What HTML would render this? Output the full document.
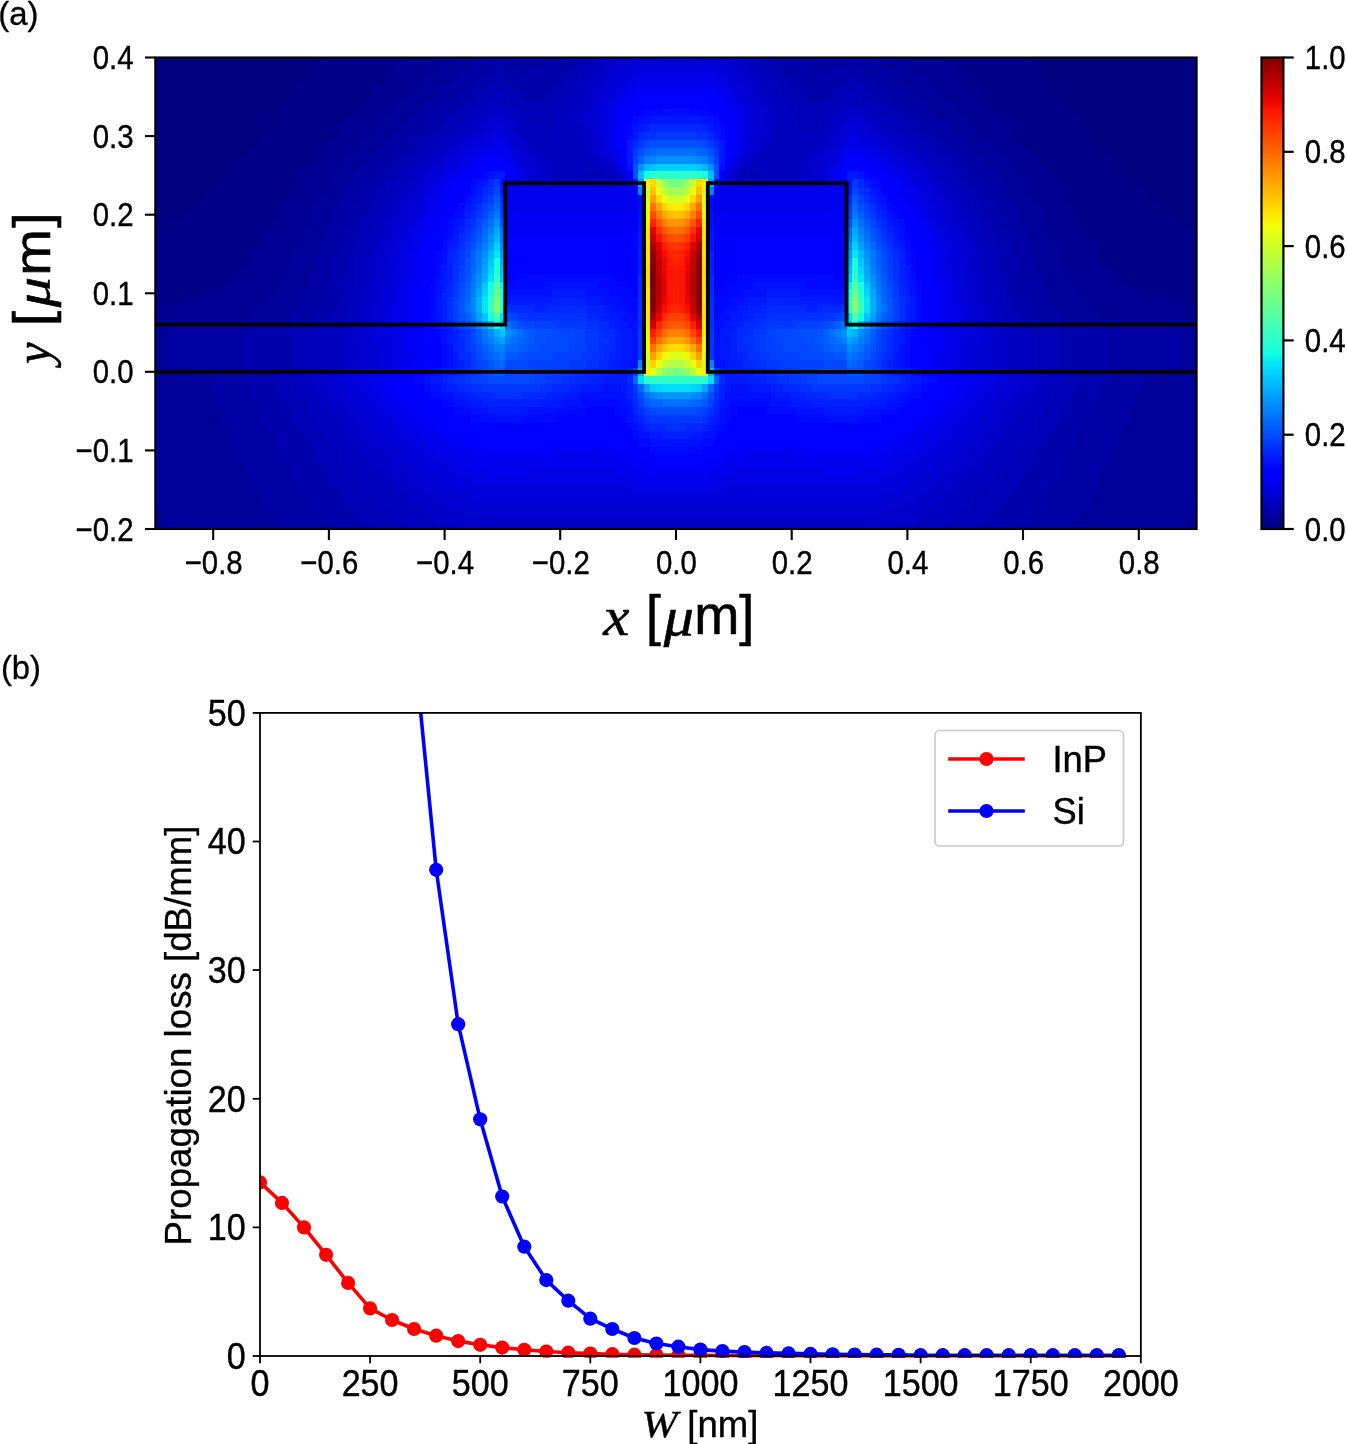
<!DOCTYPE html><html><head><meta charset="utf-8"><title>Figure</title><style>html,body{margin:0;padding:0;background:#fff}svg{display:block}text{font-family:"Liberation Sans",sans-serif;fill:#000}.it{font-family:"Liberation Serif",serif;font-style:italic}</style></head><body>
<svg width="1347" height="1444" viewBox="0 0 1347 1444">
<rect width="1347" height="1444" fill="#fff"/>
<g shape-rendering="crispEdges">
<rect x="155.3" y="57.5" width="171.0" height="4.2" fill="#000080"/><rect x="326.0" y="57.5" width="81.3" height="4.2" fill="#000089"/><rect x="406.9" y="57.5" width="46.6" height="4.2" fill="#000092"/><rect x="453.2" y="57.5" width="29.2" height="4.2" fill="#00009b"/><rect x="482.2" y="57.5" width="75.5" height="4.2" fill="#0000a4"/><rect x="557.4" y="57.5" width="23.4" height="4.2" fill="#0000ad"/><rect x="580.5" y="57.5" width="17.7" height="4.2" fill="#0000b6"/><rect x="597.9" y="57.5" width="11.9" height="4.2" fill="#0000bf"/><rect x="609.4" y="57.5" width="17.7" height="4.2" fill="#0000c8"/><rect x="626.8" y="57.5" width="29.2" height="4.2" fill="#0000d1"/><rect x="655.7" y="57.5" width="40.8" height="4.2" fill="#0000da"/><rect x="696.2" y="57.5" width="29.2" height="4.2" fill="#0000d1"/><rect x="725.1" y="57.5" width="17.7" height="4.2" fill="#0000c8"/><rect x="742.5" y="57.5" width="11.9" height="4.2" fill="#0000bf"/><rect x="754.0" y="57.5" width="17.7" height="4.2" fill="#0000b6"/><rect x="771.4" y="57.5" width="23.4" height="4.2" fill="#0000ad"/><rect x="794.5" y="57.5" width="75.5" height="4.2" fill="#0000a4"/><rect x="869.7" y="57.5" width="29.2" height="4.2" fill="#00009b"/><rect x="898.7" y="57.5" width="46.6" height="4.2" fill="#000092"/><rect x="945.0" y="57.5" width="81.3" height="4.2" fill="#000089"/><rect x="1025.9" y="57.5" width="171.0" height="4.2" fill="#000080"/><rect x="155.3" y="61.4" width="159.4" height="8.2" fill="#000080"/><rect x="314.4" y="61.4" width="81.3" height="8.2" fill="#000089"/><rect x="395.4" y="61.4" width="46.6" height="8.2" fill="#000092"/><rect x="441.7" y="61.4" width="29.2" height="8.2" fill="#00009b"/><rect x="470.6" y="61.4" width="29.2" height="8.2" fill="#0000a4"/><rect x="499.5" y="61.4" width="6.1" height="8.2" fill="#0000ad"/><rect x="505.3" y="61.4" width="40.8" height="8.2" fill="#0000a4"/><rect x="545.8" y="61.4" width="29.2" height="8.2" fill="#0000ad"/><rect x="574.7" y="61.4" width="17.7" height="8.2" fill="#0000b6"/><rect x="592.1" y="61.4" width="11.9" height="8.2" fill="#0000bf"/><rect x="603.6" y="61.4" width="11.9" height="8.2" fill="#0000c8"/><rect x="615.2" y="61.4" width="17.7" height="8.2" fill="#0000d1"/><rect x="632.6" y="61.4" width="87.1" height="8.2" fill="#0000da"/><rect x="719.3" y="61.4" width="17.7" height="8.2" fill="#0000d1"/><rect x="736.7" y="61.4" width="11.9" height="8.2" fill="#0000c8"/><rect x="748.3" y="61.4" width="11.9" height="8.2" fill="#0000bf"/><rect x="759.8" y="61.4" width="17.7" height="8.2" fill="#0000b6"/><rect x="777.2" y="61.4" width="29.2" height="8.2" fill="#0000ad"/><rect x="806.1" y="61.4" width="40.8" height="8.2" fill="#0000a4"/><rect x="846.6" y="61.4" width="6.1" height="8.2" fill="#0000ad"/><rect x="852.4" y="61.4" width="29.2" height="8.2" fill="#0000a4"/><rect x="881.3" y="61.4" width="29.2" height="8.2" fill="#00009b"/><rect x="910.2" y="61.4" width="46.6" height="8.2" fill="#000092"/><rect x="956.5" y="61.4" width="81.3" height="8.2" fill="#000089"/><rect x="1037.5" y="61.4" width="159.4" height="8.2" fill="#000080"/><rect x="155.3" y="69.3" width="153.6" height="8.2" fill="#000080"/><rect x="308.6" y="69.3" width="81.3" height="8.2" fill="#000089"/><rect x="389.6" y="69.3" width="40.8" height="8.2" fill="#000092"/><rect x="430.1" y="69.3" width="29.2" height="8.2" fill="#00009b"/><rect x="459.0" y="69.3" width="29.2" height="8.2" fill="#0000a4"/><rect x="487.9" y="69.3" width="35.0" height="8.2" fill="#0000ad"/><rect x="522.6" y="69.3" width="6.1" height="8.2" fill="#0000a4"/><rect x="528.4" y="69.3" width="40.8" height="8.2" fill="#0000ad"/><rect x="568.9" y="69.3" width="17.7" height="8.2" fill="#0000b6"/><rect x="586.3" y="69.3" width="11.9" height="8.2" fill="#0000bf"/><rect x="597.9" y="69.3" width="11.9" height="8.2" fill="#0000c8"/><rect x="609.4" y="69.3" width="11.9" height="8.2" fill="#0000d1"/><rect x="621.0" y="69.3" width="17.7" height="8.2" fill="#0000da"/><rect x="638.3" y="69.3" width="75.5" height="8.2" fill="#0000e3"/><rect x="713.6" y="69.3" width="17.7" height="8.2" fill="#0000da"/><rect x="730.9" y="69.3" width="11.9" height="8.2" fill="#0000d1"/><rect x="742.5" y="69.3" width="11.9" height="8.2" fill="#0000c8"/><rect x="754.0" y="69.3" width="11.9" height="8.2" fill="#0000bf"/><rect x="765.6" y="69.3" width="17.7" height="8.2" fill="#0000b6"/><rect x="783.0" y="69.3" width="40.8" height="8.2" fill="#0000ad"/><rect x="823.5" y="69.3" width="6.1" height="8.2" fill="#0000a4"/><rect x="829.3" y="69.3" width="35.0" height="8.2" fill="#0000ad"/><rect x="864.0" y="69.3" width="29.2" height="8.2" fill="#0000a4"/><rect x="892.9" y="69.3" width="29.2" height="8.2" fill="#00009b"/><rect x="921.8" y="69.3" width="40.8" height="8.2" fill="#000092"/><rect x="962.3" y="69.3" width="81.3" height="8.2" fill="#000089"/><rect x="1043.3" y="69.3" width="153.6" height="8.2" fill="#000080"/><rect x="155.3" y="77.1" width="147.8" height="8.2" fill="#000080"/><rect x="302.8" y="77.1" width="81.3" height="8.2" fill="#000089"/><rect x="383.8" y="77.1" width="40.8" height="8.2" fill="#000092"/><rect x="424.3" y="77.1" width="29.2" height="8.2" fill="#00009b"/><rect x="453.2" y="77.1" width="23.4" height="8.2" fill="#0000a4"/><rect x="476.4" y="77.1" width="17.7" height="8.2" fill="#0000ad"/><rect x="493.7" y="77.1" width="11.9" height="8.2" fill="#0000b6"/><rect x="505.3" y="77.1" width="58.2" height="8.2" fill="#0000ad"/><rect x="563.1" y="77.1" width="17.7" height="8.2" fill="#0000b6"/><rect x="580.5" y="77.1" width="11.9" height="8.2" fill="#0000bf"/><rect x="592.1" y="77.1" width="11.9" height="8.2" fill="#0000c8"/><rect x="603.6" y="77.1" width="11.9" height="8.2" fill="#0000d1"/><rect x="615.2" y="77.1" width="11.9" height="8.2" fill="#0000da"/><rect x="626.8" y="77.1" width="11.9" height="8.2" fill="#0000e3"/><rect x="638.3" y="77.1" width="75.5" height="8.2" fill="#0000ec"/><rect x="713.6" y="77.1" width="11.9" height="8.2" fill="#0000e3"/><rect x="725.1" y="77.1" width="11.9" height="8.2" fill="#0000da"/><rect x="736.7" y="77.1" width="11.9" height="8.2" fill="#0000d1"/><rect x="748.3" y="77.1" width="11.9" height="8.2" fill="#0000c8"/><rect x="759.8" y="77.1" width="11.9" height="8.2" fill="#0000bf"/><rect x="771.4" y="77.1" width="17.7" height="8.2" fill="#0000b6"/><rect x="788.8" y="77.1" width="58.2" height="8.2" fill="#0000ad"/><rect x="846.6" y="77.1" width="11.9" height="8.2" fill="#0000b6"/><rect x="858.2" y="77.1" width="17.7" height="8.2" fill="#0000ad"/><rect x="875.5" y="77.1" width="23.4" height="8.2" fill="#0000a4"/><rect x="898.7" y="77.1" width="29.2" height="8.2" fill="#00009b"/><rect x="927.6" y="77.1" width="40.8" height="8.2" fill="#000092"/><rect x="968.1" y="77.1" width="81.3" height="8.2" fill="#000089"/><rect x="1049.1" y="77.1" width="147.8" height="8.2" fill="#000080"/><rect x="155.3" y="85.0" width="142.0" height="8.2" fill="#000080"/><rect x="297.0" y="85.0" width="75.5" height="8.2" fill="#000089"/><rect x="372.2" y="85.0" width="40.8" height="8.2" fill="#000092"/><rect x="412.7" y="85.0" width="29.2" height="8.2" fill="#00009b"/><rect x="441.7" y="85.0" width="23.4" height="8.2" fill="#0000a4"/><rect x="464.8" y="85.0" width="23.4" height="8.2" fill="#0000ad"/><rect x="487.9" y="85.0" width="23.4" height="8.2" fill="#0000b6"/><rect x="511.1" y="85.0" width="46.6" height="8.2" fill="#0000ad"/><rect x="557.4" y="85.0" width="17.7" height="8.2" fill="#0000b6"/><rect x="574.7" y="85.0" width="17.7" height="8.2" fill="#0000bf"/><rect x="592.1" y="85.0" width="6.1" height="8.2" fill="#0000c8"/><rect x="597.9" y="85.0" width="11.9" height="8.2" fill="#0000d1"/><rect x="609.4" y="85.0" width="11.9" height="8.2" fill="#0000da"/><rect x="621.0" y="85.0" width="6.1" height="8.2" fill="#0000e3"/><rect x="626.8" y="85.0" width="11.9" height="8.2" fill="#0000ec"/><rect x="638.3" y="85.0" width="75.5" height="8.2" fill="#0000f5"/><rect x="713.6" y="85.0" width="11.9" height="8.2" fill="#0000ec"/><rect x="725.1" y="85.0" width="6.1" height="8.2" fill="#0000e3"/><rect x="730.9" y="85.0" width="11.9" height="8.2" fill="#0000da"/><rect x="742.5" y="85.0" width="11.9" height="8.2" fill="#0000d1"/><rect x="754.0" y="85.0" width="6.1" height="8.2" fill="#0000c8"/><rect x="759.8" y="85.0" width="17.7" height="8.2" fill="#0000bf"/><rect x="777.2" y="85.0" width="17.7" height="8.2" fill="#0000b6"/><rect x="794.5" y="85.0" width="46.6" height="8.2" fill="#0000ad"/><rect x="840.8" y="85.0" width="23.4" height="8.2" fill="#0000b6"/><rect x="864.0" y="85.0" width="23.4" height="8.2" fill="#0000ad"/><rect x="887.1" y="85.0" width="23.4" height="8.2" fill="#0000a4"/><rect x="910.2" y="85.0" width="29.2" height="8.2" fill="#00009b"/><rect x="939.2" y="85.0" width="40.8" height="8.2" fill="#000092"/><rect x="979.7" y="85.0" width="75.5" height="8.2" fill="#000089"/><rect x="1054.9" y="85.0" width="142.0" height="8.2" fill="#000080"/><rect x="155.3" y="92.9" width="136.2" height="8.2" fill="#000080"/><rect x="291.2" y="92.9" width="75.5" height="8.2" fill="#000089"/><rect x="366.5" y="92.9" width="40.8" height="8.2" fill="#000092"/><rect x="406.9" y="92.9" width="29.2" height="8.2" fill="#00009b"/><rect x="435.9" y="92.9" width="23.4" height="8.2" fill="#0000a4"/><rect x="459.0" y="92.9" width="17.7" height="8.2" fill="#0000ad"/><rect x="476.4" y="92.9" width="17.7" height="8.2" fill="#0000b6"/><rect x="493.7" y="92.9" width="11.9" height="8.2" fill="#0000bf"/><rect x="505.3" y="92.9" width="17.7" height="8.2" fill="#0000b6"/><rect x="522.6" y="92.9" width="23.4" height="8.2" fill="#0000ad"/><rect x="545.8" y="92.9" width="23.4" height="8.2" fill="#0000b6"/><rect x="568.9" y="92.9" width="17.7" height="8.2" fill="#0000bf"/><rect x="586.3" y="92.9" width="11.9" height="8.2" fill="#0000c8"/><rect x="597.9" y="92.9" width="6.1" height="8.2" fill="#0000d1"/><rect x="603.6" y="92.9" width="11.9" height="8.2" fill="#0000da"/><rect x="615.2" y="92.9" width="6.1" height="8.2" fill="#0000e3"/><rect x="621.0" y="92.9" width="6.1" height="8.2" fill="#0000ec"/><rect x="626.8" y="92.9" width="11.9" height="8.2" fill="#0000f5"/><rect x="638.3" y="92.9" width="17.7" height="8.2" fill="#0000fe"/><rect x="655.7" y="92.9" width="40.8" height="8.2" fill="#0000ff"/><rect x="696.2" y="92.9" width="17.7" height="8.2" fill="#0000fe"/><rect x="713.6" y="92.9" width="11.9" height="8.2" fill="#0000f5"/><rect x="725.1" y="92.9" width="6.1" height="8.2" fill="#0000ec"/><rect x="730.9" y="92.9" width="6.1" height="8.2" fill="#0000e3"/><rect x="736.7" y="92.9" width="11.9" height="8.2" fill="#0000da"/><rect x="748.3" y="92.9" width="6.1" height="8.2" fill="#0000d1"/><rect x="754.0" y="92.9" width="11.9" height="8.2" fill="#0000c8"/><rect x="765.6" y="92.9" width="17.7" height="8.2" fill="#0000bf"/><rect x="783.0" y="92.9" width="23.4" height="8.2" fill="#0000b6"/><rect x="806.1" y="92.9" width="23.4" height="8.2" fill="#0000ad"/><rect x="829.3" y="92.9" width="17.7" height="8.2" fill="#0000b6"/><rect x="846.6" y="92.9" width="11.9" height="8.2" fill="#0000bf"/><rect x="858.2" y="92.9" width="17.7" height="8.2" fill="#0000b6"/><rect x="875.5" y="92.9" width="17.7" height="8.2" fill="#0000ad"/><rect x="892.9" y="92.9" width="23.4" height="8.2" fill="#0000a4"/><rect x="916.0" y="92.9" width="29.2" height="8.2" fill="#00009b"/><rect x="945.0" y="92.9" width="40.8" height="8.2" fill="#000092"/><rect x="985.4" y="92.9" width="75.5" height="8.2" fill="#000089"/><rect x="1060.7" y="92.9" width="136.2" height="8.2" fill="#000080"/><rect x="155.3" y="100.7" width="130.5" height="8.2" fill="#000080"/><rect x="285.5" y="100.7" width="75.5" height="8.2" fill="#000089"/><rect x="360.7" y="100.7" width="35.0" height="8.2" fill="#000092"/><rect x="395.4" y="100.7" width="29.2" height="8.2" fill="#00009b"/><rect x="424.3" y="100.7" width="23.4" height="8.2" fill="#0000a4"/><rect x="447.4" y="100.7" width="17.7" height="8.2" fill="#0000ad"/><rect x="464.8" y="100.7" width="17.7" height="8.2" fill="#0000b6"/><rect x="482.2" y="100.7" width="29.2" height="8.2" fill="#0000bf"/><rect x="511.1" y="100.7" width="52.4" height="8.2" fill="#0000b6"/><rect x="563.1" y="100.7" width="17.7" height="8.2" fill="#0000bf"/><rect x="580.5" y="100.7" width="11.9" height="8.2" fill="#0000c8"/><rect x="592.1" y="100.7" width="6.1" height="8.2" fill="#0000d1"/><rect x="597.9" y="100.7" width="11.9" height="8.2" fill="#0000da"/><rect x="609.4" y="100.7" width="6.1" height="8.2" fill="#0000e3"/><rect x="615.2" y="100.7" width="6.1" height="8.2" fill="#0000ec"/><rect x="621.0" y="100.7" width="6.1" height="8.2" fill="#0000f5"/><rect x="626.8" y="100.7" width="11.9" height="8.2" fill="#0000fe"/><rect x="638.3" y="100.7" width="11.9" height="8.2" fill="#0000ff"/><rect x="649.9" y="100.7" width="52.4" height="8.2" fill="#0000ff"/><rect x="702.0" y="100.7" width="11.9" height="8.2" fill="#0000ff"/><rect x="713.6" y="100.7" width="11.9" height="8.2" fill="#0000fe"/><rect x="725.1" y="100.7" width="6.1" height="8.2" fill="#0000f5"/><rect x="730.9" y="100.7" width="6.1" height="8.2" fill="#0000ec"/><rect x="736.7" y="100.7" width="6.1" height="8.2" fill="#0000e3"/><rect x="742.5" y="100.7" width="11.9" height="8.2" fill="#0000da"/><rect x="754.0" y="100.7" width="6.1" height="8.2" fill="#0000d1"/><rect x="759.8" y="100.7" width="11.9" height="8.2" fill="#0000c8"/><rect x="771.4" y="100.7" width="17.7" height="8.2" fill="#0000bf"/><rect x="788.8" y="100.7" width="52.4" height="8.2" fill="#0000b6"/><rect x="840.8" y="100.7" width="29.2" height="8.2" fill="#0000bf"/><rect x="869.7" y="100.7" width="17.7" height="8.2" fill="#0000b6"/><rect x="887.1" y="100.7" width="17.7" height="8.2" fill="#0000ad"/><rect x="904.5" y="100.7" width="23.4" height="8.2" fill="#0000a4"/><rect x="927.6" y="100.7" width="29.2" height="8.2" fill="#00009b"/><rect x="956.5" y="100.7" width="35.0" height="8.2" fill="#000092"/><rect x="991.2" y="100.7" width="75.5" height="8.2" fill="#000089"/><rect x="1066.4" y="100.7" width="130.5" height="8.2" fill="#000080"/><rect x="155.3" y="108.6" width="124.7" height="8.2" fill="#000080"/><rect x="279.7" y="108.6" width="75.5" height="8.2" fill="#000089"/><rect x="354.9" y="108.6" width="35.0" height="8.2" fill="#000092"/><rect x="389.6" y="108.6" width="29.2" height="8.2" fill="#00009b"/><rect x="418.5" y="108.6" width="17.7" height="8.2" fill="#0000a4"/><rect x="435.9" y="108.6" width="17.7" height="8.2" fill="#0000ad"/><rect x="453.2" y="108.6" width="17.7" height="8.2" fill="#0000b6"/><rect x="470.6" y="108.6" width="17.7" height="8.2" fill="#0000bf"/><rect x="487.9" y="108.6" width="23.4" height="8.2" fill="#0000c8"/><rect x="511.1" y="108.6" width="11.9" height="8.2" fill="#0000bf"/><rect x="522.6" y="108.6" width="35.0" height="8.2" fill="#0000b6"/><rect x="557.4" y="108.6" width="17.7" height="8.2" fill="#0000bf"/><rect x="574.7" y="108.6" width="11.9" height="8.2" fill="#0000c8"/><rect x="586.3" y="108.6" width="11.9" height="8.2" fill="#0000d1"/><rect x="597.9" y="108.6" width="6.1" height="8.2" fill="#0000da"/><rect x="603.6" y="108.6" width="6.1" height="8.2" fill="#0000e3"/><rect x="609.4" y="108.6" width="6.1" height="8.2" fill="#0000ec"/><rect x="615.2" y="108.6" width="6.1" height="8.2" fill="#0000f5"/><rect x="621.0" y="108.6" width="6.1" height="8.2" fill="#0000fe"/><rect x="626.8" y="108.6" width="6.1" height="8.2" fill="#0000ff"/><rect x="632.6" y="108.6" width="11.9" height="8.2" fill="#0000ff"/><rect x="644.1" y="108.6" width="17.7" height="8.2" fill="#0008ff"/><rect x="661.5" y="108.6" width="29.2" height="8.2" fill="#0010ff"/><rect x="690.4" y="108.6" width="17.7" height="8.2" fill="#0008ff"/><rect x="707.8" y="108.6" width="11.9" height="8.2" fill="#0000ff"/><rect x="719.3" y="108.6" width="6.1" height="8.2" fill="#0000ff"/><rect x="725.1" y="108.6" width="6.1" height="8.2" fill="#0000fe"/><rect x="730.9" y="108.6" width="6.1" height="8.2" fill="#0000f5"/><rect x="736.7" y="108.6" width="6.1" height="8.2" fill="#0000ec"/><rect x="742.5" y="108.6" width="6.1" height="8.2" fill="#0000e3"/><rect x="748.3" y="108.6" width="6.1" height="8.2" fill="#0000da"/><rect x="754.0" y="108.6" width="11.9" height="8.2" fill="#0000d1"/><rect x="765.6" y="108.6" width="11.9" height="8.2" fill="#0000c8"/><rect x="777.2" y="108.6" width="17.7" height="8.2" fill="#0000bf"/><rect x="794.5" y="108.6" width="35.0" height="8.2" fill="#0000b6"/><rect x="829.3" y="108.6" width="11.9" height="8.2" fill="#0000bf"/><rect x="840.8" y="108.6" width="23.4" height="8.2" fill="#0000c8"/><rect x="864.0" y="108.6" width="17.7" height="8.2" fill="#0000bf"/><rect x="881.3" y="108.6" width="17.7" height="8.2" fill="#0000b6"/><rect x="898.7" y="108.6" width="17.7" height="8.2" fill="#0000ad"/><rect x="916.0" y="108.6" width="17.7" height="8.2" fill="#0000a4"/><rect x="933.4" y="108.6" width="29.2" height="8.2" fill="#00009b"/><rect x="962.3" y="108.6" width="35.0" height="8.2" fill="#000092"/><rect x="997.0" y="108.6" width="75.5" height="8.2" fill="#000089"/><rect x="1072.2" y="108.6" width="124.7" height="8.2" fill="#000080"/><rect x="155.3" y="116.4" width="118.9" height="8.2" fill="#000080"/><rect x="273.9" y="116.4" width="69.7" height="8.2" fill="#000089"/><rect x="343.3" y="116.4" width="40.8" height="8.2" fill="#000092"/><rect x="383.8" y="116.4" width="23.4" height="8.2" fill="#00009b"/><rect x="406.9" y="116.4" width="23.4" height="8.2" fill="#0000a4"/><rect x="430.1" y="116.4" width="17.7" height="8.2" fill="#0000ad"/><rect x="447.4" y="116.4" width="17.7" height="8.2" fill="#0000b6"/><rect x="464.8" y="116.4" width="11.9" height="8.2" fill="#0000bf"/><rect x="476.4" y="116.4" width="11.9" height="8.2" fill="#0000c8"/><rect x="487.9" y="116.4" width="17.7" height="8.2" fill="#0000d1"/><rect x="505.3" y="116.4" width="11.9" height="8.2" fill="#0000c8"/><rect x="516.9" y="116.4" width="11.9" height="8.2" fill="#0000bf"/><rect x="528.4" y="116.4" width="29.2" height="8.2" fill="#0000b6"/><rect x="557.4" y="116.4" width="17.7" height="8.2" fill="#0000bf"/><rect x="574.7" y="116.4" width="11.9" height="8.2" fill="#0000c8"/><rect x="586.3" y="116.4" width="11.9" height="8.2" fill="#0000d1"/><rect x="597.9" y="116.4" width="6.1" height="8.2" fill="#0000da"/><rect x="603.6" y="116.4" width="6.1" height="8.2" fill="#0000e3"/><rect x="609.4" y="116.4" width="6.1" height="8.2" fill="#0000ec"/><rect x="615.2" y="116.4" width="6.1" height="8.2" fill="#0000f5"/><rect x="621.0" y="116.4" width="6.1" height="8.2" fill="#0000ff"/><rect x="626.8" y="116.4" width="6.1" height="8.2" fill="#0000ff"/><rect x="632.6" y="116.4" width="6.1" height="8.2" fill="#0008ff"/><rect x="638.3" y="116.4" width="11.9" height="8.2" fill="#0010ff"/><rect x="649.9" y="116.4" width="52.4" height="8.2" fill="#0018ff"/><rect x="702.0" y="116.4" width="11.9" height="8.2" fill="#0010ff"/><rect x="713.6" y="116.4" width="6.1" height="8.2" fill="#0008ff"/><rect x="719.3" y="116.4" width="6.1" height="8.2" fill="#0000ff"/><rect x="725.1" y="116.4" width="6.1" height="8.2" fill="#0000ff"/><rect x="730.9" y="116.4" width="6.1" height="8.2" fill="#0000f5"/><rect x="736.7" y="116.4" width="6.1" height="8.2" fill="#0000ec"/><rect x="742.5" y="116.4" width="6.1" height="8.2" fill="#0000e3"/><rect x="748.3" y="116.4" width="6.1" height="8.2" fill="#0000da"/><rect x="754.0" y="116.4" width="11.9" height="8.2" fill="#0000d1"/><rect x="765.6" y="116.4" width="11.9" height="8.2" fill="#0000c8"/><rect x="777.2" y="116.4" width="17.7" height="8.2" fill="#0000bf"/><rect x="794.5" y="116.4" width="29.2" height="8.2" fill="#0000b6"/><rect x="823.5" y="116.4" width="11.9" height="8.2" fill="#0000bf"/><rect x="835.0" y="116.4" width="11.9" height="8.2" fill="#0000c8"/><rect x="846.6" y="116.4" width="17.7" height="8.2" fill="#0000d1"/><rect x="864.0" y="116.4" width="11.9" height="8.2" fill="#0000c8"/><rect x="875.5" y="116.4" width="11.9" height="8.2" fill="#0000bf"/><rect x="887.1" y="116.4" width="17.7" height="8.2" fill="#0000b6"/><rect x="904.5" y="116.4" width="17.7" height="8.2" fill="#0000ad"/><rect x="921.8" y="116.4" width="23.4" height="8.2" fill="#0000a4"/><rect x="945.0" y="116.4" width="23.4" height="8.2" fill="#00009b"/><rect x="968.1" y="116.4" width="40.8" height="8.2" fill="#000092"/><rect x="1008.6" y="116.4" width="69.7" height="8.2" fill="#000089"/><rect x="1078.0" y="116.4" width="118.9" height="8.2" fill="#000080"/><rect x="155.3" y="124.3" width="113.1" height="8.2" fill="#000080"/><rect x="268.1" y="124.3" width="69.7" height="8.2" fill="#000089"/><rect x="337.5" y="124.3" width="40.8" height="8.2" fill="#000092"/><rect x="378.0" y="124.3" width="23.4" height="8.2" fill="#00009b"/><rect x="401.2" y="124.3" width="23.4" height="8.2" fill="#0000a4"/><rect x="424.3" y="124.3" width="17.7" height="8.2" fill="#0000ad"/><rect x="441.7" y="124.3" width="11.9" height="8.2" fill="#0000b6"/><rect x="453.2" y="124.3" width="17.7" height="8.2" fill="#0000bf"/><rect x="470.6" y="124.3" width="11.9" height="8.2" fill="#0000c8"/><rect x="482.2" y="124.3" width="11.9" height="8.2" fill="#0000d1"/><rect x="493.7" y="124.3" width="11.9" height="8.2" fill="#0000da"/><rect x="505.3" y="124.3" width="6.1" height="8.2" fill="#0000d1"/><rect x="511.1" y="124.3" width="6.1" height="8.2" fill="#0000c8"/><rect x="516.9" y="124.3" width="23.4" height="8.2" fill="#0000bf"/><rect x="540.0" y="124.3" width="11.9" height="8.2" fill="#0000b6"/><rect x="551.6" y="124.3" width="29.2" height="8.2" fill="#0000bf"/><rect x="580.5" y="124.3" width="6.1" height="8.2" fill="#0000c8"/><rect x="586.3" y="124.3" width="11.9" height="8.2" fill="#0000d1"/><rect x="597.9" y="124.3" width="6.1" height="8.2" fill="#0000da"/><rect x="603.6" y="124.3" width="6.1" height="8.2" fill="#0000e3"/><rect x="609.4" y="124.3" width="6.1" height="8.2" fill="#0000ec"/><rect x="615.2" y="124.3" width="6.1" height="8.2" fill="#0000fe"/><rect x="621.0" y="124.3" width="6.1" height="8.2" fill="#0000ff"/><rect x="626.8" y="124.3" width="6.1" height="8.2" fill="#0008ff"/><rect x="632.6" y="124.3" width="6.1" height="8.2" fill="#0010ff"/><rect x="638.3" y="124.3" width="6.1" height="8.2" fill="#0018ff"/><rect x="644.1" y="124.3" width="6.1" height="8.2" fill="#0020ff"/><rect x="649.9" y="124.3" width="52.4" height="8.2" fill="#0028ff"/><rect x="702.0" y="124.3" width="6.1" height="8.2" fill="#0020ff"/><rect x="707.8" y="124.3" width="6.1" height="8.2" fill="#0018ff"/><rect x="713.6" y="124.3" width="6.1" height="8.2" fill="#0010ff"/><rect x="719.3" y="124.3" width="6.1" height="8.2" fill="#0008ff"/><rect x="725.1" y="124.3" width="6.1" height="8.2" fill="#0000ff"/><rect x="730.9" y="124.3" width="6.1" height="8.2" fill="#0000fe"/><rect x="736.7" y="124.3" width="6.1" height="8.2" fill="#0000ec"/><rect x="742.5" y="124.3" width="6.1" height="8.2" fill="#0000e3"/><rect x="748.3" y="124.3" width="6.1" height="8.2" fill="#0000da"/><rect x="754.0" y="124.3" width="11.9" height="8.2" fill="#0000d1"/><rect x="765.6" y="124.3" width="6.1" height="8.2" fill="#0000c8"/><rect x="771.4" y="124.3" width="29.2" height="8.2" fill="#0000bf"/><rect x="800.3" y="124.3" width="11.9" height="8.2" fill="#0000b6"/><rect x="811.9" y="124.3" width="23.4" height="8.2" fill="#0000bf"/><rect x="835.0" y="124.3" width="6.1" height="8.2" fill="#0000c8"/><rect x="840.8" y="124.3" width="6.1" height="8.2" fill="#0000d1"/><rect x="846.6" y="124.3" width="11.9" height="8.2" fill="#0000da"/><rect x="858.2" y="124.3" width="11.9" height="8.2" fill="#0000d1"/><rect x="869.7" y="124.3" width="11.9" height="8.2" fill="#0000c8"/><rect x="881.3" y="124.3" width="17.7" height="8.2" fill="#0000bf"/><rect x="898.7" y="124.3" width="11.9" height="8.2" fill="#0000b6"/><rect x="910.2" y="124.3" width="17.7" height="8.2" fill="#0000ad"/><rect x="927.6" y="124.3" width="23.4" height="8.2" fill="#0000a4"/><rect x="950.7" y="124.3" width="23.4" height="8.2" fill="#00009b"/><rect x="973.9" y="124.3" width="40.8" height="8.2" fill="#000092"/><rect x="1014.4" y="124.3" width="69.7" height="8.2" fill="#000089"/><rect x="1083.8" y="124.3" width="113.1" height="8.2" fill="#000080"/><rect x="155.3" y="132.2" width="107.3" height="8.2" fill="#000080"/><rect x="262.3" y="132.2" width="75.5" height="8.2" fill="#000089"/><rect x="337.5" y="132.2" width="35.0" height="8.2" fill="#000092"/><rect x="372.2" y="132.2" width="23.4" height="8.2" fill="#00009b"/><rect x="395.4" y="132.2" width="17.7" height="8.2" fill="#0000a4"/><rect x="412.7" y="132.2" width="17.7" height="8.2" fill="#0000ad"/><rect x="430.1" y="132.2" width="17.7" height="8.2" fill="#0000b6"/><rect x="447.4" y="132.2" width="11.9" height="8.2" fill="#0000bf"/><rect x="459.0" y="132.2" width="11.9" height="8.2" fill="#0000c8"/><rect x="470.6" y="132.2" width="11.9" height="8.2" fill="#0000d1"/><rect x="482.2" y="132.2" width="11.9" height="8.2" fill="#0000da"/><rect x="493.7" y="132.2" width="11.9" height="8.2" fill="#0000e3"/><rect x="505.3" y="132.2" width="11.9" height="8.2" fill="#0000d1"/><rect x="516.9" y="132.2" width="6.1" height="8.2" fill="#0000c8"/><rect x="522.6" y="132.2" width="58.1" height="8.2" fill="#0000bf"/><rect x="580.5" y="132.2" width="11.9" height="8.2" fill="#0000c8"/><rect x="592.1" y="132.2" width="6.1" height="8.2" fill="#0000d1"/><rect x="597.9" y="132.2" width="6.1" height="8.2" fill="#0000da"/><rect x="603.6" y="132.2" width="6.1" height="8.2" fill="#0000e3"/><rect x="609.4" y="132.2" width="6.1" height="8.2" fill="#0000ec"/><rect x="615.2" y="132.2" width="6.1" height="8.2" fill="#0000fe"/><rect x="621.0" y="132.2" width="6.1" height="8.2" fill="#0000ff"/><rect x="626.8" y="132.2" width="6.1" height="8.2" fill="#0008ff"/><rect x="632.6" y="132.2" width="6.1" height="8.2" fill="#0018ff"/><rect x="638.3" y="132.2" width="6.1" height="8.2" fill="#0028ff"/><rect x="644.1" y="132.2" width="11.9" height="8.2" fill="#0030ff"/><rect x="655.7" y="132.2" width="40.8" height="8.2" fill="#0038ff"/><rect x="696.2" y="132.2" width="11.9" height="8.2" fill="#0030ff"/><rect x="707.8" y="132.2" width="6.1" height="8.2" fill="#0028ff"/><rect x="713.6" y="132.2" width="6.1" height="8.2" fill="#0018ff"/><rect x="719.3" y="132.2" width="6.1" height="8.2" fill="#0008ff"/><rect x="725.1" y="132.2" width="6.1" height="8.2" fill="#0000ff"/><rect x="730.9" y="132.2" width="6.1" height="8.2" fill="#0000fe"/><rect x="736.7" y="132.2" width="6.1" height="8.2" fill="#0000ec"/><rect x="742.5" y="132.2" width="6.1" height="8.2" fill="#0000e3"/><rect x="748.3" y="132.2" width="6.1" height="8.2" fill="#0000da"/><rect x="754.0" y="132.2" width="6.1" height="8.2" fill="#0000d1"/><rect x="759.8" y="132.2" width="11.9" height="8.2" fill="#0000c8"/><rect x="771.4" y="132.2" width="58.2" height="8.2" fill="#0000bf"/><rect x="829.3" y="132.2" width="6.1" height="8.2" fill="#0000c8"/><rect x="835.0" y="132.2" width="11.9" height="8.2" fill="#0000d1"/><rect x="846.6" y="132.2" width="11.9" height="8.2" fill="#0000e3"/><rect x="858.2" y="132.2" width="11.9" height="8.2" fill="#0000da"/><rect x="869.7" y="132.2" width="11.9" height="8.2" fill="#0000d1"/><rect x="881.3" y="132.2" width="11.9" height="8.2" fill="#0000c8"/><rect x="892.9" y="132.2" width="11.9" height="8.2" fill="#0000bf"/><rect x="904.5" y="132.2" width="17.7" height="8.2" fill="#0000b6"/><rect x="921.8" y="132.2" width="17.7" height="8.2" fill="#0000ad"/><rect x="939.2" y="132.2" width="17.7" height="8.2" fill="#0000a4"/><rect x="956.5" y="132.2" width="23.4" height="8.2" fill="#00009b"/><rect x="979.7" y="132.2" width="35.0" height="8.2" fill="#000092"/><rect x="1014.4" y="132.2" width="75.5" height="8.2" fill="#000089"/><rect x="1089.6" y="132.2" width="107.3" height="8.2" fill="#000080"/><rect x="155.3" y="140.0" width="101.5" height="8.2" fill="#000080"/><rect x="256.5" y="140.0" width="69.7" height="8.2" fill="#000089"/><rect x="326.0" y="140.0" width="35.0" height="8.2" fill="#000092"/><rect x="360.7" y="140.0" width="23.4" height="8.2" fill="#00009b"/><rect x="383.8" y="140.0" width="23.4" height="8.2" fill="#0000a4"/><rect x="406.9" y="140.0" width="11.9" height="8.2" fill="#0000ad"/><rect x="418.5" y="140.0" width="17.7" height="8.2" fill="#0000b6"/><rect x="435.9" y="140.0" width="11.9" height="8.2" fill="#0000bf"/><rect x="447.4" y="140.0" width="11.9" height="8.2" fill="#0000c8"/><rect x="459.0" y="140.0" width="11.9" height="8.2" fill="#0000d1"/><rect x="470.6" y="140.0" width="11.9" height="8.2" fill="#0000da"/><rect x="482.2" y="140.0" width="11.9" height="8.2" fill="#0000e3"/><rect x="493.7" y="140.0" width="11.9" height="8.2" fill="#0000ec"/><rect x="505.3" y="140.0" width="6.1" height="8.2" fill="#0000da"/><rect x="511.1" y="140.0" width="11.9" height="8.2" fill="#0000d1"/><rect x="522.6" y="140.0" width="6.1" height="8.2" fill="#0000c8"/><rect x="528.4" y="140.0" width="58.2" height="8.2" fill="#0000bf"/><rect x="586.3" y="140.0" width="6.1" height="8.2" fill="#0000c8"/><rect x="592.1" y="140.0" width="11.9" height="8.2" fill="#0000d1"/><rect x="603.6" y="140.0" width="6.1" height="8.2" fill="#0000e3"/><rect x="609.4" y="140.0" width="6.1" height="8.2" fill="#0000ec"/><rect x="615.2" y="140.0" width="6.1" height="8.2" fill="#0000fe"/><rect x="621.0" y="140.0" width="6.1" height="8.2" fill="#0000ff"/><rect x="626.8" y="140.0" width="6.1" height="8.2" fill="#0018ff"/><rect x="632.6" y="140.0" width="6.1" height="8.2" fill="#0028ff"/><rect x="638.3" y="140.0" width="6.1" height="8.2" fill="#0038ff"/><rect x="644.1" y="140.0" width="6.1" height="8.2" fill="#0048ff"/><rect x="649.9" y="140.0" width="52.4" height="8.2" fill="#0050ff"/><rect x="702.0" y="140.0" width="6.1" height="8.2" fill="#0048ff"/><rect x="707.8" y="140.0" width="6.1" height="8.2" fill="#0038ff"/><rect x="713.6" y="140.0" width="6.1" height="8.2" fill="#0028ff"/><rect x="719.3" y="140.0" width="6.1" height="8.2" fill="#0018ff"/><rect x="725.1" y="140.0" width="6.1" height="8.2" fill="#0000ff"/><rect x="730.9" y="140.0" width="6.1" height="8.2" fill="#0000fe"/><rect x="736.7" y="140.0" width="6.1" height="8.2" fill="#0000ec"/><rect x="742.5" y="140.0" width="6.1" height="8.2" fill="#0000e3"/><rect x="748.3" y="140.0" width="11.9" height="8.2" fill="#0000d1"/><rect x="759.8" y="140.0" width="6.1" height="8.2" fill="#0000c8"/><rect x="765.6" y="140.0" width="58.1" height="8.2" fill="#0000bf"/><rect x="823.5" y="140.0" width="6.1" height="8.2" fill="#0000c8"/><rect x="829.3" y="140.0" width="11.9" height="8.2" fill="#0000d1"/><rect x="840.8" y="140.0" width="6.1" height="8.2" fill="#0000da"/><rect x="846.6" y="140.0" width="11.9" height="8.2" fill="#0000ec"/><rect x="858.2" y="140.0" width="11.9" height="8.2" fill="#0000e3"/><rect x="869.7" y="140.0" width="11.9" height="8.2" fill="#0000da"/><rect x="881.3" y="140.0" width="11.9" height="8.2" fill="#0000d1"/><rect x="892.9" y="140.0" width="11.9" height="8.2" fill="#0000c8"/><rect x="904.5" y="140.0" width="11.9" height="8.2" fill="#0000bf"/><rect x="916.0" y="140.0" width="17.7" height="8.2" fill="#0000b6"/><rect x="933.4" y="140.0" width="11.9" height="8.2" fill="#0000ad"/><rect x="945.0" y="140.0" width="23.4" height="8.2" fill="#0000a4"/><rect x="968.1" y="140.0" width="23.4" height="8.2" fill="#00009b"/><rect x="991.2" y="140.0" width="35.0" height="8.2" fill="#000092"/><rect x="1025.9" y="140.0" width="69.7" height="8.2" fill="#000089"/><rect x="1095.4" y="140.0" width="101.5" height="8.2" fill="#000080"/><rect x="155.3" y="147.9" width="95.8" height="8.2" fill="#000080"/><rect x="250.8" y="147.9" width="69.7" height="8.2" fill="#000089"/><rect x="320.2" y="147.9" width="35.0" height="8.2" fill="#000092"/><rect x="354.9" y="147.9" width="23.4" height="8.2" fill="#00009b"/><rect x="378.0" y="147.9" width="17.7" height="8.2" fill="#0000a4"/><rect x="395.4" y="147.9" width="17.7" height="8.2" fill="#0000ad"/><rect x="412.7" y="147.9" width="11.9" height="8.2" fill="#0000b6"/><rect x="424.3" y="147.9" width="11.9" height="8.2" fill="#0000bf"/><rect x="435.9" y="147.9" width="11.9" height="8.2" fill="#0000c8"/><rect x="447.4" y="147.9" width="11.9" height="8.2" fill="#0000d1"/><rect x="459.0" y="147.9" width="11.9" height="8.2" fill="#0000da"/><rect x="470.6" y="147.9" width="11.9" height="8.2" fill="#0000e3"/><rect x="482.2" y="147.9" width="6.1" height="8.2" fill="#0000ec"/><rect x="487.9" y="147.9" width="17.7" height="8.2" fill="#0000f5"/><rect x="505.3" y="147.9" width="6.1" height="8.2" fill="#0000ec"/><rect x="511.1" y="147.9" width="6.1" height="8.2" fill="#0000da"/><rect x="516.9" y="147.9" width="11.9" height="8.2" fill="#0000d1"/><rect x="528.4" y="147.9" width="11.9" height="8.2" fill="#0000c8"/><rect x="540.0" y="147.9" width="52.4" height="8.2" fill="#0000bf"/><rect x="592.1" y="147.9" width="6.1" height="8.2" fill="#0000c8"/><rect x="597.9" y="147.9" width="6.1" height="8.2" fill="#0000d1"/><rect x="603.6" y="147.9" width="6.1" height="8.2" fill="#0000da"/><rect x="609.4" y="147.9" width="6.1" height="8.2" fill="#0000e3"/><rect x="615.2" y="147.9" width="6.1" height="8.2" fill="#0000f5"/><rect x="621.0" y="147.9" width="6.1" height="8.2" fill="#0000ff"/><rect x="626.8" y="147.9" width="6.1" height="8.2" fill="#0018ff"/><rect x="632.6" y="147.9" width="6.1" height="8.2" fill="#0038ff"/><rect x="638.3" y="147.9" width="6.1" height="8.2" fill="#0050ff"/><rect x="644.1" y="147.9" width="6.1" height="8.2" fill="#0060ff"/><rect x="649.9" y="147.9" width="6.1" height="8.2" fill="#0068ff"/><rect x="655.7" y="147.9" width="40.8" height="8.2" fill="#0070ff"/><rect x="696.2" y="147.9" width="6.1" height="8.2" fill="#0068ff"/><rect x="702.0" y="147.9" width="6.1" height="8.2" fill="#0060ff"/><rect x="707.8" y="147.9" width="6.1" height="8.2" fill="#0050ff"/><rect x="713.6" y="147.9" width="6.1" height="8.2" fill="#0038ff"/><rect x="719.3" y="147.9" width="6.1" height="8.2" fill="#0018ff"/><rect x="725.1" y="147.9" width="6.1" height="8.2" fill="#0000ff"/><rect x="730.9" y="147.9" width="6.1" height="8.2" fill="#0000f5"/><rect x="736.7" y="147.9" width="6.1" height="8.2" fill="#0000e3"/><rect x="742.5" y="147.9" width="6.1" height="8.2" fill="#0000da"/><rect x="748.3" y="147.9" width="6.1" height="8.2" fill="#0000d1"/><rect x="754.0" y="147.9" width="6.1" height="8.2" fill="#0000c8"/><rect x="759.8" y="147.9" width="52.4" height="8.2" fill="#0000bf"/><rect x="811.9" y="147.9" width="11.9" height="8.2" fill="#0000c8"/><rect x="823.5" y="147.9" width="11.9" height="8.2" fill="#0000d1"/><rect x="835.0" y="147.9" width="6.1" height="8.2" fill="#0000da"/><rect x="840.8" y="147.9" width="6.1" height="8.2" fill="#0000ec"/><rect x="846.6" y="147.9" width="17.7" height="8.2" fill="#0000f5"/><rect x="864.0" y="147.9" width="6.1" height="8.2" fill="#0000ec"/><rect x="869.7" y="147.9" width="11.9" height="8.2" fill="#0000e3"/><rect x="881.3" y="147.9" width="11.9" height="8.2" fill="#0000da"/><rect x="892.9" y="147.9" width="11.9" height="8.2" fill="#0000d1"/><rect x="904.5" y="147.9" width="11.9" height="8.2" fill="#0000c8"/><rect x="916.0" y="147.9" width="11.9" height="8.2" fill="#0000bf"/><rect x="927.6" y="147.9" width="11.9" height="8.2" fill="#0000b6"/><rect x="939.2" y="147.9" width="17.7" height="8.2" fill="#0000ad"/><rect x="956.5" y="147.9" width="17.7" height="8.2" fill="#0000a4"/><rect x="973.9" y="147.9" width="23.4" height="8.2" fill="#00009b"/><rect x="997.0" y="147.9" width="35.0" height="8.2" fill="#000092"/><rect x="1031.7" y="147.9" width="69.7" height="8.2" fill="#000089"/><rect x="1101.1" y="147.9" width="95.8" height="8.2" fill="#000080"/><rect x="155.3" y="155.7" width="84.2" height="8.2" fill="#000080"/><rect x="239.2" y="155.7" width="75.5" height="8.2" fill="#000089"/><rect x="314.4" y="155.7" width="29.2" height="8.2" fill="#000092"/><rect x="343.3" y="155.7" width="23.4" height="8.2" fill="#00009b"/><rect x="366.5" y="155.7" width="23.4" height="8.2" fill="#0000a4"/><rect x="389.6" y="155.7" width="11.9" height="8.2" fill="#0000ad"/><rect x="401.2" y="155.7" width="17.7" height="8.2" fill="#0000b6"/><rect x="418.5" y="155.7" width="11.9" height="8.2" fill="#0000bf"/><rect x="430.1" y="155.7" width="11.9" height="8.2" fill="#0000c8"/><rect x="441.7" y="155.7" width="6.1" height="8.2" fill="#0000d1"/><rect x="447.4" y="155.7" width="11.9" height="8.2" fill="#0000da"/><rect x="459.0" y="155.7" width="11.9" height="8.2" fill="#0000e3"/><rect x="470.6" y="155.7" width="6.1" height="8.2" fill="#0000ec"/><rect x="476.4" y="155.7" width="11.9" height="8.2" fill="#0000f5"/><rect x="487.9" y="155.7" width="6.1" height="8.2" fill="#0000fe"/><rect x="493.7" y="155.7" width="11.9" height="8.2" fill="#0000ff"/><rect x="505.3" y="155.7" width="6.1" height="8.2" fill="#0000f5"/><rect x="511.1" y="155.7" width="6.1" height="8.2" fill="#0000e3"/><rect x="516.9" y="155.7" width="6.1" height="8.2" fill="#0000da"/><rect x="522.6" y="155.7" width="11.9" height="8.2" fill="#0000d1"/><rect x="534.2" y="155.7" width="11.9" height="8.2" fill="#0000c8"/><rect x="545.8" y="155.7" width="52.4" height="8.2" fill="#0000bf"/><rect x="597.9" y="155.7" width="11.9" height="8.2" fill="#0000c8"/><rect x="609.4" y="155.7" width="6.1" height="8.2" fill="#0000da"/><rect x="615.2" y="155.7" width="6.1" height="8.2" fill="#0000ec"/><rect x="621.0" y="155.7" width="6.1" height="8.2" fill="#0000fe"/><rect x="626.8" y="155.7" width="6.1" height="8.2" fill="#0018ff"/><rect x="632.6" y="155.7" width="6.1" height="8.2" fill="#0040ff"/><rect x="638.3" y="155.7" width="6.1" height="8.2" fill="#0060ff"/><rect x="644.1" y="155.7" width="6.1" height="8.2" fill="#0080ff"/><rect x="649.9" y="155.7" width="6.1" height="8.2" fill="#0087ff"/><rect x="655.7" y="155.7" width="40.8" height="8.2" fill="#008fff"/><rect x="696.2" y="155.7" width="6.1" height="8.2" fill="#0087ff"/><rect x="702.0" y="155.7" width="6.1" height="8.2" fill="#0080ff"/><rect x="707.8" y="155.7" width="6.1" height="8.2" fill="#0060ff"/><rect x="713.6" y="155.7" width="6.1" height="8.2" fill="#0040ff"/><rect x="719.3" y="155.7" width="6.1" height="8.2" fill="#0018ff"/><rect x="725.1" y="155.7" width="6.1" height="8.2" fill="#0000fe"/><rect x="730.9" y="155.7" width="6.1" height="8.2" fill="#0000ec"/><rect x="736.7" y="155.7" width="6.1" height="8.2" fill="#0000da"/><rect x="742.5" y="155.7" width="11.9" height="8.2" fill="#0000c8"/><rect x="754.0" y="155.7" width="52.4" height="8.2" fill="#0000bf"/><rect x="806.1" y="155.7" width="11.9" height="8.2" fill="#0000c8"/><rect x="817.7" y="155.7" width="11.9" height="8.2" fill="#0000d1"/><rect x="829.3" y="155.7" width="6.1" height="8.2" fill="#0000da"/><rect x="835.0" y="155.7" width="6.1" height="8.2" fill="#0000e3"/><rect x="840.8" y="155.7" width="6.1" height="8.2" fill="#0000f5"/><rect x="846.6" y="155.7" width="11.9" height="8.2" fill="#0000ff"/><rect x="858.2" y="155.7" width="6.1" height="8.2" fill="#0000fe"/><rect x="864.0" y="155.7" width="11.9" height="8.2" fill="#0000f5"/><rect x="875.5" y="155.7" width="6.1" height="8.2" fill="#0000ec"/><rect x="881.3" y="155.7" width="11.9" height="8.2" fill="#0000e3"/><rect x="892.9" y="155.7" width="11.9" height="8.2" fill="#0000da"/><rect x="904.5" y="155.7" width="6.1" height="8.2" fill="#0000d1"/><rect x="910.2" y="155.7" width="11.9" height="8.2" fill="#0000c8"/><rect x="921.8" y="155.7" width="11.9" height="8.2" fill="#0000bf"/><rect x="933.4" y="155.7" width="17.7" height="8.2" fill="#0000b6"/><rect x="950.7" y="155.7" width="11.9" height="8.2" fill="#0000ad"/><rect x="962.3" y="155.7" width="23.4" height="8.2" fill="#0000a4"/><rect x="985.4" y="155.7" width="23.4" height="8.2" fill="#00009b"/><rect x="1008.6" y="155.7" width="29.2" height="8.2" fill="#000092"/><rect x="1037.5" y="155.7" width="75.5" height="8.2" fill="#000089"/><rect x="1112.7" y="155.7" width="84.2" height="8.2" fill="#000080"/><rect x="155.3" y="163.6" width="78.4" height="8.2" fill="#000080"/><rect x="233.4" y="163.6" width="69.7" height="8.2" fill="#000089"/><rect x="302.8" y="163.6" width="35.0" height="8.2" fill="#000092"/><rect x="337.5" y="163.6" width="23.4" height="8.2" fill="#00009b"/><rect x="360.7" y="163.6" width="17.7" height="8.2" fill="#0000a4"/><rect x="378.0" y="163.6" width="17.7" height="8.2" fill="#0000ad"/><rect x="395.4" y="163.6" width="11.9" height="8.2" fill="#0000b6"/><rect x="406.9" y="163.6" width="11.9" height="8.2" fill="#0000bf"/><rect x="418.5" y="163.6" width="11.9" height="8.2" fill="#0000c8"/><rect x="430.1" y="163.6" width="11.9" height="8.2" fill="#0000d1"/><rect x="441.7" y="163.6" width="6.1" height="8.2" fill="#0000da"/><rect x="447.4" y="163.6" width="11.9" height="8.2" fill="#0000e3"/><rect x="459.0" y="163.6" width="6.1" height="8.2" fill="#0000ec"/><rect x="464.8" y="163.6" width="11.9" height="8.2" fill="#0000f5"/><rect x="476.4" y="163.6" width="6.1" height="8.2" fill="#0000fe"/><rect x="482.2" y="163.6" width="6.1" height="8.2" fill="#0000ff"/><rect x="487.9" y="163.6" width="17.7" height="8.2" fill="#0000ff"/><rect x="505.3" y="163.6" width="6.1" height="8.2" fill="#0000fe"/><rect x="511.1" y="163.6" width="6.1" height="8.2" fill="#0000ec"/><rect x="516.9" y="163.6" width="6.1" height="8.2" fill="#0000e3"/><rect x="522.6" y="163.6" width="6.1" height="8.2" fill="#0000da"/><rect x="528.4" y="163.6" width="6.1" height="8.2" fill="#0000d1"/><rect x="534.2" y="163.6" width="17.7" height="8.2" fill="#0000c8"/><rect x="551.6" y="163.6" width="58.2" height="8.2" fill="#0000bf"/><rect x="609.4" y="163.6" width="6.1" height="8.2" fill="#0000c8"/><rect x="615.2" y="163.6" width="6.1" height="8.2" fill="#0000da"/><rect x="621.0" y="163.6" width="6.1" height="8.2" fill="#0000f5"/><rect x="626.8" y="163.6" width="6.1" height="8.2" fill="#0010ff"/><rect x="632.6" y="163.6" width="6.1" height="8.2" fill="#0050ff"/><rect x="638.3" y="163.6" width="6.1" height="8.2" fill="#008fff"/><rect x="644.1" y="163.6" width="6.1" height="8.2" fill="#00b7ff"/><rect x="649.9" y="163.6" width="6.1" height="8.2" fill="#00c7ff"/><rect x="655.7" y="163.6" width="40.8" height="8.2" fill="#00cfff"/><rect x="696.2" y="163.6" width="6.1" height="8.2" fill="#00c7ff"/><rect x="702.0" y="163.6" width="6.1" height="8.2" fill="#00b7ff"/><rect x="707.8" y="163.6" width="6.1" height="8.2" fill="#008fff"/><rect x="713.6" y="163.6" width="6.1" height="8.2" fill="#0050ff"/><rect x="719.3" y="163.6" width="6.1" height="8.2" fill="#0010ff"/><rect x="725.1" y="163.6" width="6.1" height="8.2" fill="#0000f5"/><rect x="730.9" y="163.6" width="6.1" height="8.2" fill="#0000da"/><rect x="736.7" y="163.6" width="6.1" height="8.2" fill="#0000c8"/><rect x="742.5" y="163.6" width="58.2" height="8.2" fill="#0000bf"/><rect x="800.3" y="163.6" width="17.7" height="8.2" fill="#0000c8"/><rect x="817.7" y="163.6" width="6.1" height="8.2" fill="#0000d1"/><rect x="823.5" y="163.6" width="6.1" height="8.2" fill="#0000da"/><rect x="829.3" y="163.6" width="6.1" height="8.2" fill="#0000e3"/><rect x="835.0" y="163.6" width="6.1" height="8.2" fill="#0000ec"/><rect x="840.8" y="163.6" width="6.1" height="8.2" fill="#0000fe"/><rect x="846.6" y="163.6" width="17.7" height="8.2" fill="#0000ff"/><rect x="864.0" y="163.6" width="6.1" height="8.2" fill="#0000ff"/><rect x="869.7" y="163.6" width="6.1" height="8.2" fill="#0000fe"/><rect x="875.5" y="163.6" width="11.9" height="8.2" fill="#0000f5"/><rect x="887.1" y="163.6" width="6.1" height="8.2" fill="#0000ec"/><rect x="892.9" y="163.6" width="11.9" height="8.2" fill="#0000e3"/><rect x="904.5" y="163.6" width="6.1" height="8.2" fill="#0000da"/><rect x="910.2" y="163.6" width="11.9" height="8.2" fill="#0000d1"/><rect x="921.8" y="163.6" width="11.9" height="8.2" fill="#0000c8"/><rect x="933.4" y="163.6" width="11.9" height="8.2" fill="#0000bf"/><rect x="945.0" y="163.6" width="11.9" height="8.2" fill="#0000b6"/><rect x="956.5" y="163.6" width="17.7" height="8.2" fill="#0000ad"/><rect x="973.9" y="163.6" width="17.7" height="8.2" fill="#0000a4"/><rect x="991.2" y="163.6" width="23.4" height="8.2" fill="#00009b"/><rect x="1014.4" y="163.6" width="35.0" height="8.2" fill="#000092"/><rect x="1049.1" y="163.6" width="69.7" height="8.2" fill="#000089"/><rect x="1118.5" y="163.6" width="78.4" height="8.2" fill="#000080"/><rect x="155.3" y="171.4" width="72.6" height="8.2" fill="#000080"/><rect x="227.6" y="171.4" width="69.7" height="8.2" fill="#000089"/><rect x="297.0" y="171.4" width="35.0" height="8.2" fill="#000092"/><rect x="331.7" y="171.4" width="23.4" height="8.2" fill="#00009b"/><rect x="354.9" y="171.4" width="17.7" height="8.2" fill="#0000a4"/><rect x="372.2" y="171.4" width="17.7" height="8.2" fill="#0000ad"/><rect x="389.6" y="171.4" width="11.9" height="8.2" fill="#0000b6"/><rect x="401.2" y="171.4" width="11.9" height="8.2" fill="#0000bf"/><rect x="412.7" y="171.4" width="11.9" height="8.2" fill="#0000c8"/><rect x="424.3" y="171.4" width="6.1" height="8.2" fill="#0000d1"/><rect x="430.1" y="171.4" width="11.9" height="8.2" fill="#0000da"/><rect x="441.7" y="171.4" width="6.1" height="8.2" fill="#0000e3"/><rect x="447.4" y="171.4" width="11.9" height="8.2" fill="#0000ec"/><rect x="459.0" y="171.4" width="6.1" height="8.2" fill="#0000f5"/><rect x="464.8" y="171.4" width="6.1" height="8.2" fill="#0000fe"/><rect x="470.6" y="171.4" width="6.1" height="8.2" fill="#0000ff"/><rect x="476.4" y="171.4" width="6.1" height="8.2" fill="#0000ff"/><rect x="482.2" y="171.4" width="6.1" height="8.2" fill="#0008ff"/><rect x="487.9" y="171.4" width="6.1" height="8.2" fill="#0010ff"/><rect x="493.7" y="171.4" width="11.9" height="8.2" fill="#0018ff"/><rect x="505.3" y="171.4" width="6.1" height="8.2" fill="#0000ff"/><rect x="511.1" y="171.4" width="6.1" height="8.2" fill="#0000f5"/><rect x="516.9" y="171.4" width="6.1" height="8.2" fill="#0000ec"/><rect x="522.6" y="171.4" width="6.1" height="8.2" fill="#0000da"/><rect x="528.4" y="171.4" width="11.9" height="8.2" fill="#0000d1"/><rect x="540.0" y="171.4" width="11.9" height="8.2" fill="#0000c8"/><rect x="551.6" y="171.4" width="35.0" height="8.2" fill="#0000bf"/><rect x="586.3" y="171.4" width="17.7" height="8.2" fill="#0000b6"/><rect x="603.6" y="171.4" width="11.9" height="8.2" fill="#0000bf"/><rect x="615.2" y="171.4" width="6.1" height="8.2" fill="#0000c8"/><rect x="621.0" y="171.4" width="6.1" height="8.2" fill="#0000da"/><rect x="626.8" y="171.4" width="6.1" height="8.2" fill="#0000ff"/><rect x="632.6" y="171.4" width="6.1" height="8.2" fill="#0050ff"/><rect x="638.3" y="171.4" width="6.1" height="8.2" fill="#00bfff"/><rect x="644.1" y="171.4" width="6.1" height="8.2" fill="#15ffe2"/><rect x="649.9" y="171.4" width="52.4" height="8.2" fill="#28ffcf"/><rect x="702.0" y="171.4" width="6.1" height="8.2" fill="#15ffe2"/><rect x="707.8" y="171.4" width="6.1" height="8.2" fill="#00bfff"/><rect x="713.6" y="171.4" width="6.1" height="8.2" fill="#0050ff"/><rect x="719.3" y="171.4" width="6.1" height="8.2" fill="#0000ff"/><rect x="725.1" y="171.4" width="6.1" height="8.2" fill="#0000da"/><rect x="730.9" y="171.4" width="6.1" height="8.2" fill="#0000c8"/><rect x="736.7" y="171.4" width="11.9" height="8.2" fill="#0000bf"/><rect x="748.3" y="171.4" width="17.7" height="8.2" fill="#0000b6"/><rect x="765.6" y="171.4" width="35.0" height="8.2" fill="#0000bf"/><rect x="800.3" y="171.4" width="11.9" height="8.2" fill="#0000c8"/><rect x="811.9" y="171.4" width="11.9" height="8.2" fill="#0000d1"/><rect x="823.5" y="171.4" width="6.1" height="8.2" fill="#0000da"/><rect x="829.3" y="171.4" width="6.1" height="8.2" fill="#0000ec"/><rect x="835.0" y="171.4" width="6.1" height="8.2" fill="#0000f5"/><rect x="840.8" y="171.4" width="6.1" height="8.2" fill="#0000ff"/><rect x="846.6" y="171.4" width="11.9" height="8.2" fill="#0018ff"/><rect x="858.2" y="171.4" width="6.1" height="8.2" fill="#0010ff"/><rect x="864.0" y="171.4" width="6.1" height="8.2" fill="#0008ff"/><rect x="869.7" y="171.4" width="6.1" height="8.2" fill="#0000ff"/><rect x="875.5" y="171.4" width="6.1" height="8.2" fill="#0000ff"/><rect x="881.3" y="171.4" width="6.1" height="8.2" fill="#0000fe"/><rect x="887.1" y="171.4" width="6.1" height="8.2" fill="#0000f5"/><rect x="892.9" y="171.4" width="11.9" height="8.2" fill="#0000ec"/><rect x="904.5" y="171.4" width="6.1" height="8.2" fill="#0000e3"/><rect x="910.2" y="171.4" width="11.9" height="8.2" fill="#0000da"/><rect x="921.8" y="171.4" width="6.1" height="8.2" fill="#0000d1"/><rect x="927.6" y="171.4" width="11.9" height="8.2" fill="#0000c8"/><rect x="939.2" y="171.4" width="11.9" height="8.2" fill="#0000bf"/><rect x="950.7" y="171.4" width="11.9" height="8.2" fill="#0000b6"/><rect x="962.3" y="171.4" width="17.7" height="8.2" fill="#0000ad"/><rect x="979.7" y="171.4" width="17.7" height="8.2" fill="#0000a4"/><rect x="997.0" y="171.4" width="23.4" height="8.2" fill="#00009b"/><rect x="1020.2" y="171.4" width="35.0" height="8.2" fill="#000092"/><rect x="1054.9" y="171.4" width="69.7" height="8.2" fill="#000089"/><rect x="1124.3" y="171.4" width="72.6" height="8.2" fill="#000080"/><rect x="155.3" y="179.3" width="66.8" height="8.2" fill="#000080"/><rect x="221.8" y="179.3" width="75.5" height="8.2" fill="#000089"/><rect x="297.0" y="179.3" width="29.2" height="8.2" fill="#000092"/><rect x="326.0" y="179.3" width="23.4" height="8.2" fill="#00009b"/><rect x="349.1" y="179.3" width="17.7" height="8.2" fill="#0000a4"/><rect x="366.5" y="179.3" width="17.7" height="8.2" fill="#0000ad"/><rect x="383.8" y="179.3" width="11.9" height="8.2" fill="#0000b6"/><rect x="395.4" y="179.3" width="11.9" height="8.2" fill="#0000bf"/><rect x="406.9" y="179.3" width="11.9" height="8.2" fill="#0000c8"/><rect x="418.5" y="179.3" width="6.1" height="8.2" fill="#0000d1"/><rect x="424.3" y="179.3" width="11.9" height="8.2" fill="#0000da"/><rect x="435.9" y="179.3" width="6.1" height="8.2" fill="#0000e3"/><rect x="441.7" y="179.3" width="6.1" height="8.2" fill="#0000ec"/><rect x="447.4" y="179.3" width="6.1" height="8.2" fill="#0000f5"/><rect x="453.2" y="179.3" width="11.9" height="8.2" fill="#0000fe"/><rect x="464.8" y="179.3" width="6.1" height="8.2" fill="#0000ff"/><rect x="470.6" y="179.3" width="6.1" height="8.2" fill="#0008ff"/><rect x="476.4" y="179.3" width="6.1" height="8.2" fill="#0010ff"/><rect x="482.2" y="179.3" width="6.1" height="8.2" fill="#0018ff"/><rect x="487.9" y="179.3" width="6.1" height="8.2" fill="#0028ff"/><rect x="493.7" y="179.3" width="6.1" height="8.2" fill="#0038ff"/><rect x="499.5" y="179.3" width="6.1" height="8.2" fill="#0010ff"/><rect x="505.3" y="179.3" width="6.1" height="8.2" fill="#0000f5"/><rect x="511.1" y="179.3" width="11.9" height="8.2" fill="#0000ec"/><rect x="522.6" y="179.3" width="6.1" height="8.2" fill="#0000e3"/><rect x="528.4" y="179.3" width="23.4" height="8.2" fill="#0000da"/><rect x="551.6" y="179.3" width="63.9" height="8.2" fill="#0000d1"/><rect x="615.2" y="179.3" width="6.1" height="8.2" fill="#0000da"/><rect x="621.0" y="179.3" width="6.1" height="8.2" fill="#0000e3"/><rect x="626.8" y="179.3" width="6.1" height="8.2" fill="#0000fe"/><rect x="632.6" y="179.3" width="6.1" height="8.2" fill="#0018ff"/><rect x="638.3" y="179.3" width="6.1" height="8.2" fill="#00a7ff"/><rect x="644.1" y="179.3" width="6.1" height="8.2" fill="#fcf000"/><rect x="649.9" y="179.3" width="6.1" height="8.2" fill="#ffda00"/><rect x="655.7" y="179.3" width="6.1" height="8.2" fill="#c9ff2e"/><rect x="661.5" y="179.3" width="6.1" height="8.2" fill="#9cff5b"/><rect x="667.3" y="179.3" width="6.1" height="8.2" fill="#7bff7b"/><rect x="673.1" y="179.3" width="6.1" height="8.2" fill="#75ff82"/><rect x="678.8" y="179.3" width="6.1" height="8.2" fill="#7bff7b"/><rect x="684.6" y="179.3" width="6.1" height="8.2" fill="#9cff5b"/><rect x="690.4" y="179.3" width="6.1" height="8.2" fill="#c9ff2e"/><rect x="696.2" y="179.3" width="6.1" height="8.2" fill="#ffda00"/><rect x="702.0" y="179.3" width="6.1" height="8.2" fill="#fcf000"/><rect x="707.8" y="179.3" width="6.1" height="8.2" fill="#00a7ff"/><rect x="713.6" y="179.3" width="6.1" height="8.2" fill="#0018ff"/><rect x="719.3" y="179.3" width="6.1" height="8.2" fill="#0000fe"/><rect x="725.1" y="179.3" width="6.1" height="8.2" fill="#0000e3"/><rect x="730.9" y="179.3" width="6.1" height="8.2" fill="#0000da"/><rect x="736.7" y="179.3" width="63.9" height="8.2" fill="#0000d1"/><rect x="800.3" y="179.3" width="23.4" height="8.2" fill="#0000da"/><rect x="823.5" y="179.3" width="6.1" height="8.2" fill="#0000e3"/><rect x="829.3" y="179.3" width="11.9" height="8.2" fill="#0000ec"/><rect x="840.8" y="179.3" width="6.1" height="8.2" fill="#0000f5"/><rect x="846.6" y="179.3" width="6.1" height="8.2" fill="#0010ff"/><rect x="852.4" y="179.3" width="6.1" height="8.2" fill="#0038ff"/><rect x="858.2" y="179.3" width="6.1" height="8.2" fill="#0028ff"/><rect x="864.0" y="179.3" width="6.1" height="8.2" fill="#0018ff"/><rect x="869.7" y="179.3" width="6.1" height="8.2" fill="#0010ff"/><rect x="875.5" y="179.3" width="6.1" height="8.2" fill="#0008ff"/><rect x="881.3" y="179.3" width="6.1" height="8.2" fill="#0000ff"/><rect x="887.1" y="179.3" width="11.9" height="8.2" fill="#0000fe"/><rect x="898.7" y="179.3" width="6.1" height="8.2" fill="#0000f5"/><rect x="904.5" y="179.3" width="6.1" height="8.2" fill="#0000ec"/><rect x="910.2" y="179.3" width="6.1" height="8.2" fill="#0000e3"/><rect x="916.0" y="179.3" width="11.9" height="8.2" fill="#0000da"/><rect x="927.6" y="179.3" width="6.1" height="8.2" fill="#0000d1"/><rect x="933.4" y="179.3" width="11.9" height="8.2" fill="#0000c8"/><rect x="945.0" y="179.3" width="11.9" height="8.2" fill="#0000bf"/><rect x="956.5" y="179.3" width="11.9" height="8.2" fill="#0000b6"/><rect x="968.1" y="179.3" width="17.7" height="8.2" fill="#0000ad"/><rect x="985.4" y="179.3" width="17.7" height="8.2" fill="#0000a4"/><rect x="1002.8" y="179.3" width="23.4" height="8.2" fill="#00009b"/><rect x="1025.9" y="179.3" width="29.2" height="8.2" fill="#000092"/><rect x="1054.9" y="179.3" width="75.5" height="8.2" fill="#000089"/><rect x="1130.1" y="179.3" width="66.8" height="8.2" fill="#000080"/><rect x="155.3" y="187.2" width="55.3" height="8.2" fill="#000080"/><rect x="210.3" y="187.2" width="81.3" height="8.2" fill="#000089"/><rect x="291.2" y="187.2" width="35.0" height="8.2" fill="#000092"/><rect x="326.0" y="187.2" width="17.7" height="8.2" fill="#00009b"/><rect x="343.3" y="187.2" width="17.7" height="8.2" fill="#0000a4"/><rect x="360.7" y="187.2" width="17.7" height="8.2" fill="#0000ad"/><rect x="378.0" y="187.2" width="11.9" height="8.2" fill="#0000b6"/><rect x="389.6" y="187.2" width="11.9" height="8.2" fill="#0000bf"/><rect x="401.2" y="187.2" width="11.9" height="8.2" fill="#0000c8"/><rect x="412.7" y="187.2" width="6.1" height="8.2" fill="#0000d1"/><rect x="418.5" y="187.2" width="11.9" height="8.2" fill="#0000da"/><rect x="430.1" y="187.2" width="6.1" height="8.2" fill="#0000e3"/><rect x="435.9" y="187.2" width="6.1" height="8.2" fill="#0000ec"/><rect x="441.7" y="187.2" width="11.9" height="8.2" fill="#0000f5"/><rect x="453.2" y="187.2" width="6.1" height="8.2" fill="#0000fe"/><rect x="459.0" y="187.2" width="6.1" height="8.2" fill="#0000ff"/><rect x="464.8" y="187.2" width="6.1" height="8.2" fill="#0000ff"/><rect x="470.6" y="187.2" width="6.1" height="8.2" fill="#0010ff"/><rect x="476.4" y="187.2" width="6.1" height="8.2" fill="#0018ff"/><rect x="482.2" y="187.2" width="6.1" height="8.2" fill="#0028ff"/><rect x="487.9" y="187.2" width="6.1" height="8.2" fill="#0030ff"/><rect x="493.7" y="187.2" width="6.1" height="8.2" fill="#0048ff"/><rect x="499.5" y="187.2" width="6.1" height="8.2" fill="#0018ff"/><rect x="505.3" y="187.2" width="133.4" height="8.2" fill="#0000ec"/><rect x="638.3" y="187.2" width="6.1" height="8.2" fill="#0087ff"/><rect x="644.1" y="187.2" width="6.1" height="8.2" fill="#cfff28"/><rect x="649.9" y="187.2" width="6.1" height="8.2" fill="#ffc300"/><rect x="655.7" y="187.2" width="6.1" height="8.2" fill="#e9ff0e"/><rect x="661.5" y="187.2" width="6.1" height="8.2" fill="#bcff3b"/><rect x="667.3" y="187.2" width="6.1" height="8.2" fill="#a2ff55"/><rect x="673.1" y="187.2" width="6.1" height="8.2" fill="#9cff5b"/><rect x="678.8" y="187.2" width="6.1" height="8.2" fill="#a2ff55"/><rect x="684.6" y="187.2" width="6.1" height="8.2" fill="#bcff3b"/><rect x="690.4" y="187.2" width="6.1" height="8.2" fill="#e9ff0e"/><rect x="696.2" y="187.2" width="6.1" height="8.2" fill="#ffc300"/><rect x="702.0" y="187.2" width="6.1" height="8.2" fill="#cfff28"/><rect x="707.8" y="187.2" width="6.1" height="8.2" fill="#0087ff"/><rect x="713.6" y="187.2" width="133.4" height="8.2" fill="#0000ec"/><rect x="846.6" y="187.2" width="6.1" height="8.2" fill="#0018ff"/><rect x="852.4" y="187.2" width="6.1" height="8.2" fill="#0048ff"/><rect x="858.2" y="187.2" width="6.1" height="8.2" fill="#0030ff"/><rect x="864.0" y="187.2" width="6.1" height="8.2" fill="#0028ff"/><rect x="869.7" y="187.2" width="6.1" height="8.2" fill="#0018ff"/><rect x="875.5" y="187.2" width="6.1" height="8.2" fill="#0010ff"/><rect x="881.3" y="187.2" width="6.1" height="8.2" fill="#0000ff"/><rect x="887.1" y="187.2" width="6.1" height="8.2" fill="#0000ff"/><rect x="892.9" y="187.2" width="6.1" height="8.2" fill="#0000fe"/><rect x="898.7" y="187.2" width="11.9" height="8.2" fill="#0000f5"/><rect x="910.2" y="187.2" width="6.1" height="8.2" fill="#0000ec"/><rect x="916.0" y="187.2" width="6.1" height="8.2" fill="#0000e3"/><rect x="921.8" y="187.2" width="11.9" height="8.2" fill="#0000da"/><rect x="933.4" y="187.2" width="6.1" height="8.2" fill="#0000d1"/><rect x="939.2" y="187.2" width="11.9" height="8.2" fill="#0000c8"/><rect x="950.7" y="187.2" width="11.9" height="8.2" fill="#0000bf"/><rect x="962.3" y="187.2" width="11.9" height="8.2" fill="#0000b6"/><rect x="973.9" y="187.2" width="17.7" height="8.2" fill="#0000ad"/><rect x="991.2" y="187.2" width="17.7" height="8.2" fill="#0000a4"/><rect x="1008.6" y="187.2" width="17.7" height="8.2" fill="#00009b"/><rect x="1025.9" y="187.2" width="35.0" height="8.2" fill="#000092"/><rect x="1060.7" y="187.2" width="81.3" height="8.2" fill="#000089"/><rect x="1141.6" y="187.2" width="55.3" height="8.2" fill="#000080"/><rect x="155.3" y="195.0" width="49.5" height="8.2" fill="#000080"/><rect x="204.5" y="195.0" width="81.3" height="8.2" fill="#000089"/><rect x="285.5" y="195.0" width="35.0" height="8.2" fill="#000092"/><rect x="320.2" y="195.0" width="23.4" height="8.2" fill="#00009b"/><rect x="343.3" y="195.0" width="17.7" height="8.2" fill="#0000a4"/><rect x="360.7" y="195.0" width="11.9" height="8.2" fill="#0000ad"/><rect x="372.2" y="195.0" width="11.9" height="8.2" fill="#0000b6"/><rect x="383.8" y="195.0" width="11.9" height="8.2" fill="#0000bf"/><rect x="395.4" y="195.0" width="11.9" height="8.2" fill="#0000c8"/><rect x="406.9" y="195.0" width="11.9" height="8.2" fill="#0000d1"/><rect x="418.5" y="195.0" width="6.1" height="8.2" fill="#0000da"/><rect x="424.3" y="195.0" width="6.1" height="8.2" fill="#0000e3"/><rect x="430.1" y="195.0" width="11.9" height="8.2" fill="#0000ec"/><rect x="441.7" y="195.0" width="6.1" height="8.2" fill="#0000f5"/><rect x="447.4" y="195.0" width="6.1" height="8.2" fill="#0000fe"/><rect x="453.2" y="195.0" width="6.1" height="8.2" fill="#0000ff"/><rect x="459.0" y="195.0" width="6.1" height="8.2" fill="#0000ff"/><rect x="464.8" y="195.0" width="6.1" height="8.2" fill="#0010ff"/><rect x="470.6" y="195.0" width="6.1" height="8.2" fill="#0018ff"/><rect x="476.4" y="195.0" width="6.1" height="8.2" fill="#0020ff"/><rect x="482.2" y="195.0" width="6.1" height="8.2" fill="#0030ff"/><rect x="487.9" y="195.0" width="6.1" height="8.2" fill="#0040ff"/><rect x="493.7" y="195.0" width="6.1" height="8.2" fill="#0058ff"/><rect x="499.5" y="195.0" width="6.1" height="8.2" fill="#0028ff"/><rect x="505.3" y="195.0" width="133.4" height="8.2" fill="#0000ec"/><rect x="638.3" y="195.0" width="6.1" height="8.2" fill="#0008ff"/><rect x="644.1" y="195.0" width="6.1" height="8.2" fill="#dcff1b"/><rect x="649.9" y="195.0" width="6.1" height="8.2" fill="#ff9e00"/><rect x="655.7" y="195.0" width="6.1" height="8.2" fill="#ffda00"/><rect x="661.5" y="195.0" width="6.1" height="8.2" fill="#e9ff0e"/><rect x="667.3" y="195.0" width="6.1" height="8.2" fill="#d5ff21"/><rect x="673.1" y="195.0" width="6.1" height="8.2" fill="#cfff28"/><rect x="678.8" y="195.0" width="6.1" height="8.2" fill="#d5ff21"/><rect x="684.6" y="195.0" width="6.1" height="8.2" fill="#e9ff0e"/><rect x="690.4" y="195.0" width="6.1" height="8.2" fill="#ffda00"/><rect x="696.2" y="195.0" width="6.1" height="8.2" fill="#ff9e00"/><rect x="702.0" y="195.0" width="6.1" height="8.2" fill="#dcff1b"/><rect x="707.8" y="195.0" width="6.1" height="8.2" fill="#0008ff"/><rect x="713.6" y="195.0" width="133.4" height="8.2" fill="#0000ec"/><rect x="846.6" y="195.0" width="6.1" height="8.2" fill="#0028ff"/><rect x="852.4" y="195.0" width="6.1" height="8.2" fill="#0058ff"/><rect x="858.2" y="195.0" width="6.1" height="8.2" fill="#0040ff"/><rect x="864.0" y="195.0" width="6.1" height="8.2" fill="#0030ff"/><rect x="869.7" y="195.0" width="6.1" height="8.2" fill="#0020ff"/><rect x="875.5" y="195.0" width="6.1" height="8.2" fill="#0018ff"/><rect x="881.3" y="195.0" width="6.1" height="8.2" fill="#0010ff"/><rect x="887.1" y="195.0" width="6.1" height="8.2" fill="#0000ff"/><rect x="892.9" y="195.0" width="6.1" height="8.2" fill="#0000ff"/><rect x="898.7" y="195.0" width="6.1" height="8.2" fill="#0000fe"/><rect x="904.5" y="195.0" width="6.1" height="8.2" fill="#0000f5"/><rect x="910.2" y="195.0" width="11.9" height="8.2" fill="#0000ec"/><rect x="921.8" y="195.0" width="6.1" height="8.2" fill="#0000e3"/><rect x="927.6" y="195.0" width="6.1" height="8.2" fill="#0000da"/><rect x="933.4" y="195.0" width="11.9" height="8.2" fill="#0000d1"/><rect x="945.0" y="195.0" width="11.9" height="8.2" fill="#0000c8"/><rect x="956.5" y="195.0" width="11.9" height="8.2" fill="#0000bf"/><rect x="968.1" y="195.0" width="11.9" height="8.2" fill="#0000b6"/><rect x="979.7" y="195.0" width="11.9" height="8.2" fill="#0000ad"/><rect x="991.2" y="195.0" width="17.7" height="8.2" fill="#0000a4"/><rect x="1008.6" y="195.0" width="23.4" height="8.2" fill="#00009b"/><rect x="1031.7" y="195.0" width="35.0" height="8.2" fill="#000092"/><rect x="1066.4" y="195.0" width="81.3" height="8.2" fill="#000089"/><rect x="1147.4" y="195.0" width="49.5" height="8.2" fill="#000080"/><rect x="155.3" y="202.9" width="37.9" height="8.2" fill="#000080"/><rect x="192.9" y="202.9" width="87.1" height="8.2" fill="#000089"/><rect x="279.7" y="202.9" width="35.0" height="8.2" fill="#000092"/><rect x="314.4" y="202.9" width="23.4" height="8.2" fill="#00009b"/><rect x="337.5" y="202.9" width="17.7" height="8.2" fill="#0000a4"/><rect x="354.9" y="202.9" width="17.7" height="8.2" fill="#0000ad"/><rect x="372.2" y="202.9" width="11.9" height="8.2" fill="#0000b6"/><rect x="383.8" y="202.9" width="11.9" height="8.2" fill="#0000bf"/><rect x="395.4" y="202.9" width="6.1" height="8.2" fill="#0000c8"/><rect x="401.2" y="202.9" width="11.9" height="8.2" fill="#0000d1"/><rect x="412.7" y="202.9" width="6.1" height="8.2" fill="#0000da"/><rect x="418.5" y="202.9" width="11.9" height="8.2" fill="#0000e3"/><rect x="430.1" y="202.9" width="6.1" height="8.2" fill="#0000ec"/><rect x="435.9" y="202.9" width="6.1" height="8.2" fill="#0000f5"/><rect x="441.7" y="202.9" width="6.1" height="8.2" fill="#0000fe"/><rect x="447.4" y="202.9" width="6.1" height="8.2" fill="#0000ff"/><rect x="453.2" y="202.9" width="6.1" height="8.2" fill="#0000ff"/><rect x="459.0" y="202.9" width="6.1" height="8.2" fill="#0008ff"/><rect x="464.8" y="202.9" width="6.1" height="8.2" fill="#0018ff"/><rect x="470.6" y="202.9" width="6.1" height="8.2" fill="#0020ff"/><rect x="476.4" y="202.9" width="6.1" height="8.2" fill="#0030ff"/><rect x="482.2" y="202.9" width="6.1" height="8.2" fill="#0040ff"/><rect x="487.9" y="202.9" width="6.1" height="8.2" fill="#0050ff"/><rect x="493.7" y="202.9" width="6.1" height="8.2" fill="#0068ff"/><rect x="499.5" y="202.9" width="6.1" height="8.2" fill="#0038ff"/><rect x="505.3" y="202.9" width="133.4" height="8.2" fill="#0000ec"/><rect x="638.3" y="202.9" width="6.1" height="8.2" fill="#0008ff"/><rect x="644.1" y="202.9" width="6.1" height="8.2" fill="#e9ff0e"/><rect x="649.9" y="202.9" width="6.1" height="8.2" fill="#ff7200"/><rect x="655.7" y="202.9" width="6.1" height="8.2" fill="#ffa600"/><rect x="661.5" y="202.9" width="6.1" height="8.2" fill="#ffd200"/><rect x="667.3" y="202.9" width="6.1" height="8.2" fill="#ffe800"/><rect x="673.1" y="202.9" width="6.1" height="8.2" fill="#fcf000"/><rect x="678.8" y="202.9" width="6.1" height="8.2" fill="#ffe800"/><rect x="684.6" y="202.9" width="6.1" height="8.2" fill="#ffd200"/><rect x="690.4" y="202.9" width="6.1" height="8.2" fill="#ffa600"/><rect x="696.2" y="202.9" width="6.1" height="8.2" fill="#ff7200"/><rect x="702.0" y="202.9" width="6.1" height="8.2" fill="#e9ff0e"/><rect x="707.8" y="202.9" width="6.1" height="8.2" fill="#0008ff"/><rect x="713.6" y="202.9" width="133.4" height="8.2" fill="#0000ec"/><rect x="846.6" y="202.9" width="6.1" height="8.2" fill="#0038ff"/><rect x="852.4" y="202.9" width="6.1" height="8.2" fill="#0068ff"/><rect x="858.2" y="202.9" width="6.1" height="8.2" fill="#0050ff"/><rect x="864.0" y="202.9" width="6.1" height="8.2" fill="#0040ff"/><rect x="869.7" y="202.9" width="6.1" height="8.2" fill="#0030ff"/><rect x="875.5" y="202.9" width="6.1" height="8.2" fill="#0020ff"/><rect x="881.3" y="202.9" width="6.1" height="8.2" fill="#0018ff"/><rect x="887.1" y="202.9" width="6.1" height="8.2" fill="#0008ff"/><rect x="892.9" y="202.9" width="6.1" height="8.2" fill="#0000ff"/><rect x="898.7" y="202.9" width="6.1" height="8.2" fill="#0000ff"/><rect x="904.5" y="202.9" width="6.1" height="8.2" fill="#0000fe"/><rect x="910.2" y="202.9" width="6.1" height="8.2" fill="#0000f5"/><rect x="916.0" y="202.9" width="6.1" height="8.2" fill="#0000ec"/><rect x="921.8" y="202.9" width="11.9" height="8.2" fill="#0000e3"/><rect x="933.4" y="202.9" width="6.1" height="8.2" fill="#0000da"/><rect x="939.2" y="202.9" width="11.9" height="8.2" fill="#0000d1"/><rect x="950.7" y="202.9" width="6.1" height="8.2" fill="#0000c8"/><rect x="956.5" y="202.9" width="11.9" height="8.2" fill="#0000bf"/><rect x="968.1" y="202.9" width="11.9" height="8.2" fill="#0000b6"/><rect x="979.7" y="202.9" width="17.7" height="8.2" fill="#0000ad"/><rect x="997.0" y="202.9" width="17.7" height="8.2" fill="#0000a4"/><rect x="1014.4" y="202.9" width="23.4" height="8.2" fill="#00009b"/><rect x="1037.5" y="202.9" width="35.0" height="8.2" fill="#000092"/><rect x="1072.2" y="202.9" width="87.1" height="8.2" fill="#000089"/><rect x="1159.0" y="202.9" width="37.9" height="8.2" fill="#000080"/><rect x="155.3" y="210.7" width="26.3" height="8.2" fill="#000080"/><rect x="181.3" y="210.7" width="98.6" height="8.2" fill="#000089"/><rect x="279.7" y="210.7" width="29.2" height="8.2" fill="#000092"/><rect x="308.6" y="210.7" width="23.4" height="8.2" fill="#00009b"/><rect x="331.7" y="210.7" width="17.7" height="8.2" fill="#0000a4"/><rect x="349.1" y="210.7" width="17.7" height="8.2" fill="#0000ad"/><rect x="366.5" y="210.7" width="11.9" height="8.2" fill="#0000b6"/><rect x="378.0" y="210.7" width="11.9" height="8.2" fill="#0000bf"/><rect x="389.6" y="210.7" width="11.9" height="8.2" fill="#0000c8"/><rect x="401.2" y="210.7" width="6.1" height="8.2" fill="#0000d1"/><rect x="406.9" y="210.7" width="11.9" height="8.2" fill="#0000da"/><rect x="418.5" y="210.7" width="6.1" height="8.2" fill="#0000e3"/><rect x="424.3" y="210.7" width="6.1" height="8.2" fill="#0000ec"/><rect x="430.1" y="210.7" width="6.1" height="8.2" fill="#0000f5"/><rect x="435.9" y="210.7" width="6.1" height="8.2" fill="#0000fe"/><rect x="441.7" y="210.7" width="6.1" height="8.2" fill="#0000ff"/><rect x="447.4" y="210.7" width="6.1" height="8.2" fill="#0000ff"/><rect x="453.2" y="210.7" width="6.1" height="8.2" fill="#0008ff"/><rect x="459.0" y="210.7" width="6.1" height="8.2" fill="#0010ff"/><rect x="464.8" y="210.7" width="6.1" height="8.2" fill="#0020ff"/><rect x="470.6" y="210.7" width="6.1" height="8.2" fill="#0028ff"/><rect x="476.4" y="210.7" width="6.1" height="8.2" fill="#0038ff"/><rect x="482.2" y="210.7" width="6.1" height="8.2" fill="#0048ff"/><rect x="487.9" y="210.7" width="6.1" height="8.2" fill="#0060ff"/><rect x="493.7" y="210.7" width="6.1" height="8.2" fill="#0078ff"/><rect x="499.5" y="210.7" width="6.1" height="8.2" fill="#0040ff"/><rect x="505.3" y="210.7" width="133.4" height="8.2" fill="#0000f5"/><rect x="638.3" y="210.7" width="6.1" height="8.2" fill="#0010ff"/><rect x="644.1" y="210.7" width="6.1" height="8.2" fill="#effe08"/><rect x="649.9" y="210.7" width="6.1" height="8.2" fill="#ff4d00"/><rect x="655.7" y="210.7" width="6.1" height="8.2" fill="#ff8100"/><rect x="661.5" y="210.7" width="6.1" height="8.2" fill="#ffa600"/><rect x="667.3" y="210.7" width="6.1" height="8.2" fill="#ffbc00"/><rect x="673.1" y="210.7" width="6.1" height="8.2" fill="#ffc300"/><rect x="678.8" y="210.7" width="6.1" height="8.2" fill="#ffbc00"/><rect x="684.6" y="210.7" width="6.1" height="8.2" fill="#ffa600"/><rect x="690.4" y="210.7" width="6.1" height="8.2" fill="#ff8100"/><rect x="696.2" y="210.7" width="6.1" height="8.2" fill="#ff4d00"/><rect x="702.0" y="210.7" width="6.1" height="8.2" fill="#effe08"/><rect x="707.8" y="210.7" width="6.1" height="8.2" fill="#0010ff"/><rect x="713.6" y="210.7" width="133.4" height="8.2" fill="#0000f5"/><rect x="846.6" y="210.7" width="6.1" height="8.2" fill="#0040ff"/><rect x="852.4" y="210.7" width="6.1" height="8.2" fill="#0078ff"/><rect x="858.2" y="210.7" width="6.1" height="8.2" fill="#0060ff"/><rect x="864.0" y="210.7" width="6.1" height="8.2" fill="#0048ff"/><rect x="869.7" y="210.7" width="6.1" height="8.2" fill="#0038ff"/><rect x="875.5" y="210.7" width="6.1" height="8.2" fill="#0028ff"/><rect x="881.3" y="210.7" width="6.1" height="8.2" fill="#0020ff"/><rect x="887.1" y="210.7" width="6.1" height="8.2" fill="#0010ff"/><rect x="892.9" y="210.7" width="6.1" height="8.2" fill="#0008ff"/><rect x="898.7" y="210.7" width="6.1" height="8.2" fill="#0000ff"/><rect x="904.5" y="210.7" width="6.1" height="8.2" fill="#0000ff"/><rect x="910.2" y="210.7" width="6.1" height="8.2" fill="#0000fe"/><rect x="916.0" y="210.7" width="6.1" height="8.2" fill="#0000f5"/><rect x="921.8" y="210.7" width="6.1" height="8.2" fill="#0000ec"/><rect x="927.6" y="210.7" width="6.1" height="8.2" fill="#0000e3"/><rect x="933.4" y="210.7" width="11.9" height="8.2" fill="#0000da"/><rect x="945.0" y="210.7" width="6.1" height="8.2" fill="#0000d1"/><rect x="950.7" y="210.7" width="11.9" height="8.2" fill="#0000c8"/><rect x="962.3" y="210.7" width="11.9" height="8.2" fill="#0000bf"/><rect x="973.9" y="210.7" width="11.9" height="8.2" fill="#0000b6"/><rect x="985.4" y="210.7" width="17.7" height="8.2" fill="#0000ad"/><rect x="1002.8" y="210.7" width="17.7" height="8.2" fill="#0000a4"/><rect x="1020.2" y="210.7" width="23.4" height="8.2" fill="#00009b"/><rect x="1043.3" y="210.7" width="29.2" height="8.2" fill="#000092"/><rect x="1072.2" y="210.7" width="98.6" height="8.2" fill="#000089"/><rect x="1170.6" y="210.7" width="26.3" height="8.2" fill="#000080"/><rect x="155.3" y="218.6" width="14.8" height="8.2" fill="#000080"/><rect x="169.8" y="218.6" width="104.4" height="8.2" fill="#000089"/><rect x="273.9" y="218.6" width="35.0" height="8.2" fill="#000092"/><rect x="308.6" y="218.6" width="23.4" height="8.2" fill="#00009b"/><rect x="331.7" y="218.6" width="17.7" height="8.2" fill="#0000a4"/><rect x="349.1" y="218.6" width="11.9" height="8.2" fill="#0000ad"/><rect x="360.7" y="218.6" width="11.9" height="8.2" fill="#0000b6"/><rect x="372.2" y="218.6" width="11.9" height="8.2" fill="#0000bf"/><rect x="383.8" y="218.6" width="11.9" height="8.2" fill="#0000c8"/><rect x="395.4" y="218.6" width="11.9" height="8.2" fill="#0000d1"/><rect x="406.9" y="218.6" width="6.1" height="8.2" fill="#0000da"/><rect x="412.7" y="218.6" width="6.1" height="8.2" fill="#0000e3"/><rect x="418.5" y="218.6" width="6.1" height="8.2" fill="#0000ec"/><rect x="424.3" y="218.6" width="11.9" height="8.2" fill="#0000f5"/><rect x="435.9" y="218.6" width="6.1" height="8.2" fill="#0000fe"/><rect x="441.7" y="218.6" width="6.1" height="8.2" fill="#0000ff"/><rect x="447.4" y="218.6" width="6.1" height="8.2" fill="#0008ff"/><rect x="453.2" y="218.6" width="6.1" height="8.2" fill="#0010ff"/><rect x="459.0" y="218.6" width="6.1" height="8.2" fill="#0018ff"/><rect x="464.8" y="218.6" width="6.1" height="8.2" fill="#0028ff"/><rect x="470.6" y="218.6" width="6.1" height="8.2" fill="#0030ff"/><rect x="476.4" y="218.6" width="6.1" height="8.2" fill="#0048ff"/><rect x="482.2" y="218.6" width="6.1" height="8.2" fill="#0058ff"/><rect x="487.9" y="218.6" width="6.1" height="8.2" fill="#0070ff"/><rect x="493.7" y="218.6" width="6.1" height="8.2" fill="#008fff"/><rect x="499.5" y="218.6" width="6.1" height="8.2" fill="#0050ff"/><rect x="505.3" y="218.6" width="133.4" height="8.2" fill="#0000f5"/><rect x="638.3" y="218.6" width="6.1" height="8.2" fill="#0010ff"/><rect x="644.1" y="218.6" width="6.1" height="8.2" fill="#f5f701"/><rect x="649.9" y="218.6" width="6.1" height="8.2" fill="#ff2100"/><rect x="655.7" y="218.6" width="6.1" height="8.2" fill="#ff5500"/><rect x="661.5" y="218.6" width="6.1" height="8.2" fill="#ff7a00"/><rect x="667.3" y="218.6" width="6.1" height="8.2" fill="#ff9000"/><rect x="673.1" y="218.6" width="6.1" height="8.2" fill="#ff9700"/><rect x="678.8" y="218.6" width="6.1" height="8.2" fill="#ff9000"/><rect x="684.6" y="218.6" width="6.1" height="8.2" fill="#ff7a00"/><rect x="690.4" y="218.6" width="6.1" height="8.2" fill="#ff5500"/><rect x="696.2" y="218.6" width="6.1" height="8.2" fill="#ff2100"/><rect x="702.0" y="218.6" width="6.1" height="8.2" fill="#f5f701"/><rect x="707.8" y="218.6" width="6.1" height="8.2" fill="#0010ff"/><rect x="713.6" y="218.6" width="133.4" height="8.2" fill="#0000f5"/><rect x="846.6" y="218.6" width="6.1" height="8.2" fill="#0050ff"/><rect x="852.4" y="218.6" width="6.1" height="8.2" fill="#008fff"/><rect x="858.2" y="218.6" width="6.1" height="8.2" fill="#0070ff"/><rect x="864.0" y="218.6" width="6.1" height="8.2" fill="#0058ff"/><rect x="869.7" y="218.6" width="6.1" height="8.2" fill="#0048ff"/><rect x="875.5" y="218.6" width="6.1" height="8.2" fill="#0030ff"/><rect x="881.3" y="218.6" width="6.1" height="8.2" fill="#0028ff"/><rect x="887.1" y="218.6" width="6.1" height="8.2" fill="#0018ff"/><rect x="892.9" y="218.6" width="6.1" height="8.2" fill="#0010ff"/><rect x="898.7" y="218.6" width="6.1" height="8.2" fill="#0008ff"/><rect x="904.5" y="218.6" width="6.1" height="8.2" fill="#0000ff"/><rect x="910.2" y="218.6" width="6.1" height="8.2" fill="#0000fe"/><rect x="916.0" y="218.6" width="11.9" height="8.2" fill="#0000f5"/><rect x="927.6" y="218.6" width="6.1" height="8.2" fill="#0000ec"/><rect x="933.4" y="218.6" width="6.1" height="8.2" fill="#0000e3"/><rect x="939.2" y="218.6" width="6.1" height="8.2" fill="#0000da"/><rect x="945.0" y="218.6" width="11.9" height="8.2" fill="#0000d1"/><rect x="956.5" y="218.6" width="11.9" height="8.2" fill="#0000c8"/><rect x="968.1" y="218.6" width="11.9" height="8.2" fill="#0000bf"/><rect x="979.7" y="218.6" width="11.9" height="8.2" fill="#0000b6"/><rect x="991.2" y="218.6" width="11.9" height="8.2" fill="#0000ad"/><rect x="1002.8" y="218.6" width="17.7" height="8.2" fill="#0000a4"/><rect x="1020.2" y="218.6" width="23.4" height="8.2" fill="#00009b"/><rect x="1043.3" y="218.6" width="35.0" height="8.2" fill="#000092"/><rect x="1078.0" y="218.6" width="104.4" height="8.2" fill="#000089"/><rect x="1182.1" y="218.6" width="14.8" height="8.2" fill="#000080"/><rect x="155.3" y="226.5" width="113.1" height="8.2" fill="#000089"/><rect x="268.1" y="226.5" width="35.0" height="8.2" fill="#000092"/><rect x="302.8" y="226.5" width="23.4" height="8.2" fill="#00009b"/><rect x="326.0" y="226.5" width="17.7" height="8.2" fill="#0000a4"/><rect x="343.3" y="226.5" width="17.7" height="8.2" fill="#0000ad"/><rect x="360.7" y="226.5" width="11.9" height="8.2" fill="#0000b6"/><rect x="372.2" y="226.5" width="11.9" height="8.2" fill="#0000bf"/><rect x="383.8" y="226.5" width="6.1" height="8.2" fill="#0000c8"/><rect x="389.6" y="226.5" width="11.9" height="8.2" fill="#0000d1"/><rect x="401.2" y="226.5" width="6.1" height="8.2" fill="#0000da"/><rect x="406.9" y="226.5" width="11.9" height="8.2" fill="#0000e3"/><rect x="418.5" y="226.5" width="6.1" height="8.2" fill="#0000ec"/><rect x="424.3" y="226.5" width="6.1" height="8.2" fill="#0000f5"/><rect x="430.1" y="226.5" width="6.1" height="8.2" fill="#0000fe"/><rect x="435.9" y="226.5" width="6.1" height="8.2" fill="#0000ff"/><rect x="441.7" y="226.5" width="6.1" height="8.2" fill="#0000ff"/><rect x="447.4" y="226.5" width="6.1" height="8.2" fill="#0008ff"/><rect x="453.2" y="226.5" width="6.1" height="8.2" fill="#0018ff"/><rect x="459.0" y="226.5" width="6.1" height="8.2" fill="#0020ff"/><rect x="464.8" y="226.5" width="6.1" height="8.2" fill="#0030ff"/><rect x="470.6" y="226.5" width="6.1" height="8.2" fill="#0040ff"/><rect x="476.4" y="226.5" width="6.1" height="8.2" fill="#0050ff"/><rect x="482.2" y="226.5" width="6.1" height="8.2" fill="#0068ff"/><rect x="487.9" y="226.5" width="6.1" height="8.2" fill="#0080ff"/><rect x="493.7" y="226.5" width="6.1" height="8.2" fill="#00a7ff"/><rect x="499.5" y="226.5" width="6.1" height="8.2" fill="#0068ff"/><rect x="505.3" y="226.5" width="133.4" height="8.2" fill="#0000f5"/><rect x="638.3" y="226.5" width="6.1" height="8.2" fill="#0010ff"/><rect x="644.1" y="226.5" width="6.1" height="8.2" fill="#fcf000"/><rect x="649.9" y="226.5" width="6.1" height="8.2" fill="#e30000"/><rect x="655.7" y="226.5" width="6.1" height="8.2" fill="#ff3000"/><rect x="661.5" y="226.5" width="6.1" height="8.2" fill="#ff5500"/><rect x="667.3" y="226.5" width="6.1" height="8.2" fill="#ff6b00"/><rect x="673.1" y="226.5" width="6.1" height="8.2" fill="#ff7200"/><rect x="678.8" y="226.5" width="6.1" height="8.2" fill="#ff6b00"/><rect x="684.6" y="226.5" width="6.1" height="8.2" fill="#ff5500"/><rect x="690.4" y="226.5" width="6.1" height="8.2" fill="#ff3000"/><rect x="696.2" y="226.5" width="6.1" height="8.2" fill="#e30000"/><rect x="702.0" y="226.5" width="6.1" height="8.2" fill="#fcf000"/><rect x="707.8" y="226.5" width="6.1" height="8.2" fill="#0010ff"/><rect x="713.6" y="226.5" width="133.4" height="8.2" fill="#0000f5"/><rect x="846.6" y="226.5" width="6.1" height="8.2" fill="#0068ff"/><rect x="852.4" y="226.5" width="6.1" height="8.2" fill="#00a7ff"/><rect x="858.2" y="226.5" width="6.1" height="8.2" fill="#0080ff"/><rect x="864.0" y="226.5" width="6.1" height="8.2" fill="#0068ff"/><rect x="869.7" y="226.5" width="6.1" height="8.2" fill="#0050ff"/><rect x="875.5" y="226.5" width="6.1" height="8.2" fill="#0040ff"/><rect x="881.3" y="226.5" width="6.1" height="8.2" fill="#0030ff"/><rect x="887.1" y="226.5" width="6.1" height="8.2" fill="#0020ff"/><rect x="892.9" y="226.5" width="6.1" height="8.2" fill="#0018ff"/><rect x="898.7" y="226.5" width="6.1" height="8.2" fill="#0008ff"/><rect x="904.5" y="226.5" width="6.1" height="8.2" fill="#0000ff"/><rect x="910.2" y="226.5" width="6.1" height="8.2" fill="#0000ff"/><rect x="916.0" y="226.5" width="6.1" height="8.2" fill="#0000fe"/><rect x="921.8" y="226.5" width="6.1" height="8.2" fill="#0000f5"/><rect x="927.6" y="226.5" width="6.1" height="8.2" fill="#0000ec"/><rect x="933.4" y="226.5" width="11.9" height="8.2" fill="#0000e3"/><rect x="945.0" y="226.5" width="6.1" height="8.2" fill="#0000da"/><rect x="950.7" y="226.5" width="11.9" height="8.2" fill="#0000d1"/><rect x="962.3" y="226.5" width="6.1" height="8.2" fill="#0000c8"/><rect x="968.1" y="226.5" width="11.9" height="8.2" fill="#0000bf"/><rect x="979.7" y="226.5" width="11.9" height="8.2" fill="#0000b6"/><rect x="991.2" y="226.5" width="17.7" height="8.2" fill="#0000ad"/><rect x="1008.6" y="226.5" width="17.7" height="8.2" fill="#0000a4"/><rect x="1025.9" y="226.5" width="23.4" height="8.2" fill="#00009b"/><rect x="1049.1" y="226.5" width="35.0" height="8.2" fill="#000092"/><rect x="1083.8" y="226.5" width="113.1" height="8.2" fill="#000089"/><rect x="155.3" y="234.3" width="107.3" height="8.2" fill="#000089"/><rect x="262.3" y="234.3" width="40.8" height="8.2" fill="#000092"/><rect x="302.8" y="234.3" width="23.4" height="8.2" fill="#00009b"/><rect x="326.0" y="234.3" width="17.7" height="8.2" fill="#0000a4"/><rect x="343.3" y="234.3" width="11.9" height="8.2" fill="#0000ad"/><rect x="354.9" y="234.3" width="11.9" height="8.2" fill="#0000b6"/><rect x="366.5" y="234.3" width="11.9" height="8.2" fill="#0000bf"/><rect x="378.0" y="234.3" width="11.9" height="8.2" fill="#0000c8"/><rect x="389.6" y="234.3" width="6.1" height="8.2" fill="#0000d1"/><rect x="395.4" y="234.3" width="11.9" height="8.2" fill="#0000da"/><rect x="406.9" y="234.3" width="6.1" height="8.2" fill="#0000e3"/><rect x="412.7" y="234.3" width="6.1" height="8.2" fill="#0000ec"/><rect x="418.5" y="234.3" width="6.1" height="8.2" fill="#0000f5"/><rect x="424.3" y="234.3" width="6.1" height="8.2" fill="#0000fe"/><rect x="430.1" y="234.3" width="6.1" height="8.2" fill="#0000ff"/><rect x="435.9" y="234.3" width="6.1" height="8.2" fill="#0000ff"/><rect x="441.7" y="234.3" width="6.1" height="8.2" fill="#0008ff"/><rect x="447.4" y="234.3" width="6.1" height="8.2" fill="#0010ff"/><rect x="453.2" y="234.3" width="6.1" height="8.2" fill="#0018ff"/><rect x="459.0" y="234.3" width="6.1" height="8.2" fill="#0028ff"/><rect x="464.8" y="234.3" width="6.1" height="8.2" fill="#0038ff"/><rect x="470.6" y="234.3" width="6.1" height="8.2" fill="#0048ff"/><rect x="476.4" y="234.3" width="6.1" height="8.2" fill="#0058ff"/><rect x="482.2" y="234.3" width="6.1" height="8.2" fill="#0070ff"/><rect x="487.9" y="234.3" width="6.1" height="8.2" fill="#008fff"/><rect x="493.7" y="234.3" width="6.1" height="8.2" fill="#00b7ff"/><rect x="499.5" y="234.3" width="6.1" height="8.2" fill="#0070ff"/><rect x="505.3" y="234.3" width="133.4" height="8.2" fill="#0000fe"/><rect x="638.3" y="234.3" width="6.1" height="8.2" fill="#0018ff"/><rect x="644.1" y="234.3" width="6.1" height="8.2" fill="#ffe800"/><rect x="649.9" y="234.3" width="6.1" height="8.2" fill="#c80000"/><rect x="655.7" y="234.3" width="6.1" height="8.2" fill="#fe1200"/><rect x="661.5" y="234.3" width="6.1" height="8.2" fill="#ff3700"/><rect x="667.3" y="234.3" width="6.1" height="8.2" fill="#ff4d00"/><rect x="673.1" y="234.3" width="6.1" height="8.2" fill="#ff5500"/><rect x="678.8" y="234.3" width="6.1" height="8.2" fill="#ff4d00"/><rect x="684.6" y="234.3" width="6.1" height="8.2" fill="#ff3700"/><rect x="690.4" y="234.3" width="6.1" height="8.2" fill="#fe1200"/><rect x="696.2" y="234.3" width="6.1" height="8.2" fill="#c80000"/><rect x="702.0" y="234.3" width="6.1" height="8.2" fill="#ffe800"/><rect x="707.8" y="234.3" width="6.1" height="8.2" fill="#0018ff"/><rect x="713.6" y="234.3" width="133.4" height="8.2" fill="#0000fe"/><rect x="846.6" y="234.3" width="6.1" height="8.2" fill="#0070ff"/><rect x="852.4" y="234.3" width="6.1" height="8.2" fill="#00b7ff"/><rect x="858.2" y="234.3" width="6.1" height="8.2" fill="#008fff"/><rect x="864.0" y="234.3" width="6.1" height="8.2" fill="#0070ff"/><rect x="869.7" y="234.3" width="6.1" height="8.2" fill="#0058ff"/><rect x="875.5" y="234.3" width="6.1" height="8.2" fill="#0048ff"/><rect x="881.3" y="234.3" width="6.1" height="8.2" fill="#0038ff"/><rect x="887.1" y="234.3" width="6.1" height="8.2" fill="#0028ff"/><rect x="892.9" y="234.3" width="6.1" height="8.2" fill="#0018ff"/><rect x="898.7" y="234.3" width="6.1" height="8.2" fill="#0010ff"/><rect x="904.5" y="234.3" width="6.1" height="8.2" fill="#0008ff"/><rect x="910.2" y="234.3" width="6.1" height="8.2" fill="#0000ff"/><rect x="916.0" y="234.3" width="6.1" height="8.2" fill="#0000ff"/><rect x="921.8" y="234.3" width="6.1" height="8.2" fill="#0000fe"/><rect x="927.6" y="234.3" width="6.1" height="8.2" fill="#0000f5"/><rect x="933.4" y="234.3" width="6.1" height="8.2" fill="#0000ec"/><rect x="939.2" y="234.3" width="6.1" height="8.2" fill="#0000e3"/><rect x="945.0" y="234.3" width="11.9" height="8.2" fill="#0000da"/><rect x="956.5" y="234.3" width="6.1" height="8.2" fill="#0000d1"/><rect x="962.3" y="234.3" width="11.9" height="8.2" fill="#0000c8"/><rect x="973.9" y="234.3" width="11.9" height="8.2" fill="#0000bf"/><rect x="985.4" y="234.3" width="11.9" height="8.2" fill="#0000b6"/><rect x="997.0" y="234.3" width="11.9" height="8.2" fill="#0000ad"/><rect x="1008.6" y="234.3" width="17.7" height="8.2" fill="#0000a4"/><rect x="1025.9" y="234.3" width="23.4" height="8.2" fill="#00009b"/><rect x="1049.1" y="234.3" width="40.8" height="8.2" fill="#000092"/><rect x="1089.6" y="234.3" width="107.3" height="8.2" fill="#000089"/><rect x="155.3" y="242.2" width="101.5" height="8.2" fill="#000089"/><rect x="256.5" y="242.2" width="40.8" height="8.2" fill="#000092"/><rect x="297.0" y="242.2" width="23.4" height="8.2" fill="#00009b"/><rect x="320.2" y="242.2" width="17.7" height="8.2" fill="#0000a4"/><rect x="337.5" y="242.2" width="17.7" height="8.2" fill="#0000ad"/><rect x="354.9" y="242.2" width="11.9" height="8.2" fill="#0000b6"/><rect x="366.5" y="242.2" width="11.9" height="8.2" fill="#0000bf"/><rect x="378.0" y="242.2" width="6.1" height="8.2" fill="#0000c8"/><rect x="383.8" y="242.2" width="11.9" height="8.2" fill="#0000d1"/><rect x="395.4" y="242.2" width="6.1" height="8.2" fill="#0000da"/><rect x="401.2" y="242.2" width="11.9" height="8.2" fill="#0000e3"/><rect x="412.7" y="242.2" width="6.1" height="8.2" fill="#0000ec"/><rect x="418.5" y="242.2" width="6.1" height="8.2" fill="#0000f5"/><rect x="424.3" y="242.2" width="6.1" height="8.2" fill="#0000fe"/><rect x="430.1" y="242.2" width="6.1" height="8.2" fill="#0000ff"/><rect x="435.9" y="242.2" width="6.1" height="8.2" fill="#0000ff"/><rect x="441.7" y="242.2" width="6.1" height="8.2" fill="#0008ff"/><rect x="447.4" y="242.2" width="6.1" height="8.2" fill="#0018ff"/><rect x="453.2" y="242.2" width="6.1" height="8.2" fill="#0020ff"/><rect x="459.0" y="242.2" width="6.1" height="8.2" fill="#0030ff"/><rect x="464.8" y="242.2" width="6.1" height="8.2" fill="#0040ff"/><rect x="470.6" y="242.2" width="6.1" height="8.2" fill="#0050ff"/><rect x="476.4" y="242.2" width="6.1" height="8.2" fill="#0068ff"/><rect x="482.2" y="242.2" width="6.1" height="8.2" fill="#0080ff"/><rect x="487.9" y="242.2" width="6.1" height="8.2" fill="#009fff"/><rect x="493.7" y="242.2" width="6.1" height="8.2" fill="#00cfff"/><rect x="499.5" y="242.2" width="6.1" height="8.2" fill="#0087ff"/><rect x="505.3" y="242.2" width="133.4" height="8.2" fill="#0000fe"/><rect x="638.3" y="242.2" width="6.1" height="8.2" fill="#0018ff"/><rect x="644.1" y="242.2" width="6.1" height="8.2" fill="#ffe800"/><rect x="649.9" y="242.2" width="6.1" height="8.2" fill="#a40000"/><rect x="655.7" y="242.2" width="6.1" height="8.2" fill="#e30000"/><rect x="661.5" y="242.2" width="6.1" height="8.2" fill="#ff1a00"/><rect x="667.3" y="242.2" width="6.1" height="8.2" fill="#ff3000"/><rect x="673.1" y="242.2" width="6.1" height="8.2" fill="#ff3700"/><rect x="678.8" y="242.2" width="6.1" height="8.2" fill="#ff3000"/><rect x="684.6" y="242.2" width="6.1" height="8.2" fill="#ff1a00"/><rect x="690.4" y="242.2" width="6.1" height="8.2" fill="#e30000"/><rect x="696.2" y="242.2" width="6.1" height="8.2" fill="#a40000"/><rect x="702.0" y="242.2" width="6.1" height="8.2" fill="#ffe800"/><rect x="707.8" y="242.2" width="6.1" height="8.2" fill="#0018ff"/><rect x="713.6" y="242.2" width="133.4" height="8.2" fill="#0000fe"/><rect x="846.6" y="242.2" width="6.1" height="8.2" fill="#0087ff"/><rect x="852.4" y="242.2" width="6.1" height="8.2" fill="#00cfff"/><rect x="858.2" y="242.2" width="6.1" height="8.2" fill="#009fff"/><rect x="864.0" y="242.2" width="6.1" height="8.2" fill="#0080ff"/><rect x="869.7" y="242.2" width="6.1" height="8.2" fill="#0068ff"/><rect x="875.5" y="242.2" width="6.1" height="8.2" fill="#0050ff"/><rect x="881.3" y="242.2" width="6.1" height="8.2" fill="#0040ff"/><rect x="887.1" y="242.2" width="6.1" height="8.2" fill="#0030ff"/><rect x="892.9" y="242.2" width="6.1" height="8.2" fill="#0020ff"/><rect x="898.7" y="242.2" width="6.1" height="8.2" fill="#0018ff"/><rect x="904.5" y="242.2" width="6.1" height="8.2" fill="#0008ff"/><rect x="910.2" y="242.2" width="6.1" height="8.2" fill="#0000ff"/><rect x="916.0" y="242.2" width="6.1" height="8.2" fill="#0000ff"/><rect x="921.8" y="242.2" width="6.1" height="8.2" fill="#0000fe"/><rect x="927.6" y="242.2" width="6.1" height="8.2" fill="#0000f5"/><rect x="933.4" y="242.2" width="6.1" height="8.2" fill="#0000ec"/><rect x="939.2" y="242.2" width="11.9" height="8.2" fill="#0000e3"/><rect x="950.7" y="242.2" width="6.1" height="8.2" fill="#0000da"/><rect x="956.5" y="242.2" width="11.9" height="8.2" fill="#0000d1"/><rect x="968.1" y="242.2" width="6.1" height="8.2" fill="#0000c8"/><rect x="973.9" y="242.2" width="11.9" height="8.2" fill="#0000bf"/><rect x="985.4" y="242.2" width="11.9" height="8.2" fill="#0000b6"/><rect x="997.0" y="242.2" width="17.7" height="8.2" fill="#0000ad"/><rect x="1014.4" y="242.2" width="17.7" height="8.2" fill="#0000a4"/><rect x="1031.7" y="242.2" width="23.4" height="8.2" fill="#00009b"/><rect x="1054.9" y="242.2" width="40.8" height="8.2" fill="#000092"/><rect x="1095.4" y="242.2" width="101.5" height="8.2" fill="#000089"/><rect x="155.3" y="250.0" width="95.8" height="8.2" fill="#000089"/><rect x="250.8" y="250.0" width="40.8" height="8.2" fill="#000092"/><rect x="291.2" y="250.0" width="29.2" height="8.2" fill="#00009b"/><rect x="320.2" y="250.0" width="17.7" height="8.2" fill="#0000a4"/><rect x="337.5" y="250.0" width="11.9" height="8.2" fill="#0000ad"/><rect x="349.1" y="250.0" width="11.9" height="8.2" fill="#0000b6"/><rect x="360.7" y="250.0" width="11.9" height="8.2" fill="#0000bf"/><rect x="372.2" y="250.0" width="11.9" height="8.2" fill="#0000c8"/><rect x="383.8" y="250.0" width="6.1" height="8.2" fill="#0000d1"/><rect x="389.6" y="250.0" width="11.9" height="8.2" fill="#0000da"/><rect x="401.2" y="250.0" width="6.1" height="8.2" fill="#0000e3"/><rect x="406.9" y="250.0" width="6.1" height="8.2" fill="#0000ec"/><rect x="412.7" y="250.0" width="6.1" height="8.2" fill="#0000f5"/><rect x="418.5" y="250.0" width="6.1" height="8.2" fill="#0000fe"/><rect x="424.3" y="250.0" width="6.1" height="8.2" fill="#0000ff"/><rect x="430.1" y="250.0" width="6.1" height="8.2" fill="#0000ff"/><rect x="435.9" y="250.0" width="6.1" height="8.2" fill="#0008ff"/><rect x="441.7" y="250.0" width="6.1" height="8.2" fill="#0010ff"/><rect x="447.4" y="250.0" width="6.1" height="8.2" fill="#0020ff"/><rect x="453.2" y="250.0" width="6.1" height="8.2" fill="#0028ff"/><rect x="459.0" y="250.0" width="6.1" height="8.2" fill="#0038ff"/><rect x="464.8" y="250.0" width="6.1" height="8.2" fill="#0048ff"/><rect x="470.6" y="250.0" width="6.1" height="8.2" fill="#0060ff"/><rect x="476.4" y="250.0" width="6.1" height="8.2" fill="#0078ff"/><rect x="482.2" y="250.0" width="6.1" height="8.2" fill="#008fff"/><rect x="487.9" y="250.0" width="6.1" height="8.2" fill="#00b7ff"/><rect x="493.7" y="250.0" width="6.1" height="8.2" fill="#01e7f5"/><rect x="499.5" y="250.0" width="6.1" height="8.2" fill="#0097ff"/><rect x="505.3" y="250.0" width="127.6" height="8.2" fill="#0000ff"/><rect x="632.6" y="250.0" width="6.1" height="8.2" fill="#0000fe"/><rect x="638.3" y="250.0" width="6.1" height="8.2" fill="#0020ff"/><rect x="644.1" y="250.0" width="6.1" height="8.2" fill="#ffe800"/><rect x="649.9" y="250.0" width="6.1" height="8.2" fill="#920000"/><rect x="655.7" y="250.0" width="6.1" height="8.2" fill="#d10000"/><rect x="661.5" y="250.0" width="6.1" height="8.2" fill="#f50b00"/><rect x="667.3" y="250.0" width="6.1" height="8.2" fill="#ff2100"/><rect x="673.1" y="250.0" width="6.1" height="8.2" fill="#ff2800"/><rect x="678.8" y="250.0" width="6.1" height="8.2" fill="#ff2100"/><rect x="684.6" y="250.0" width="6.1" height="8.2" fill="#f50b00"/><rect x="690.4" y="250.0" width="6.1" height="8.2" fill="#d10000"/><rect x="696.2" y="250.0" width="6.1" height="8.2" fill="#920000"/><rect x="702.0" y="250.0" width="6.1" height="8.2" fill="#ffe800"/><rect x="707.8" y="250.0" width="6.1" height="8.2" fill="#0020ff"/><rect x="713.6" y="250.0" width="6.1" height="8.2" fill="#0000fe"/><rect x="719.3" y="250.0" width="127.6" height="8.2" fill="#0000ff"/><rect x="846.6" y="250.0" width="6.1" height="8.2" fill="#0097ff"/><rect x="852.4" y="250.0" width="6.1" height="8.2" fill="#01e7f5"/><rect x="858.2" y="250.0" width="6.1" height="8.2" fill="#00b7ff"/><rect x="864.0" y="250.0" width="6.1" height="8.2" fill="#008fff"/><rect x="869.7" y="250.0" width="6.1" height="8.2" fill="#0078ff"/><rect x="875.5" y="250.0" width="6.1" height="8.2" fill="#0060ff"/><rect x="881.3" y="250.0" width="6.1" height="8.2" fill="#0048ff"/><rect x="887.1" y="250.0" width="6.1" height="8.2" fill="#0038ff"/><rect x="892.9" y="250.0" width="6.1" height="8.2" fill="#0028ff"/><rect x="898.7" y="250.0" width="6.1" height="8.2" fill="#0020ff"/><rect x="904.5" y="250.0" width="6.1" height="8.2" fill="#0010ff"/><rect x="910.2" y="250.0" width="6.1" height="8.2" fill="#0008ff"/><rect x="916.0" y="250.0" width="6.1" height="8.2" fill="#0000ff"/><rect x="921.8" y="250.0" width="6.1" height="8.2" fill="#0000ff"/><rect x="927.6" y="250.0" width="6.1" height="8.2" fill="#0000fe"/><rect x="933.4" y="250.0" width="6.1" height="8.2" fill="#0000f5"/><rect x="939.2" y="250.0" width="6.1" height="8.2" fill="#0000ec"/><rect x="945.0" y="250.0" width="6.1" height="8.2" fill="#0000e3"/><rect x="950.7" y="250.0" width="11.9" height="8.2" fill="#0000da"/><rect x="962.3" y="250.0" width="6.1" height="8.2" fill="#0000d1"/><rect x="968.1" y="250.0" width="11.9" height="8.2" fill="#0000c8"/><rect x="979.7" y="250.0" width="11.9" height="8.2" fill="#0000bf"/><rect x="991.2" y="250.0" width="11.9" height="8.2" fill="#0000b6"/><rect x="1002.8" y="250.0" width="11.9" height="8.2" fill="#0000ad"/><rect x="1014.4" y="250.0" width="17.7" height="8.2" fill="#0000a4"/><rect x="1031.7" y="250.0" width="29.2" height="8.2" fill="#00009b"/><rect x="1060.7" y="250.0" width="40.8" height="8.2" fill="#000092"/><rect x="1101.1" y="250.0" width="95.8" height="8.2" fill="#000089"/><rect x="155.3" y="257.9" width="95.8" height="8.2" fill="#000089"/><rect x="250.8" y="257.9" width="40.8" height="8.2" fill="#000092"/><rect x="291.2" y="257.9" width="23.4" height="8.2" fill="#00009b"/><rect x="314.4" y="257.9" width="17.7" height="8.2" fill="#0000a4"/><rect x="331.7" y="257.9" width="17.7" height="8.2" fill="#0000ad"/><rect x="349.1" y="257.9" width="11.9" height="8.2" fill="#0000b6"/><rect x="360.7" y="257.9" width="11.9" height="8.2" fill="#0000bf"/><rect x="372.2" y="257.9" width="11.9" height="8.2" fill="#0000c8"/><rect x="383.8" y="257.9" width="6.1" height="8.2" fill="#0000d1"/><rect x="389.6" y="257.9" width="11.9" height="8.2" fill="#0000da"/><rect x="401.2" y="257.9" width="6.1" height="8.2" fill="#0000e3"/><rect x="406.9" y="257.9" width="6.1" height="8.2" fill="#0000ec"/><rect x="412.7" y="257.9" width="6.1" height="8.2" fill="#0000f5"/><rect x="418.5" y="257.9" width="6.1" height="8.2" fill="#0000fe"/><rect x="424.3" y="257.9" width="6.1" height="8.2" fill="#0000ff"/><rect x="430.1" y="257.9" width="6.1" height="8.2" fill="#0000ff"/><rect x="435.9" y="257.9" width="6.1" height="8.2" fill="#0008ff"/><rect x="441.7" y="257.9" width="6.1" height="8.2" fill="#0010ff"/><rect x="447.4" y="257.9" width="6.1" height="8.2" fill="#0020ff"/><rect x="453.2" y="257.9" width="6.1" height="8.2" fill="#0030ff"/><rect x="459.0" y="257.9" width="6.1" height="8.2" fill="#0038ff"/><rect x="464.8" y="257.9" width="6.1" height="8.2" fill="#0050ff"/><rect x="470.6" y="257.9" width="6.1" height="8.2" fill="#0060ff"/><rect x="476.4" y="257.9" width="6.1" height="8.2" fill="#0078ff"/><rect x="482.2" y="257.9" width="6.1" height="8.2" fill="#009fff"/><rect x="487.9" y="257.9" width="6.1" height="8.2" fill="#00c7ff"/><rect x="493.7" y="257.9" width="6.1" height="8.2" fill="#15ffe2"/><rect x="499.5" y="257.9" width="6.1" height="8.2" fill="#00a7ff"/><rect x="505.3" y="257.9" width="58.2" height="8.2" fill="#0000ff"/><rect x="563.1" y="257.9" width="23.4" height="8.2" fill="#0000ff"/><rect x="586.3" y="257.9" width="52.4" height="8.2" fill="#0000ff"/><rect x="638.3" y="257.9" width="6.1" height="8.2" fill="#0020ff"/><rect x="644.1" y="257.9" width="6.1" height="8.2" fill="#ffe800"/><rect x="649.9" y="257.9" width="6.1" height="8.2" fill="#890000"/><rect x="655.7" y="257.9" width="6.1" height="8.2" fill="#bf0000"/><rect x="661.5" y="257.9" width="6.1" height="8.2" fill="#ec0400"/><rect x="667.3" y="257.9" width="6.1" height="8.2" fill="#ff1a00"/><rect x="673.1" y="257.9" width="6.1" height="8.2" fill="#ff2100"/><rect x="678.8" y="257.9" width="6.1" height="8.2" fill="#ff1a00"/><rect x="684.6" y="257.9" width="6.1" height="8.2" fill="#ec0400"/><rect x="690.4" y="257.9" width="6.1" height="8.2" fill="#bf0000"/><rect x="696.2" y="257.9" width="6.1" height="8.2" fill="#890000"/><rect x="702.0" y="257.9" width="6.1" height="8.2" fill="#ffe800"/><rect x="707.8" y="257.9" width="6.1" height="8.2" fill="#0020ff"/><rect x="713.6" y="257.9" width="52.4" height="8.2" fill="#0000ff"/><rect x="765.6" y="257.9" width="23.4" height="8.2" fill="#0000ff"/><rect x="788.8" y="257.9" width="58.2" height="8.2" fill="#0000ff"/><rect x="846.6" y="257.9" width="6.1" height="8.2" fill="#00a7ff"/><rect x="852.4" y="257.9" width="6.1" height="8.2" fill="#15ffe2"/><rect x="858.2" y="257.9" width="6.1" height="8.2" fill="#00c7ff"/><rect x="864.0" y="257.9" width="6.1" height="8.2" fill="#009fff"/><rect x="869.7" y="257.9" width="6.1" height="8.2" fill="#0078ff"/><rect x="875.5" y="257.9" width="6.1" height="8.2" fill="#0060ff"/><rect x="881.3" y="257.9" width="6.1" height="8.2" fill="#0050ff"/><rect x="887.1" y="257.9" width="6.1" height="8.2" fill="#0038ff"/><rect x="892.9" y="257.9" width="6.1" height="8.2" fill="#0030ff"/><rect x="898.7" y="257.9" width="6.1" height="8.2" fill="#0020ff"/><rect x="904.5" y="257.9" width="6.1" height="8.2" fill="#0010ff"/><rect x="910.2" y="257.9" width="6.1" height="8.2" fill="#0008ff"/><rect x="916.0" y="257.9" width="6.1" height="8.2" fill="#0000ff"/><rect x="921.8" y="257.9" width="6.1" height="8.2" fill="#0000ff"/><rect x="927.6" y="257.9" width="6.1" height="8.2" fill="#0000fe"/><rect x="933.4" y="257.9" width="6.1" height="8.2" fill="#0000f5"/><rect x="939.2" y="257.9" width="6.1" height="8.2" fill="#0000ec"/><rect x="945.0" y="257.9" width="6.1" height="8.2" fill="#0000e3"/><rect x="950.7" y="257.9" width="11.9" height="8.2" fill="#0000da"/><rect x="962.3" y="257.9" width="6.1" height="8.2" fill="#0000d1"/><rect x="968.1" y="257.9" width="11.9" height="8.2" fill="#0000c8"/><rect x="979.7" y="257.9" width="11.9" height="8.2" fill="#0000bf"/><rect x="991.2" y="257.9" width="11.9" height="8.2" fill="#0000b6"/><rect x="1002.8" y="257.9" width="17.7" height="8.2" fill="#0000ad"/><rect x="1020.2" y="257.9" width="17.7" height="8.2" fill="#0000a4"/><rect x="1037.5" y="257.9" width="23.4" height="8.2" fill="#00009b"/><rect x="1060.7" y="257.9" width="40.8" height="8.2" fill="#000092"/><rect x="1101.1" y="257.9" width="95.8" height="8.2" fill="#000089"/><rect x="155.3" y="265.7" width="84.2" height="8.2" fill="#000089"/><rect x="239.2" y="265.7" width="46.6" height="8.2" fill="#000092"/><rect x="285.5" y="265.7" width="29.2" height="8.2" fill="#00009b"/><rect x="314.4" y="265.7" width="17.7" height="8.2" fill="#0000a4"/><rect x="331.7" y="265.7" width="17.7" height="8.2" fill="#0000ad"/><rect x="349.1" y="265.7" width="11.9" height="8.2" fill="#0000b6"/><rect x="360.7" y="265.7" width="11.9" height="8.2" fill="#0000bf"/><rect x="372.2" y="265.7" width="11.9" height="8.2" fill="#0000c8"/><rect x="383.8" y="265.7" width="6.1" height="8.2" fill="#0000d1"/><rect x="389.6" y="265.7" width="6.1" height="8.2" fill="#0000da"/><rect x="395.4" y="265.7" width="11.9" height="8.2" fill="#0000e3"/><rect x="406.9" y="265.7" width="6.1" height="8.2" fill="#0000ec"/><rect x="412.7" y="265.7" width="6.1" height="8.2" fill="#0000f5"/><rect x="418.5" y="265.7" width="6.1" height="8.2" fill="#0000fe"/><rect x="424.3" y="265.7" width="6.1" height="8.2" fill="#0000ff"/><rect x="430.1" y="265.7" width="6.1" height="8.2" fill="#0000ff"/><rect x="435.9" y="265.7" width="6.1" height="8.2" fill="#0008ff"/><rect x="441.7" y="265.7" width="6.1" height="8.2" fill="#0018ff"/><rect x="447.4" y="265.7" width="6.1" height="8.2" fill="#0020ff"/><rect x="453.2" y="265.7" width="6.1" height="8.2" fill="#0030ff"/><rect x="459.0" y="265.7" width="6.1" height="8.2" fill="#0040ff"/><rect x="464.8" y="265.7" width="6.1" height="8.2" fill="#0050ff"/><rect x="470.6" y="265.7" width="6.1" height="8.2" fill="#0068ff"/><rect x="476.4" y="265.7" width="6.1" height="8.2" fill="#0080ff"/><rect x="482.2" y="265.7" width="6.1" height="8.2" fill="#00a7ff"/><rect x="487.9" y="265.7" width="6.1" height="8.2" fill="#00d7ff"/><rect x="493.7" y="265.7" width="6.1" height="8.2" fill="#21ffd5"/><rect x="499.5" y="265.7" width="6.1" height="8.2" fill="#00b7ff"/><rect x="505.3" y="265.7" width="121.8" height="8.2" fill="#0000ff"/><rect x="626.8" y="265.7" width="11.9" height="8.2" fill="#0000ff"/><rect x="638.3" y="265.7" width="6.1" height="8.2" fill="#0020ff"/><rect x="644.1" y="265.7" width="6.1" height="8.2" fill="#ffe100"/><rect x="649.9" y="265.7" width="6.1" height="8.2" fill="#800000"/><rect x="655.7" y="265.7" width="6.1" height="8.2" fill="#bf0000"/><rect x="661.5" y="265.7" width="6.1" height="8.2" fill="#ec0400"/><rect x="667.3" y="265.7" width="6.1" height="8.2" fill="#fe1200"/><rect x="673.1" y="265.7" width="6.1" height="8.2" fill="#ff1a00"/><rect x="678.8" y="265.7" width="6.1" height="8.2" fill="#fe1200"/><rect x="684.6" y="265.7" width="6.1" height="8.2" fill="#ec0400"/><rect x="690.4" y="265.7" width="6.1" height="8.2" fill="#bf0000"/><rect x="696.2" y="265.7" width="6.1" height="8.2" fill="#800000"/><rect x="702.0" y="265.7" width="6.1" height="8.2" fill="#ffe100"/><rect x="707.8" y="265.7" width="6.1" height="8.2" fill="#0020ff"/><rect x="713.6" y="265.7" width="11.9" height="8.2" fill="#0000ff"/><rect x="725.1" y="265.7" width="121.8" height="8.2" fill="#0000ff"/><rect x="846.6" y="265.7" width="6.1" height="8.2" fill="#00b7ff"/><rect x="852.4" y="265.7" width="6.1" height="8.2" fill="#21ffd5"/><rect x="858.2" y="265.7" width="6.1" height="8.2" fill="#00d7ff"/><rect x="864.0" y="265.7" width="6.1" height="8.2" fill="#00a7ff"/><rect x="869.7" y="265.7" width="6.1" height="8.2" fill="#0080ff"/><rect x="875.5" y="265.7" width="6.1" height="8.2" fill="#0068ff"/><rect x="881.3" y="265.7" width="6.1" height="8.2" fill="#0050ff"/><rect x="887.1" y="265.7" width="6.1" height="8.2" fill="#0040ff"/><rect x="892.9" y="265.7" width="6.1" height="8.2" fill="#0030ff"/><rect x="898.7" y="265.7" width="6.1" height="8.2" fill="#0020ff"/><rect x="904.5" y="265.7" width="6.1" height="8.2" fill="#0018ff"/><rect x="910.2" y="265.7" width="6.1" height="8.2" fill="#0008ff"/><rect x="916.0" y="265.7" width="6.1" height="8.2" fill="#0000ff"/><rect x="921.8" y="265.7" width="6.1" height="8.2" fill="#0000ff"/><rect x="927.6" y="265.7" width="6.1" height="8.2" fill="#0000fe"/><rect x="933.4" y="265.7" width="6.1" height="8.2" fill="#0000f5"/><rect x="939.2" y="265.7" width="6.1" height="8.2" fill="#0000ec"/><rect x="945.0" y="265.7" width="11.9" height="8.2" fill="#0000e3"/><rect x="956.5" y="265.7" width="6.1" height="8.2" fill="#0000da"/><rect x="962.3" y="265.7" width="6.1" height="8.2" fill="#0000d1"/><rect x="968.1" y="265.7" width="11.9" height="8.2" fill="#0000c8"/><rect x="979.7" y="265.7" width="11.9" height="8.2" fill="#0000bf"/><rect x="991.2" y="265.7" width="11.9" height="8.2" fill="#0000b6"/><rect x="1002.8" y="265.7" width="17.7" height="8.2" fill="#0000ad"/><rect x="1020.2" y="265.7" width="17.7" height="8.2" fill="#0000a4"/><rect x="1037.5" y="265.7" width="29.2" height="8.2" fill="#00009b"/><rect x="1066.4" y="265.7" width="46.6" height="8.2" fill="#000092"/><rect x="1112.7" y="265.7" width="84.2" height="8.2" fill="#000089"/><rect x="155.3" y="273.6" width="78.4" height="8.2" fill="#000089"/><rect x="233.4" y="273.6" width="52.4" height="8.2" fill="#000092"/><rect x="285.5" y="273.6" width="23.4" height="8.2" fill="#00009b"/><rect x="308.6" y="273.6" width="23.4" height="8.2" fill="#0000a4"/><rect x="331.7" y="273.6" width="11.9" height="8.2" fill="#0000ad"/><rect x="343.3" y="273.6" width="17.7" height="8.2" fill="#0000b6"/><rect x="360.7" y="273.6" width="11.9" height="8.2" fill="#0000bf"/><rect x="372.2" y="273.6" width="6.1" height="8.2" fill="#0000c8"/><rect x="378.0" y="273.6" width="11.9" height="8.2" fill="#0000d1"/><rect x="389.6" y="273.6" width="6.1" height="8.2" fill="#0000da"/><rect x="395.4" y="273.6" width="11.9" height="8.2" fill="#0000e3"/><rect x="406.9" y="273.6" width="6.1" height="8.2" fill="#0000ec"/><rect x="412.7" y="273.6" width="6.1" height="8.2" fill="#0000f5"/><rect x="418.5" y="273.6" width="6.1" height="8.2" fill="#0000fe"/><rect x="424.3" y="273.6" width="6.1" height="8.2" fill="#0000ff"/><rect x="430.1" y="273.6" width="6.1" height="8.2" fill="#0000ff"/><rect x="435.9" y="273.6" width="6.1" height="8.2" fill="#0010ff"/><rect x="441.7" y="273.6" width="6.1" height="8.2" fill="#0018ff"/><rect x="447.4" y="273.6" width="6.1" height="8.2" fill="#0020ff"/><rect x="453.2" y="273.6" width="6.1" height="8.2" fill="#0030ff"/><rect x="459.0" y="273.6" width="6.1" height="8.2" fill="#0040ff"/><rect x="464.8" y="273.6" width="6.1" height="8.2" fill="#0058ff"/><rect x="470.6" y="273.6" width="6.1" height="8.2" fill="#0070ff"/><rect x="476.4" y="273.6" width="6.1" height="8.2" fill="#008fff"/><rect x="482.2" y="273.6" width="6.1" height="8.2" fill="#00afff"/><rect x="487.9" y="273.6" width="6.1" height="8.2" fill="#01e7f5"/><rect x="493.7" y="273.6" width="6.1" height="8.2" fill="#35ffc2"/><rect x="499.5" y="273.6" width="6.1" height="8.2" fill="#00c7ff"/><rect x="505.3" y="273.6" width="11.9" height="8.2" fill="#0000ff"/><rect x="516.9" y="273.6" width="98.6" height="8.2" fill="#0008ff"/><rect x="615.2" y="273.6" width="23.4" height="8.2" fill="#0000ff"/><rect x="638.3" y="273.6" width="6.1" height="8.2" fill="#0028ff"/><rect x="644.1" y="273.6" width="6.1" height="8.2" fill="#ffe100"/><rect x="649.9" y="273.6" width="6.1" height="8.2" fill="#800000"/><rect x="655.7" y="273.6" width="6.1" height="8.2" fill="#b60000"/><rect x="661.5" y="273.6" width="6.1" height="8.2" fill="#e30000"/><rect x="667.3" y="273.6" width="6.1" height="8.2" fill="#fe1200"/><rect x="673.1" y="273.6" width="6.1" height="8.2" fill="#ff1a00"/><rect x="678.8" y="273.6" width="6.1" height="8.2" fill="#fe1200"/><rect x="684.6" y="273.6" width="6.1" height="8.2" fill="#e30000"/><rect x="690.4" y="273.6" width="6.1" height="8.2" fill="#b60000"/><rect x="696.2" y="273.6" width="6.1" height="8.2" fill="#800000"/><rect x="702.0" y="273.6" width="6.1" height="8.2" fill="#ffe100"/><rect x="707.8" y="273.6" width="6.1" height="8.2" fill="#0028ff"/><rect x="713.6" y="273.6" width="23.4" height="8.2" fill="#0000ff"/><rect x="736.7" y="273.6" width="98.6" height="8.2" fill="#0008ff"/><rect x="835.0" y="273.6" width="11.9" height="8.2" fill="#0000ff"/><rect x="846.6" y="273.6" width="6.1" height="8.2" fill="#00c7ff"/><rect x="852.4" y="273.6" width="6.1" height="8.2" fill="#35ffc2"/><rect x="858.2" y="273.6" width="6.1" height="8.2" fill="#01e7f5"/><rect x="864.0" y="273.6" width="6.1" height="8.2" fill="#00afff"/><rect x="869.7" y="273.6" width="6.1" height="8.2" fill="#008fff"/><rect x="875.5" y="273.6" width="6.1" height="8.2" fill="#0070ff"/><rect x="881.3" y="273.6" width="6.1" height="8.2" fill="#0058ff"/><rect x="887.1" y="273.6" width="6.1" height="8.2" fill="#0040ff"/><rect x="892.9" y="273.6" width="6.1" height="8.2" fill="#0030ff"/><rect x="898.7" y="273.6" width="6.1" height="8.2" fill="#0020ff"/><rect x="904.5" y="273.6" width="6.1" height="8.2" fill="#0018ff"/><rect x="910.2" y="273.6" width="6.1" height="8.2" fill="#0010ff"/><rect x="916.0" y="273.6" width="6.1" height="8.2" fill="#0000ff"/><rect x="921.8" y="273.6" width="6.1" height="8.2" fill="#0000ff"/><rect x="927.6" y="273.6" width="6.1" height="8.2" fill="#0000fe"/><rect x="933.4" y="273.6" width="6.1" height="8.2" fill="#0000f5"/><rect x="939.2" y="273.6" width="6.1" height="8.2" fill="#0000ec"/><rect x="945.0" y="273.6" width="11.9" height="8.2" fill="#0000e3"/><rect x="956.5" y="273.6" width="6.1" height="8.2" fill="#0000da"/><rect x="962.3" y="273.6" width="11.9" height="8.2" fill="#0000d1"/><rect x="973.9" y="273.6" width="6.1" height="8.2" fill="#0000c8"/><rect x="979.7" y="273.6" width="11.9" height="8.2" fill="#0000bf"/><rect x="991.2" y="273.6" width="17.7" height="8.2" fill="#0000b6"/><rect x="1008.6" y="273.6" width="11.9" height="8.2" fill="#0000ad"/><rect x="1020.2" y="273.6" width="23.4" height="8.2" fill="#0000a4"/><rect x="1043.3" y="273.6" width="23.4" height="8.2" fill="#00009b"/><rect x="1066.4" y="273.6" width="52.4" height="8.2" fill="#000092"/><rect x="1118.5" y="273.6" width="78.4" height="8.2" fill="#000089"/><rect x="155.3" y="281.5" width="66.8" height="8.2" fill="#000089"/><rect x="221.8" y="281.5" width="58.1" height="8.2" fill="#000092"/><rect x="279.7" y="281.5" width="29.2" height="8.2" fill="#00009b"/><rect x="308.6" y="281.5" width="17.7" height="8.2" fill="#0000a4"/><rect x="326.0" y="281.5" width="17.7" height="8.2" fill="#0000ad"/><rect x="343.3" y="281.5" width="11.9" height="8.2" fill="#0000b6"/><rect x="354.9" y="281.5" width="11.9" height="8.2" fill="#0000bf"/><rect x="366.5" y="281.5" width="11.9" height="8.2" fill="#0000c8"/><rect x="378.0" y="281.5" width="11.9" height="8.2" fill="#0000d1"/><rect x="389.6" y="281.5" width="6.1" height="8.2" fill="#0000da"/><rect x="395.4" y="281.5" width="6.1" height="8.2" fill="#0000e3"/><rect x="401.2" y="281.5" width="6.1" height="8.2" fill="#0000ec"/><rect x="406.9" y="281.5" width="11.9" height="8.2" fill="#0000f5"/><rect x="418.5" y="281.5" width="6.1" height="8.2" fill="#0000fe"/><rect x="424.3" y="281.5" width="6.1" height="8.2" fill="#0000ff"/><rect x="430.1" y="281.5" width="6.1" height="8.2" fill="#0008ff"/><rect x="435.9" y="281.5" width="6.1" height="8.2" fill="#0010ff"/><rect x="441.7" y="281.5" width="6.1" height="8.2" fill="#0018ff"/><rect x="447.4" y="281.5" width="6.1" height="8.2" fill="#0028ff"/><rect x="453.2" y="281.5" width="6.1" height="8.2" fill="#0038ff"/><rect x="459.0" y="281.5" width="6.1" height="8.2" fill="#0048ff"/><rect x="464.8" y="281.5" width="6.1" height="8.2" fill="#0060ff"/><rect x="470.6" y="281.5" width="6.1" height="8.2" fill="#0078ff"/><rect x="476.4" y="281.5" width="6.1" height="8.2" fill="#0097ff"/><rect x="482.2" y="281.5" width="6.1" height="8.2" fill="#00c7ff"/><rect x="487.9" y="281.5" width="6.1" height="8.2" fill="#15ffe2"/><rect x="493.7" y="281.5" width="6.1" height="8.2" fill="#55ffa2"/><rect x="499.5" y="281.5" width="6.1" height="8.2" fill="#08efef"/><rect x="505.3" y="281.5" width="40.8" height="8.2" fill="#0008ff"/><rect x="545.8" y="281.5" width="52.4" height="8.2" fill="#0010ff"/><rect x="597.9" y="281.5" width="29.2" height="8.2" fill="#0008ff"/><rect x="626.8" y="281.5" width="11.9" height="8.2" fill="#0000ff"/><rect x="638.3" y="281.5" width="6.1" height="8.2" fill="#0028ff"/><rect x="644.1" y="281.5" width="6.1" height="8.2" fill="#ffe100"/><rect x="649.9" y="281.5" width="6.1" height="8.2" fill="#800000"/><rect x="655.7" y="281.5" width="6.1" height="8.2" fill="#b60000"/><rect x="661.5" y="281.5" width="6.1" height="8.2" fill="#e30000"/><rect x="667.3" y="281.5" width="6.1" height="8.2" fill="#fe1200"/><rect x="673.1" y="281.5" width="6.1" height="8.2" fill="#ff1a00"/><rect x="678.8" y="281.5" width="6.1" height="8.2" fill="#fe1200"/><rect x="684.6" y="281.5" width="6.1" height="8.2" fill="#e30000"/><rect x="690.4" y="281.5" width="6.1" height="8.2" fill="#b60000"/><rect x="696.2" y="281.5" width="6.1" height="8.2" fill="#800000"/><rect x="702.0" y="281.5" width="6.1" height="8.2" fill="#ffe100"/><rect x="707.8" y="281.5" width="6.1" height="8.2" fill="#0028ff"/><rect x="713.6" y="281.5" width="11.9" height="8.2" fill="#0000ff"/><rect x="725.1" y="281.5" width="29.2" height="8.2" fill="#0008ff"/><rect x="754.0" y="281.5" width="52.4" height="8.2" fill="#0010ff"/><rect x="806.1" y="281.5" width="40.8" height="8.2" fill="#0008ff"/><rect x="846.6" y="281.5" width="6.1" height="8.2" fill="#08efef"/><rect x="852.4" y="281.5" width="6.1" height="8.2" fill="#55ffa2"/><rect x="858.2" y="281.5" width="6.1" height="8.2" fill="#15ffe2"/><rect x="864.0" y="281.5" width="6.1" height="8.2" fill="#00c7ff"/><rect x="869.7" y="281.5" width="6.1" height="8.2" fill="#0097ff"/><rect x="875.5" y="281.5" width="6.1" height="8.2" fill="#0078ff"/><rect x="881.3" y="281.5" width="6.1" height="8.2" fill="#0060ff"/><rect x="887.1" y="281.5" width="6.1" height="8.2" fill="#0048ff"/><rect x="892.9" y="281.5" width="6.1" height="8.2" fill="#0038ff"/><rect x="898.7" y="281.5" width="6.1" height="8.2" fill="#0028ff"/><rect x="904.5" y="281.5" width="6.1" height="8.2" fill="#0018ff"/><rect x="910.2" y="281.5" width="6.1" height="8.2" fill="#0010ff"/><rect x="916.0" y="281.5" width="6.1" height="8.2" fill="#0008ff"/><rect x="921.8" y="281.5" width="6.1" height="8.2" fill="#0000ff"/><rect x="927.6" y="281.5" width="6.1" height="8.2" fill="#0000fe"/><rect x="933.4" y="281.5" width="11.9" height="8.2" fill="#0000f5"/><rect x="945.0" y="281.5" width="6.1" height="8.2" fill="#0000ec"/><rect x="950.7" y="281.5" width="6.1" height="8.2" fill="#0000e3"/><rect x="956.5" y="281.5" width="6.1" height="8.2" fill="#0000da"/><rect x="962.3" y="281.5" width="11.9" height="8.2" fill="#0000d1"/><rect x="973.9" y="281.5" width="11.9" height="8.2" fill="#0000c8"/><rect x="985.4" y="281.5" width="11.9" height="8.2" fill="#0000bf"/><rect x="997.0" y="281.5" width="11.9" height="8.2" fill="#0000b6"/><rect x="1008.6" y="281.5" width="17.7" height="8.2" fill="#0000ad"/><rect x="1025.9" y="281.5" width="17.7" height="8.2" fill="#0000a4"/><rect x="1043.3" y="281.5" width="29.2" height="8.2" fill="#00009b"/><rect x="1072.2" y="281.5" width="58.1" height="8.2" fill="#000092"/><rect x="1130.1" y="281.5" width="66.8" height="8.2" fill="#000089"/><rect x="155.3" y="289.3" width="49.5" height="8.2" fill="#000089"/><rect x="204.5" y="289.3" width="69.7" height="8.2" fill="#000092"/><rect x="273.9" y="289.3" width="29.2" height="8.2" fill="#00009b"/><rect x="302.8" y="289.3" width="23.4" height="8.2" fill="#0000a4"/><rect x="326.0" y="289.3" width="17.7" height="8.2" fill="#0000ad"/><rect x="343.3" y="289.3" width="11.9" height="8.2" fill="#0000b6"/><rect x="354.9" y="289.3" width="11.9" height="8.2" fill="#0000bf"/><rect x="366.5" y="289.3" width="11.9" height="8.2" fill="#0000c8"/><rect x="378.0" y="289.3" width="6.1" height="8.2" fill="#0000d1"/><rect x="383.8" y="289.3" width="11.9" height="8.2" fill="#0000da"/><rect x="395.4" y="289.3" width="6.1" height="8.2" fill="#0000e3"/><rect x="401.2" y="289.3" width="6.1" height="8.2" fill="#0000ec"/><rect x="406.9" y="289.3" width="6.1" height="8.2" fill="#0000f5"/><rect x="412.7" y="289.3" width="6.1" height="8.2" fill="#0000fe"/><rect x="418.5" y="289.3" width="6.1" height="8.2" fill="#0000ff"/><rect x="424.3" y="289.3" width="6.1" height="8.2" fill="#0000ff"/><rect x="430.1" y="289.3" width="6.1" height="8.2" fill="#0008ff"/><rect x="435.9" y="289.3" width="6.1" height="8.2" fill="#0010ff"/><rect x="441.7" y="289.3" width="6.1" height="8.2" fill="#0020ff"/><rect x="447.4" y="289.3" width="6.1" height="8.2" fill="#0028ff"/><rect x="453.2" y="289.3" width="6.1" height="8.2" fill="#0038ff"/><rect x="459.0" y="289.3" width="6.1" height="8.2" fill="#0050ff"/><rect x="464.8" y="289.3" width="6.1" height="8.2" fill="#0060ff"/><rect x="470.6" y="289.3" width="6.1" height="8.2" fill="#0080ff"/><rect x="476.4" y="289.3" width="6.1" height="8.2" fill="#00a7ff"/><rect x="482.2" y="289.3" width="6.1" height="8.2" fill="#00d7ff"/><rect x="487.9" y="289.3" width="6.1" height="8.2" fill="#21ffd5"/><rect x="493.7" y="289.3" width="6.1" height="8.2" fill="#68ff8f"/><rect x="499.5" y="289.3" width="6.1" height="8.2" fill="#15ffe2"/><rect x="505.3" y="289.3" width="46.6" height="8.2" fill="#0010ff"/><rect x="551.6" y="289.3" width="35.0" height="8.2" fill="#0018ff"/><rect x="586.3" y="289.3" width="23.4" height="8.2" fill="#0010ff"/><rect x="609.4" y="289.3" width="23.4" height="8.2" fill="#0008ff"/><rect x="632.6" y="289.3" width="6.1" height="8.2" fill="#0000ff"/><rect x="638.3" y="289.3" width="6.1" height="8.2" fill="#0028ff"/><rect x="644.1" y="289.3" width="6.1" height="8.2" fill="#ffe800"/><rect x="649.9" y="289.3" width="6.1" height="8.2" fill="#800000"/><rect x="655.7" y="289.3" width="6.1" height="8.2" fill="#b60000"/><rect x="661.5" y="289.3" width="6.1" height="8.2" fill="#e30000"/><rect x="667.3" y="289.3" width="6.1" height="8.2" fill="#fe1200"/><rect x="673.1" y="289.3" width="6.1" height="8.2" fill="#ff1a00"/><rect x="678.8" y="289.3" width="6.1" height="8.2" fill="#fe1200"/><rect x="684.6" y="289.3" width="6.1" height="8.2" fill="#e30000"/><rect x="690.4" y="289.3" width="6.1" height="8.2" fill="#b60000"/><rect x="696.2" y="289.3" width="6.1" height="8.2" fill="#800000"/><rect x="702.0" y="289.3" width="6.1" height="8.2" fill="#ffe800"/><rect x="707.8" y="289.3" width="6.1" height="8.2" fill="#0028ff"/><rect x="713.6" y="289.3" width="6.1" height="8.2" fill="#0000ff"/><rect x="719.3" y="289.3" width="23.4" height="8.2" fill="#0008ff"/><rect x="742.5" y="289.3" width="23.4" height="8.2" fill="#0010ff"/><rect x="765.6" y="289.3" width="35.0" height="8.2" fill="#0018ff"/><rect x="800.3" y="289.3" width="46.6" height="8.2" fill="#0010ff"/><rect x="846.6" y="289.3" width="6.1" height="8.2" fill="#15ffe2"/><rect x="852.4" y="289.3" width="6.1" height="8.2" fill="#68ff8f"/><rect x="858.2" y="289.3" width="6.1" height="8.2" fill="#21ffd5"/><rect x="864.0" y="289.3" width="6.1" height="8.2" fill="#00d7ff"/><rect x="869.7" y="289.3" width="6.1" height="8.2" fill="#00a7ff"/><rect x="875.5" y="289.3" width="6.1" height="8.2" fill="#0080ff"/><rect x="881.3" y="289.3" width="6.1" height="8.2" fill="#0060ff"/><rect x="887.1" y="289.3" width="6.1" height="8.2" fill="#0050ff"/><rect x="892.9" y="289.3" width="6.1" height="8.2" fill="#0038ff"/><rect x="898.7" y="289.3" width="6.1" height="8.2" fill="#0028ff"/><rect x="904.5" y="289.3" width="6.1" height="8.2" fill="#0020ff"/><rect x="910.2" y="289.3" width="6.1" height="8.2" fill="#0010ff"/><rect x="916.0" y="289.3" width="6.1" height="8.2" fill="#0008ff"/><rect x="921.8" y="289.3" width="6.1" height="8.2" fill="#0000ff"/><rect x="927.6" y="289.3" width="6.1" height="8.2" fill="#0000ff"/><rect x="933.4" y="289.3" width="6.1" height="8.2" fill="#0000fe"/><rect x="939.2" y="289.3" width="6.1" height="8.2" fill="#0000f5"/><rect x="945.0" y="289.3" width="6.1" height="8.2" fill="#0000ec"/><rect x="950.7" y="289.3" width="6.1" height="8.2" fill="#0000e3"/><rect x="956.5" y="289.3" width="11.9" height="8.2" fill="#0000da"/><rect x="968.1" y="289.3" width="6.1" height="8.2" fill="#0000d1"/><rect x="973.9" y="289.3" width="11.9" height="8.2" fill="#0000c8"/><rect x="985.4" y="289.3" width="11.9" height="8.2" fill="#0000bf"/><rect x="997.0" y="289.3" width="11.9" height="8.2" fill="#0000b6"/><rect x="1008.6" y="289.3" width="17.7" height="8.2" fill="#0000ad"/><rect x="1025.9" y="289.3" width="23.4" height="8.2" fill="#0000a4"/><rect x="1049.1" y="289.3" width="29.2" height="8.2" fill="#00009b"/><rect x="1078.0" y="289.3" width="69.7" height="8.2" fill="#000092"/><rect x="1147.4" y="289.3" width="49.5" height="8.2" fill="#000089"/><rect x="155.3" y="297.2" width="26.3" height="8.2" fill="#000089"/><rect x="181.3" y="297.2" width="87.1" height="8.2" fill="#000092"/><rect x="268.1" y="297.2" width="35.0" height="8.2" fill="#00009b"/><rect x="302.8" y="297.2" width="17.7" height="8.2" fill="#0000a4"/><rect x="320.2" y="297.2" width="17.7" height="8.2" fill="#0000ad"/><rect x="337.5" y="297.2" width="17.7" height="8.2" fill="#0000b6"/><rect x="354.9" y="297.2" width="11.9" height="8.2" fill="#0000bf"/><rect x="366.5" y="297.2" width="11.9" height="8.2" fill="#0000c8"/><rect x="378.0" y="297.2" width="6.1" height="8.2" fill="#0000d1"/><rect x="383.8" y="297.2" width="11.9" height="8.2" fill="#0000da"/><rect x="395.4" y="297.2" width="6.1" height="8.2" fill="#0000e3"/><rect x="401.2" y="297.2" width="6.1" height="8.2" fill="#0000ec"/><rect x="406.9" y="297.2" width="6.1" height="8.2" fill="#0000f5"/><rect x="412.7" y="297.2" width="6.1" height="8.2" fill="#0000fe"/><rect x="418.5" y="297.2" width="6.1" height="8.2" fill="#0000ff"/><rect x="424.3" y="297.2" width="6.1" height="8.2" fill="#0000ff"/><rect x="430.1" y="297.2" width="6.1" height="8.2" fill="#0008ff"/><rect x="435.9" y="297.2" width="6.1" height="8.2" fill="#0018ff"/><rect x="441.7" y="297.2" width="6.1" height="8.2" fill="#0020ff"/><rect x="447.4" y="297.2" width="6.1" height="8.2" fill="#0030ff"/><rect x="453.2" y="297.2" width="6.1" height="8.2" fill="#0040ff"/><rect x="459.0" y="297.2" width="6.1" height="8.2" fill="#0050ff"/><rect x="464.8" y="297.2" width="6.1" height="8.2" fill="#0068ff"/><rect x="470.6" y="297.2" width="6.1" height="8.2" fill="#0087ff"/><rect x="476.4" y="297.2" width="6.1" height="8.2" fill="#00afff"/><rect x="482.2" y="297.2" width="6.1" height="8.2" fill="#01e7f5"/><rect x="487.9" y="297.2" width="6.1" height="8.2" fill="#35ffc2"/><rect x="493.7" y="297.2" width="6.1" height="8.2" fill="#82ff75"/><rect x="499.5" y="297.2" width="6.1" height="8.2" fill="#28ffcf"/><rect x="505.3" y="297.2" width="46.6" height="8.2" fill="#0018ff"/><rect x="551.6" y="297.2" width="35.0" height="8.2" fill="#0020ff"/><rect x="586.3" y="297.2" width="17.7" height="8.2" fill="#0018ff"/><rect x="603.6" y="297.2" width="17.7" height="8.2" fill="#0010ff"/><rect x="621.0" y="297.2" width="17.7" height="8.2" fill="#0008ff"/><rect x="638.3" y="297.2" width="6.1" height="8.2" fill="#0030ff"/><rect x="644.1" y="297.2" width="6.1" height="8.2" fill="#ffe800"/><rect x="649.9" y="297.2" width="6.1" height="8.2" fill="#800000"/><rect x="655.7" y="297.2" width="6.1" height="8.2" fill="#bf0000"/><rect x="661.5" y="297.2" width="6.1" height="8.2" fill="#ec0400"/><rect x="667.3" y="297.2" width="6.1" height="8.2" fill="#fe1200"/><rect x="673.1" y="297.2" width="6.1" height="8.2" fill="#ff1a00"/><rect x="678.8" y="297.2" width="6.1" height="8.2" fill="#fe1200"/><rect x="684.6" y="297.2" width="6.1" height="8.2" fill="#ec0400"/><rect x="690.4" y="297.2" width="6.1" height="8.2" fill="#bf0000"/><rect x="696.2" y="297.2" width="6.1" height="8.2" fill="#800000"/><rect x="702.0" y="297.2" width="6.1" height="8.2" fill="#ffe800"/><rect x="707.8" y="297.2" width="6.1" height="8.2" fill="#0030ff"/><rect x="713.6" y="297.2" width="17.7" height="8.2" fill="#0008ff"/><rect x="730.9" y="297.2" width="17.7" height="8.2" fill="#0010ff"/><rect x="748.3" y="297.2" width="17.7" height="8.2" fill="#0018ff"/><rect x="765.6" y="297.2" width="35.0" height="8.2" fill="#0020ff"/><rect x="800.3" y="297.2" width="46.6" height="8.2" fill="#0018ff"/><rect x="846.6" y="297.2" width="6.1" height="8.2" fill="#28ffcf"/><rect x="852.4" y="297.2" width="6.1" height="8.2" fill="#82ff75"/><rect x="858.2" y="297.2" width="6.1" height="8.2" fill="#35ffc2"/><rect x="864.0" y="297.2" width="6.1" height="8.2" fill="#01e7f5"/><rect x="869.7" y="297.2" width="6.1" height="8.2" fill="#00afff"/><rect x="875.5" y="297.2" width="6.1" height="8.2" fill="#0087ff"/><rect x="881.3" y="297.2" width="6.1" height="8.2" fill="#0068ff"/><rect x="887.1" y="297.2" width="6.1" height="8.2" fill="#0050ff"/><rect x="892.9" y="297.2" width="6.1" height="8.2" fill="#0040ff"/><rect x="898.7" y="297.2" width="6.1" height="8.2" fill="#0030ff"/><rect x="904.5" y="297.2" width="6.1" height="8.2" fill="#0020ff"/><rect x="910.2" y="297.2" width="6.1" height="8.2" fill="#0018ff"/><rect x="916.0" y="297.2" width="6.1" height="8.2" fill="#0008ff"/><rect x="921.8" y="297.2" width="6.1" height="8.2" fill="#0000ff"/><rect x="927.6" y="297.2" width="6.1" height="8.2" fill="#0000ff"/><rect x="933.4" y="297.2" width="6.1" height="8.2" fill="#0000fe"/><rect x="939.2" y="297.2" width="6.1" height="8.2" fill="#0000f5"/><rect x="945.0" y="297.2" width="6.1" height="8.2" fill="#0000ec"/><rect x="950.7" y="297.2" width="6.1" height="8.2" fill="#0000e3"/><rect x="956.5" y="297.2" width="11.9" height="8.2" fill="#0000da"/><rect x="968.1" y="297.2" width="6.1" height="8.2" fill="#0000d1"/><rect x="973.9" y="297.2" width="11.9" height="8.2" fill="#0000c8"/><rect x="985.4" y="297.2" width="11.9" height="8.2" fill="#0000bf"/><rect x="997.0" y="297.2" width="17.7" height="8.2" fill="#0000b6"/><rect x="1014.4" y="297.2" width="17.7" height="8.2" fill="#0000ad"/><rect x="1031.7" y="297.2" width="17.7" height="8.2" fill="#0000a4"/><rect x="1049.1" y="297.2" width="35.0" height="8.2" fill="#00009b"/><rect x="1083.8" y="297.2" width="87.1" height="8.2" fill="#000092"/><rect x="1170.6" y="297.2" width="26.3" height="8.2" fill="#000089"/><rect x="155.3" y="305.0" width="101.5" height="8.2" fill="#000092"/><rect x="256.5" y="305.0" width="40.8" height="8.2" fill="#00009b"/><rect x="297.0" y="305.0" width="23.4" height="8.2" fill="#0000a4"/><rect x="320.2" y="305.0" width="17.7" height="8.2" fill="#0000ad"/><rect x="337.5" y="305.0" width="11.9" height="8.2" fill="#0000b6"/><rect x="349.1" y="305.0" width="11.9" height="8.2" fill="#0000bf"/><rect x="360.7" y="305.0" width="11.9" height="8.2" fill="#0000c8"/><rect x="372.2" y="305.0" width="11.9" height="8.2" fill="#0000d1"/><rect x="383.8" y="305.0" width="6.1" height="8.2" fill="#0000da"/><rect x="389.6" y="305.0" width="11.9" height="8.2" fill="#0000e3"/><rect x="401.2" y="305.0" width="6.1" height="8.2" fill="#0000ec"/><rect x="406.9" y="305.0" width="6.1" height="8.2" fill="#0000f5"/><rect x="412.7" y="305.0" width="6.1" height="8.2" fill="#0000fe"/><rect x="418.5" y="305.0" width="6.1" height="8.2" fill="#0000ff"/><rect x="424.3" y="305.0" width="6.1" height="8.2" fill="#0000ff"/><rect x="430.1" y="305.0" width="6.1" height="8.2" fill="#0008ff"/><rect x="435.9" y="305.0" width="6.1" height="8.2" fill="#0018ff"/><rect x="441.7" y="305.0" width="6.1" height="8.2" fill="#0020ff"/><rect x="447.4" y="305.0" width="6.1" height="8.2" fill="#0030ff"/><rect x="453.2" y="305.0" width="6.1" height="8.2" fill="#0040ff"/><rect x="459.0" y="305.0" width="6.1" height="8.2" fill="#0058ff"/><rect x="464.8" y="305.0" width="6.1" height="8.2" fill="#0070ff"/><rect x="470.6" y="305.0" width="6.1" height="8.2" fill="#0087ff"/><rect x="476.4" y="305.0" width="6.1" height="8.2" fill="#00afff"/><rect x="482.2" y="305.0" width="6.1" height="8.2" fill="#01e7f5"/><rect x="487.9" y="305.0" width="6.1" height="8.2" fill="#3bffbc"/><rect x="493.7" y="305.0" width="6.1" height="8.2" fill="#82ff75"/><rect x="499.5" y="305.0" width="6.1" height="8.2" fill="#28ffcf"/><rect x="505.3" y="305.0" width="6.1" height="8.2" fill="#0030ff"/><rect x="511.1" y="305.0" width="23.4" height="8.2" fill="#0028ff"/><rect x="534.2" y="305.0" width="11.9" height="8.2" fill="#0020ff"/><rect x="545.8" y="305.0" width="40.8" height="8.2" fill="#0028ff"/><rect x="586.3" y="305.0" width="17.7" height="8.2" fill="#0020ff"/><rect x="603.6" y="305.0" width="11.9" height="8.2" fill="#0018ff"/><rect x="615.2" y="305.0" width="11.9" height="8.2" fill="#0010ff"/><rect x="626.8" y="305.0" width="11.9" height="8.2" fill="#0008ff"/><rect x="638.3" y="305.0" width="6.1" height="8.2" fill="#0030ff"/><rect x="644.1" y="305.0" width="6.1" height="8.2" fill="#ffe800"/><rect x="649.9" y="305.0" width="6.1" height="8.2" fill="#890000"/><rect x="655.7" y="305.0" width="6.1" height="8.2" fill="#c80000"/><rect x="661.5" y="305.0" width="6.1" height="8.2" fill="#f50b00"/><rect x="667.3" y="305.0" width="6.1" height="8.2" fill="#ff2100"/><rect x="673.1" y="305.0" width="6.1" height="8.2" fill="#ff2800"/><rect x="678.8" y="305.0" width="6.1" height="8.2" fill="#ff2100"/><rect x="684.6" y="305.0" width="6.1" height="8.2" fill="#f50b00"/><rect x="690.4" y="305.0" width="6.1" height="8.2" fill="#c80000"/><rect x="696.2" y="305.0" width="6.1" height="8.2" fill="#890000"/><rect x="702.0" y="305.0" width="6.1" height="8.2" fill="#ffe800"/><rect x="707.8" y="305.0" width="6.1" height="8.2" fill="#0030ff"/><rect x="713.6" y="305.0" width="11.9" height="8.2" fill="#0008ff"/><rect x="725.1" y="305.0" width="11.9" height="8.2" fill="#0010ff"/><rect x="736.7" y="305.0" width="11.9" height="8.2" fill="#0018ff"/><rect x="748.3" y="305.0" width="17.7" height="8.2" fill="#0020ff"/><rect x="765.6" y="305.0" width="40.8" height="8.2" fill="#0028ff"/><rect x="806.1" y="305.0" width="11.9" height="8.2" fill="#0020ff"/><rect x="817.7" y="305.0" width="23.4" height="8.2" fill="#0028ff"/><rect x="840.8" y="305.0" width="6.1" height="8.2" fill="#0030ff"/><rect x="846.6" y="305.0" width="6.1" height="8.2" fill="#28ffcf"/><rect x="852.4" y="305.0" width="6.1" height="8.2" fill="#82ff75"/><rect x="858.2" y="305.0" width="6.1" height="8.2" fill="#3bffbc"/><rect x="864.0" y="305.0" width="6.1" height="8.2" fill="#01e7f5"/><rect x="869.7" y="305.0" width="6.1" height="8.2" fill="#00afff"/><rect x="875.5" y="305.0" width="6.1" height="8.2" fill="#0087ff"/><rect x="881.3" y="305.0" width="6.1" height="8.2" fill="#0070ff"/><rect x="887.1" y="305.0" width="6.1" height="8.2" fill="#0058ff"/><rect x="892.9" y="305.0" width="6.1" height="8.2" fill="#0040ff"/><rect x="898.7" y="305.0" width="6.1" height="8.2" fill="#0030ff"/><rect x="904.5" y="305.0" width="6.1" height="8.2" fill="#0020ff"/><rect x="910.2" y="305.0" width="6.1" height="8.2" fill="#0018ff"/><rect x="916.0" y="305.0" width="6.1" height="8.2" fill="#0008ff"/><rect x="921.8" y="305.0" width="6.1" height="8.2" fill="#0000ff"/><rect x="927.6" y="305.0" width="6.1" height="8.2" fill="#0000ff"/><rect x="933.4" y="305.0" width="6.1" height="8.2" fill="#0000fe"/><rect x="939.2" y="305.0" width="6.1" height="8.2" fill="#0000f5"/><rect x="945.0" y="305.0" width="6.1" height="8.2" fill="#0000ec"/><rect x="950.7" y="305.0" width="11.9" height="8.2" fill="#0000e3"/><rect x="962.3" y="305.0" width="6.1" height="8.2" fill="#0000da"/><rect x="968.1" y="305.0" width="11.9" height="8.2" fill="#0000d1"/><rect x="979.7" y="305.0" width="11.9" height="8.2" fill="#0000c8"/><rect x="991.2" y="305.0" width="11.9" height="8.2" fill="#0000bf"/><rect x="1002.8" y="305.0" width="11.9" height="8.2" fill="#0000b6"/><rect x="1014.4" y="305.0" width="17.7" height="8.2" fill="#0000ad"/><rect x="1031.7" y="305.0" width="23.4" height="8.2" fill="#0000a4"/><rect x="1054.9" y="305.0" width="40.8" height="8.2" fill="#00009b"/><rect x="1095.4" y="305.0" width="101.5" height="8.2" fill="#000092"/><rect x="155.3" y="312.9" width="95.8" height="8.2" fill="#000092"/><rect x="250.8" y="312.9" width="40.8" height="8.2" fill="#00009b"/><rect x="291.2" y="312.9" width="23.4" height="8.2" fill="#0000a4"/><rect x="314.4" y="312.9" width="17.7" height="8.2" fill="#0000ad"/><rect x="331.7" y="312.9" width="17.7" height="8.2" fill="#0000b6"/><rect x="349.1" y="312.9" width="11.9" height="8.2" fill="#0000bf"/><rect x="360.7" y="312.9" width="11.9" height="8.2" fill="#0000c8"/><rect x="372.2" y="312.9" width="11.9" height="8.2" fill="#0000d1"/><rect x="383.8" y="312.9" width="6.1" height="8.2" fill="#0000da"/><rect x="389.6" y="312.9" width="6.1" height="8.2" fill="#0000e3"/><rect x="395.4" y="312.9" width="11.9" height="8.2" fill="#0000ec"/><rect x="406.9" y="312.9" width="6.1" height="8.2" fill="#0000f5"/><rect x="412.7" y="312.9" width="6.1" height="8.2" fill="#0000fe"/><rect x="418.5" y="312.9" width="6.1" height="8.2" fill="#0000ff"/><rect x="424.3" y="312.9" width="6.1" height="8.2" fill="#0000ff"/><rect x="430.1" y="312.9" width="6.1" height="8.2" fill="#0008ff"/><rect x="435.9" y="312.9" width="6.1" height="8.2" fill="#0018ff"/><rect x="441.7" y="312.9" width="6.1" height="8.2" fill="#0020ff"/><rect x="447.4" y="312.9" width="6.1" height="8.2" fill="#0030ff"/><rect x="453.2" y="312.9" width="6.1" height="8.2" fill="#0040ff"/><rect x="459.0" y="312.9" width="6.1" height="8.2" fill="#0050ff"/><rect x="464.8" y="312.9" width="6.1" height="8.2" fill="#0060ff"/><rect x="470.6" y="312.9" width="6.1" height="8.2" fill="#0078ff"/><rect x="476.4" y="312.9" width="6.1" height="8.2" fill="#009fff"/><rect x="482.2" y="312.9" width="6.1" height="8.2" fill="#00c7ff"/><rect x="487.9" y="312.9" width="6.1" height="8.2" fill="#15ffe2"/><rect x="493.7" y="312.9" width="6.1" height="8.2" fill="#4effa8"/><rect x="499.5" y="312.9" width="6.1" height="8.2" fill="#00dffc"/><rect x="505.3" y="312.9" width="6.1" height="8.2" fill="#0048ff"/><rect x="511.1" y="312.9" width="6.1" height="8.2" fill="#0040ff"/><rect x="516.9" y="312.9" width="11.9" height="8.2" fill="#0038ff"/><rect x="528.4" y="312.9" width="58.2" height="8.2" fill="#0030ff"/><rect x="586.3" y="312.9" width="11.9" height="8.2" fill="#0028ff"/><rect x="597.9" y="312.9" width="11.9" height="8.2" fill="#0020ff"/><rect x="609.4" y="312.9" width="11.9" height="8.2" fill="#0018ff"/><rect x="621.0" y="312.9" width="11.9" height="8.2" fill="#0010ff"/><rect x="632.6" y="312.9" width="6.1" height="8.2" fill="#0008ff"/><rect x="638.3" y="312.9" width="6.1" height="8.2" fill="#0030ff"/><rect x="644.1" y="312.9" width="6.1" height="8.2" fill="#ffe800"/><rect x="649.9" y="312.9" width="6.1" height="8.2" fill="#ad0000"/><rect x="655.7" y="312.9" width="6.1" height="8.2" fill="#ec0400"/><rect x="661.5" y="312.9" width="6.1" height="8.2" fill="#ff2800"/><rect x="667.3" y="312.9" width="17.7" height="8.2" fill="#ff3f00"/><rect x="684.6" y="312.9" width="6.1" height="8.2" fill="#ff2800"/><rect x="690.4" y="312.9" width="6.1" height="8.2" fill="#ec0400"/><rect x="696.2" y="312.9" width="6.1" height="8.2" fill="#ad0000"/><rect x="702.0" y="312.9" width="6.1" height="8.2" fill="#ffe800"/><rect x="707.8" y="312.9" width="6.1" height="8.2" fill="#0030ff"/><rect x="713.6" y="312.9" width="6.1" height="8.2" fill="#0008ff"/><rect x="719.3" y="312.9" width="11.9" height="8.2" fill="#0010ff"/><rect x="730.9" y="312.9" width="11.9" height="8.2" fill="#0018ff"/><rect x="742.5" y="312.9" width="11.9" height="8.2" fill="#0020ff"/><rect x="754.0" y="312.9" width="11.9" height="8.2" fill="#0028ff"/><rect x="765.6" y="312.9" width="58.1" height="8.2" fill="#0030ff"/><rect x="823.5" y="312.9" width="11.9" height="8.2" fill="#0038ff"/><rect x="835.0" y="312.9" width="6.1" height="8.2" fill="#0040ff"/><rect x="840.8" y="312.9" width="6.1" height="8.2" fill="#0048ff"/><rect x="846.6" y="312.9" width="6.1" height="8.2" fill="#00dffc"/><rect x="852.4" y="312.9" width="6.1" height="8.2" fill="#4effa8"/><rect x="858.2" y="312.9" width="6.1" height="8.2" fill="#15ffe2"/><rect x="864.0" y="312.9" width="6.1" height="8.2" fill="#00c7ff"/><rect x="869.7" y="312.9" width="6.1" height="8.2" fill="#009fff"/><rect x="875.5" y="312.9" width="6.1" height="8.2" fill="#0078ff"/><rect x="881.3" y="312.9" width="6.1" height="8.2" fill="#0060ff"/><rect x="887.1" y="312.9" width="6.1" height="8.2" fill="#0050ff"/><rect x="892.9" y="312.9" width="6.1" height="8.2" fill="#0040ff"/><rect x="898.7" y="312.9" width="6.1" height="8.2" fill="#0030ff"/><rect x="904.5" y="312.9" width="6.1" height="8.2" fill="#0020ff"/><rect x="910.2" y="312.9" width="6.1" height="8.2" fill="#0018ff"/><rect x="916.0" y="312.9" width="6.1" height="8.2" fill="#0008ff"/><rect x="921.8" y="312.9" width="6.1" height="8.2" fill="#0000ff"/><rect x="927.6" y="312.9" width="6.1" height="8.2" fill="#0000ff"/><rect x="933.4" y="312.9" width="6.1" height="8.2" fill="#0000fe"/><rect x="939.2" y="312.9" width="6.1" height="8.2" fill="#0000f5"/><rect x="945.0" y="312.9" width="11.9" height="8.2" fill="#0000ec"/><rect x="956.5" y="312.9" width="6.1" height="8.2" fill="#0000e3"/><rect x="962.3" y="312.9" width="6.1" height="8.2" fill="#0000da"/><rect x="968.1" y="312.9" width="11.9" height="8.2" fill="#0000d1"/><rect x="979.7" y="312.9" width="11.9" height="8.2" fill="#0000c8"/><rect x="991.2" y="312.9" width="11.9" height="8.2" fill="#0000bf"/><rect x="1002.8" y="312.9" width="17.7" height="8.2" fill="#0000b6"/><rect x="1020.2" y="312.9" width="17.7" height="8.2" fill="#0000ad"/><rect x="1037.5" y="312.9" width="23.4" height="8.2" fill="#0000a4"/><rect x="1060.7" y="312.9" width="40.8" height="8.2" fill="#00009b"/><rect x="1101.1" y="312.9" width="95.8" height="8.2" fill="#000092"/><rect x="155.3" y="320.8" width="90.0" height="8.2" fill="#00009b"/><rect x="245.0" y="320.8" width="46.6" height="8.2" fill="#0000a4"/><rect x="291.2" y="320.8" width="23.4" height="8.2" fill="#0000ad"/><rect x="314.4" y="320.8" width="23.4" height="8.2" fill="#0000b6"/><rect x="337.5" y="320.8" width="17.7" height="8.2" fill="#0000bf"/><rect x="354.9" y="320.8" width="11.9" height="8.2" fill="#0000c8"/><rect x="366.5" y="320.8" width="11.9" height="8.2" fill="#0000d1"/><rect x="378.0" y="320.8" width="11.9" height="8.2" fill="#0000da"/><rect x="389.6" y="320.8" width="6.1" height="8.2" fill="#0000e3"/><rect x="395.4" y="320.8" width="11.9" height="8.2" fill="#0000ec"/><rect x="406.9" y="320.8" width="6.1" height="8.2" fill="#0000f5"/><rect x="412.7" y="320.8" width="6.1" height="8.2" fill="#0000fe"/><rect x="418.5" y="320.8" width="6.1" height="8.2" fill="#0000ff"/><rect x="424.3" y="320.8" width="6.1" height="8.2" fill="#0000ff"/><rect x="430.1" y="320.8" width="6.1" height="8.2" fill="#0008ff"/><rect x="435.9" y="320.8" width="6.1" height="8.2" fill="#0010ff"/><rect x="441.7" y="320.8" width="6.1" height="8.2" fill="#0018ff"/><rect x="447.4" y="320.8" width="6.1" height="8.2" fill="#0020ff"/><rect x="453.2" y="320.8" width="6.1" height="8.2" fill="#0030ff"/><rect x="459.0" y="320.8" width="6.1" height="8.2" fill="#0040ff"/><rect x="464.8" y="320.8" width="6.1" height="8.2" fill="#0050ff"/><rect x="470.6" y="320.8" width="6.1" height="8.2" fill="#0060ff"/><rect x="476.4" y="320.8" width="6.1" height="8.2" fill="#0080ff"/><rect x="482.2" y="320.8" width="6.1" height="8.2" fill="#009fff"/><rect x="487.9" y="320.8" width="6.1" height="8.2" fill="#00c7ff"/><rect x="493.7" y="320.8" width="6.1" height="8.2" fill="#15ffe2"/><rect x="499.5" y="320.8" width="6.1" height="8.2" fill="#00d7ff"/><rect x="505.3" y="320.8" width="6.1" height="8.2" fill="#0070ff"/><rect x="511.1" y="320.8" width="6.1" height="8.2" fill="#0060ff"/><rect x="516.9" y="320.8" width="6.1" height="8.2" fill="#0050ff"/><rect x="522.6" y="320.8" width="11.9" height="8.2" fill="#0048ff"/><rect x="534.2" y="320.8" width="23.4" height="8.2" fill="#0040ff"/><rect x="557.4" y="320.8" width="29.2" height="8.2" fill="#0038ff"/><rect x="586.3" y="320.8" width="11.9" height="8.2" fill="#0030ff"/><rect x="597.9" y="320.8" width="11.9" height="8.2" fill="#0028ff"/><rect x="609.4" y="320.8" width="6.1" height="8.2" fill="#0020ff"/><rect x="615.2" y="320.8" width="11.9" height="8.2" fill="#0018ff"/><rect x="626.8" y="320.8" width="11.9" height="8.2" fill="#0010ff"/><rect x="638.3" y="320.8" width="6.1" height="8.2" fill="#0030ff"/><rect x="644.1" y="320.8" width="6.1" height="8.2" fill="#fcf000"/><rect x="649.9" y="320.8" width="6.1" height="8.2" fill="#d10000"/><rect x="655.7" y="320.8" width="6.1" height="8.2" fill="#ff2100"/><rect x="661.5" y="320.8" width="6.1" height="8.2" fill="#ff4600"/><rect x="667.3" y="320.8" width="6.1" height="8.2" fill="#ff5500"/><rect x="673.1" y="320.8" width="6.1" height="8.2" fill="#ff5c00"/><rect x="678.8" y="320.8" width="6.1" height="8.2" fill="#ff5500"/><rect x="684.6" y="320.8" width="6.1" height="8.2" fill="#ff4600"/><rect x="690.4" y="320.8" width="6.1" height="8.2" fill="#ff2100"/><rect x="696.2" y="320.8" width="6.1" height="8.2" fill="#d10000"/><rect x="702.0" y="320.8" width="6.1" height="8.2" fill="#fcf000"/><rect x="707.8" y="320.8" width="6.1" height="8.2" fill="#0030ff"/><rect x="713.6" y="320.8" width="11.9" height="8.2" fill="#0010ff"/><rect x="725.1" y="320.8" width="11.9" height="8.2" fill="#0018ff"/><rect x="736.7" y="320.8" width="6.1" height="8.2" fill="#0020ff"/><rect x="742.5" y="320.8" width="11.9" height="8.2" fill="#0028ff"/><rect x="754.0" y="320.8" width="11.9" height="8.2" fill="#0030ff"/><rect x="765.6" y="320.8" width="29.2" height="8.2" fill="#0038ff"/><rect x="794.5" y="320.8" width="23.4" height="8.2" fill="#0040ff"/><rect x="817.7" y="320.8" width="11.9" height="8.2" fill="#0048ff"/><rect x="829.3" y="320.8" width="6.1" height="8.2" fill="#0050ff"/><rect x="835.0" y="320.8" width="6.1" height="8.2" fill="#0060ff"/><rect x="840.8" y="320.8" width="6.1" height="8.2" fill="#0070ff"/><rect x="846.6" y="320.8" width="6.1" height="8.2" fill="#00d7ff"/><rect x="852.4" y="320.8" width="6.1" height="8.2" fill="#15ffe2"/><rect x="858.2" y="320.8" width="6.1" height="8.2" fill="#00c7ff"/><rect x="864.0" y="320.8" width="6.1" height="8.2" fill="#009fff"/><rect x="869.7" y="320.8" width="6.1" height="8.2" fill="#0080ff"/><rect x="875.5" y="320.8" width="6.1" height="8.2" fill="#0060ff"/><rect x="881.3" y="320.8" width="6.1" height="8.2" fill="#0050ff"/><rect x="887.1" y="320.8" width="6.1" height="8.2" fill="#0040ff"/><rect x="892.9" y="320.8" width="6.1" height="8.2" fill="#0030ff"/><rect x="898.7" y="320.8" width="6.1" height="8.2" fill="#0020ff"/><rect x="904.5" y="320.8" width="6.1" height="8.2" fill="#0018ff"/><rect x="910.2" y="320.8" width="6.1" height="8.2" fill="#0010ff"/><rect x="916.0" y="320.8" width="6.1" height="8.2" fill="#0008ff"/><rect x="921.8" y="320.8" width="6.1" height="8.2" fill="#0000ff"/><rect x="927.6" y="320.8" width="6.1" height="8.2" fill="#0000ff"/><rect x="933.4" y="320.8" width="6.1" height="8.2" fill="#0000fe"/><rect x="939.2" y="320.8" width="6.1" height="8.2" fill="#0000f5"/><rect x="945.0" y="320.8" width="11.9" height="8.2" fill="#0000ec"/><rect x="956.5" y="320.8" width="6.1" height="8.2" fill="#0000e3"/><rect x="962.3" y="320.8" width="11.9" height="8.2" fill="#0000da"/><rect x="973.9" y="320.8" width="11.9" height="8.2" fill="#0000d1"/><rect x="985.4" y="320.8" width="11.9" height="8.2" fill="#0000c8"/><rect x="997.0" y="320.8" width="17.7" height="8.2" fill="#0000bf"/><rect x="1014.4" y="320.8" width="23.4" height="8.2" fill="#0000b6"/><rect x="1037.5" y="320.8" width="23.4" height="8.2" fill="#0000ad"/><rect x="1060.7" y="320.8" width="46.6" height="8.2" fill="#0000a4"/><rect x="1106.9" y="320.8" width="90.0" height="8.2" fill="#00009b"/><rect x="155.3" y="328.6" width="14.8" height="8.2" fill="#00009b"/><rect x="169.8" y="328.6" width="75.5" height="8.2" fill="#0000a4"/><rect x="245.0" y="328.6" width="46.6" height="8.2" fill="#0000ad"/><rect x="291.2" y="328.6" width="29.2" height="8.2" fill="#0000b6"/><rect x="320.2" y="328.6" width="23.4" height="8.2" fill="#0000bf"/><rect x="343.3" y="328.6" width="17.7" height="8.2" fill="#0000c8"/><rect x="360.7" y="328.6" width="11.9" height="8.2" fill="#0000d1"/><rect x="372.2" y="328.6" width="17.7" height="8.2" fill="#0000da"/><rect x="389.6" y="328.6" width="11.9" height="8.2" fill="#0000e3"/><rect x="401.2" y="328.6" width="6.1" height="8.2" fill="#0000ec"/><rect x="406.9" y="328.6" width="11.9" height="8.2" fill="#0000f5"/><rect x="418.5" y="328.6" width="6.1" height="8.2" fill="#0000fe"/><rect x="424.3" y="328.6" width="6.1" height="8.2" fill="#0000ff"/><rect x="430.1" y="328.6" width="6.1" height="8.2" fill="#0000ff"/><rect x="435.9" y="328.6" width="6.1" height="8.2" fill="#0008ff"/><rect x="441.7" y="328.6" width="6.1" height="8.2" fill="#0010ff"/><rect x="447.4" y="328.6" width="6.1" height="8.2" fill="#0018ff"/><rect x="453.2" y="328.6" width="6.1" height="8.2" fill="#0020ff"/><rect x="459.0" y="328.6" width="6.1" height="8.2" fill="#0030ff"/><rect x="464.8" y="328.6" width="6.1" height="8.2" fill="#0038ff"/><rect x="470.6" y="328.6" width="6.1" height="8.2" fill="#0048ff"/><rect x="476.4" y="328.6" width="6.1" height="8.2" fill="#0060ff"/><rect x="482.2" y="328.6" width="6.1" height="8.2" fill="#0078ff"/><rect x="487.9" y="328.6" width="6.1" height="8.2" fill="#008fff"/><rect x="493.7" y="328.6" width="6.1" height="8.2" fill="#00afff"/><rect x="499.5" y="328.6" width="6.1" height="8.2" fill="#00c7ff"/><rect x="505.3" y="328.6" width="6.1" height="8.2" fill="#008fff"/><rect x="511.1" y="328.6" width="6.1" height="8.2" fill="#0080ff"/><rect x="516.9" y="328.6" width="6.1" height="8.2" fill="#0070ff"/><rect x="522.6" y="328.6" width="6.1" height="8.2" fill="#0060ff"/><rect x="528.4" y="328.6" width="6.1" height="8.2" fill="#0058ff"/><rect x="534.2" y="328.6" width="17.7" height="8.2" fill="#0050ff"/><rect x="551.6" y="328.6" width="23.4" height="8.2" fill="#0048ff"/><rect x="574.7" y="328.6" width="11.9" height="8.2" fill="#0040ff"/><rect x="586.3" y="328.6" width="11.9" height="8.2" fill="#0038ff"/><rect x="597.9" y="328.6" width="6.1" height="8.2" fill="#0030ff"/><rect x="603.6" y="328.6" width="11.9" height="8.2" fill="#0028ff"/><rect x="615.2" y="328.6" width="6.1" height="8.2" fill="#0020ff"/><rect x="621.0" y="328.6" width="11.9" height="8.2" fill="#0018ff"/><rect x="632.6" y="328.6" width="6.1" height="8.2" fill="#0010ff"/><rect x="638.3" y="328.6" width="6.1" height="8.2" fill="#0038ff"/><rect x="644.1" y="328.6" width="6.1" height="8.2" fill="#f5f701"/><rect x="649.9" y="328.6" width="6.1" height="8.2" fill="#ff1a00"/><rect x="655.7" y="328.6" width="6.1" height="8.2" fill="#ff4600"/><rect x="661.5" y="328.6" width="6.1" height="8.2" fill="#ff6b00"/><rect x="667.3" y="328.6" width="17.7" height="8.2" fill="#ff8100"/><rect x="684.6" y="328.6" width="6.1" height="8.2" fill="#ff6b00"/><rect x="690.4" y="328.6" width="6.1" height="8.2" fill="#ff4600"/><rect x="696.2" y="328.6" width="6.1" height="8.2" fill="#ff1a00"/><rect x="702.0" y="328.6" width="6.1" height="8.2" fill="#f5f701"/><rect x="707.8" y="328.6" width="6.1" height="8.2" fill="#0038ff"/><rect x="713.6" y="328.6" width="6.1" height="8.2" fill="#0010ff"/><rect x="719.3" y="328.6" width="11.9" height="8.2" fill="#0018ff"/><rect x="730.9" y="328.6" width="6.1" height="8.2" fill="#0020ff"/><rect x="736.7" y="328.6" width="11.9" height="8.2" fill="#0028ff"/><rect x="748.3" y="328.6" width="6.1" height="8.2" fill="#0030ff"/><rect x="754.0" y="328.6" width="11.9" height="8.2" fill="#0038ff"/><rect x="765.6" y="328.6" width="11.9" height="8.2" fill="#0040ff"/><rect x="777.2" y="328.6" width="23.4" height="8.2" fill="#0048ff"/><rect x="800.3" y="328.6" width="17.7" height="8.2" fill="#0050ff"/><rect x="817.7" y="328.6" width="6.1" height="8.2" fill="#0058ff"/><rect x="823.5" y="328.6" width="6.1" height="8.2" fill="#0060ff"/><rect x="829.3" y="328.6" width="6.1" height="8.2" fill="#0070ff"/><rect x="835.0" y="328.6" width="6.1" height="8.2" fill="#0080ff"/><rect x="840.8" y="328.6" width="6.1" height="8.2" fill="#008fff"/><rect x="846.6" y="328.6" width="6.1" height="8.2" fill="#00c7ff"/><rect x="852.4" y="328.6" width="6.1" height="8.2" fill="#00afff"/><rect x="858.2" y="328.6" width="6.1" height="8.2" fill="#008fff"/><rect x="864.0" y="328.6" width="6.1" height="8.2" fill="#0078ff"/><rect x="869.7" y="328.6" width="6.1" height="8.2" fill="#0060ff"/><rect x="875.5" y="328.6" width="6.1" height="8.2" fill="#0048ff"/><rect x="881.3" y="328.6" width="6.1" height="8.2" fill="#0038ff"/><rect x="887.1" y="328.6" width="6.1" height="8.2" fill="#0030ff"/><rect x="892.9" y="328.6" width="6.1" height="8.2" fill="#0020ff"/><rect x="898.7" y="328.6" width="6.1" height="8.2" fill="#0018ff"/><rect x="904.5" y="328.6" width="6.1" height="8.2" fill="#0010ff"/><rect x="910.2" y="328.6" width="6.1" height="8.2" fill="#0008ff"/><rect x="916.0" y="328.6" width="6.1" height="8.2" fill="#0000ff"/><rect x="921.8" y="328.6" width="6.1" height="8.2" fill="#0000ff"/><rect x="927.6" y="328.6" width="6.1" height="8.2" fill="#0000fe"/><rect x="933.4" y="328.6" width="11.9" height="8.2" fill="#0000f5"/><rect x="945.0" y="328.6" width="6.1" height="8.2" fill="#0000ec"/><rect x="950.7" y="328.6" width="11.9" height="8.2" fill="#0000e3"/><rect x="962.3" y="328.6" width="17.7" height="8.2" fill="#0000da"/><rect x="979.7" y="328.6" width="11.9" height="8.2" fill="#0000d1"/><rect x="991.2" y="328.6" width="17.7" height="8.2" fill="#0000c8"/><rect x="1008.6" y="328.6" width="23.4" height="8.2" fill="#0000bf"/><rect x="1031.7" y="328.6" width="29.2" height="8.2" fill="#0000b6"/><rect x="1060.7" y="328.6" width="46.6" height="8.2" fill="#0000ad"/><rect x="1106.9" y="328.6" width="75.5" height="8.2" fill="#0000a4"/><rect x="1182.1" y="328.6" width="14.8" height="8.2" fill="#00009b"/><rect x="155.3" y="336.5" width="14.8" height="8.2" fill="#00009b"/><rect x="169.8" y="336.5" width="75.5" height="8.2" fill="#0000a4"/><rect x="245.0" y="336.5" width="46.6" height="8.2" fill="#0000ad"/><rect x="291.2" y="336.5" width="29.2" height="8.2" fill="#0000b6"/><rect x="320.2" y="336.5" width="23.4" height="8.2" fill="#0000bf"/><rect x="343.3" y="336.5" width="17.7" height="8.2" fill="#0000c8"/><rect x="360.7" y="336.5" width="11.9" height="8.2" fill="#0000d1"/><rect x="372.2" y="336.5" width="17.7" height="8.2" fill="#0000da"/><rect x="389.6" y="336.5" width="11.9" height="8.2" fill="#0000e3"/><rect x="401.2" y="336.5" width="6.1" height="8.2" fill="#0000ec"/><rect x="406.9" y="336.5" width="11.9" height="8.2" fill="#0000f5"/><rect x="418.5" y="336.5" width="6.1" height="8.2" fill="#0000fe"/><rect x="424.3" y="336.5" width="6.1" height="8.2" fill="#0000ff"/><rect x="430.1" y="336.5" width="11.9" height="8.2" fill="#0000ff"/><rect x="441.7" y="336.5" width="6.1" height="8.2" fill="#0010ff"/><rect x="447.4" y="336.5" width="6.1" height="8.2" fill="#0018ff"/><rect x="453.2" y="336.5" width="6.1" height="8.2" fill="#0020ff"/><rect x="459.0" y="336.5" width="6.1" height="8.2" fill="#0028ff"/><rect x="464.8" y="336.5" width="6.1" height="8.2" fill="#0038ff"/><rect x="470.6" y="336.5" width="6.1" height="8.2" fill="#0048ff"/><rect x="476.4" y="336.5" width="6.1" height="8.2" fill="#0058ff"/><rect x="482.2" y="336.5" width="6.1" height="8.2" fill="#0070ff"/><rect x="487.9" y="336.5" width="6.1" height="8.2" fill="#0080ff"/><rect x="493.7" y="336.5" width="6.1" height="8.2" fill="#0097ff"/><rect x="499.5" y="336.5" width="6.1" height="8.2" fill="#00a7ff"/><rect x="505.3" y="336.5" width="6.1" height="8.2" fill="#0080ff"/><rect x="511.1" y="336.5" width="6.1" height="8.2" fill="#0070ff"/><rect x="516.9" y="336.5" width="6.1" height="8.2" fill="#0068ff"/><rect x="522.6" y="336.5" width="6.1" height="8.2" fill="#0060ff"/><rect x="528.4" y="336.5" width="6.1" height="8.2" fill="#0058ff"/><rect x="534.2" y="336.5" width="11.9" height="8.2" fill="#0050ff"/><rect x="545.8" y="336.5" width="29.2" height="8.2" fill="#0048ff"/><rect x="574.7" y="336.5" width="11.9" height="8.2" fill="#0040ff"/><rect x="586.3" y="336.5" width="11.9" height="8.2" fill="#0038ff"/><rect x="597.9" y="336.5" width="11.9" height="8.2" fill="#0030ff"/><rect x="609.4" y="336.5" width="6.1" height="8.2" fill="#0028ff"/><rect x="615.2" y="336.5" width="6.1" height="8.2" fill="#0020ff"/><rect x="621.0" y="336.5" width="11.9" height="8.2" fill="#0018ff"/><rect x="632.6" y="336.5" width="6.1" height="8.2" fill="#0010ff"/><rect x="638.3" y="336.5" width="6.1" height="8.2" fill="#0038ff"/><rect x="644.1" y="336.5" width="6.1" height="8.2" fill="#effe08"/><rect x="649.9" y="336.5" width="6.1" height="8.2" fill="#ff3f00"/><rect x="655.7" y="336.5" width="6.1" height="8.2" fill="#ff6b00"/><rect x="661.5" y="336.5" width="6.1" height="8.2" fill="#ff9000"/><rect x="667.3" y="336.5" width="6.1" height="8.2" fill="#ffa600"/><rect x="673.1" y="336.5" width="6.1" height="8.2" fill="#ffad00"/><rect x="678.8" y="336.5" width="6.1" height="8.2" fill="#ffa600"/><rect x="684.6" y="336.5" width="6.1" height="8.2" fill="#ff9000"/><rect x="690.4" y="336.5" width="6.1" height="8.2" fill="#ff6b00"/><rect x="696.2" y="336.5" width="6.1" height="8.2" fill="#ff3f00"/><rect x="702.0" y="336.5" width="6.1" height="8.2" fill="#effe08"/><rect x="707.8" y="336.5" width="6.1" height="8.2" fill="#0038ff"/><rect x="713.6" y="336.5" width="6.1" height="8.2" fill="#0010ff"/><rect x="719.3" y="336.5" width="11.9" height="8.2" fill="#0018ff"/><rect x="730.9" y="336.5" width="6.1" height="8.2" fill="#0020ff"/><rect x="736.7" y="336.5" width="6.1" height="8.2" fill="#0028ff"/><rect x="742.5" y="336.5" width="11.9" height="8.2" fill="#0030ff"/><rect x="754.0" y="336.5" width="11.9" height="8.2" fill="#0038ff"/><rect x="765.6" y="336.5" width="11.9" height="8.2" fill="#0040ff"/><rect x="777.2" y="336.5" width="29.2" height="8.2" fill="#0048ff"/><rect x="806.1" y="336.5" width="11.9" height="8.2" fill="#0050ff"/><rect x="817.7" y="336.5" width="6.1" height="8.2" fill="#0058ff"/><rect x="823.5" y="336.5" width="6.1" height="8.2" fill="#0060ff"/><rect x="829.3" y="336.5" width="6.1" height="8.2" fill="#0068ff"/><rect x="835.0" y="336.5" width="6.1" height="8.2" fill="#0070ff"/><rect x="840.8" y="336.5" width="6.1" height="8.2" fill="#0080ff"/><rect x="846.6" y="336.5" width="6.1" height="8.2" fill="#00a7ff"/><rect x="852.4" y="336.5" width="6.1" height="8.2" fill="#0097ff"/><rect x="858.2" y="336.5" width="6.1" height="8.2" fill="#0080ff"/><rect x="864.0" y="336.5" width="6.1" height="8.2" fill="#0070ff"/><rect x="869.7" y="336.5" width="6.1" height="8.2" fill="#0058ff"/><rect x="875.5" y="336.5" width="6.1" height="8.2" fill="#0048ff"/><rect x="881.3" y="336.5" width="6.1" height="8.2" fill="#0038ff"/><rect x="887.1" y="336.5" width="6.1" height="8.2" fill="#0028ff"/><rect x="892.9" y="336.5" width="6.1" height="8.2" fill="#0020ff"/><rect x="898.7" y="336.5" width="6.1" height="8.2" fill="#0018ff"/><rect x="904.5" y="336.5" width="6.1" height="8.2" fill="#0010ff"/><rect x="910.2" y="336.5" width="11.9" height="8.2" fill="#0000ff"/><rect x="921.8" y="336.5" width="6.1" height="8.2" fill="#0000ff"/><rect x="927.6" y="336.5" width="6.1" height="8.2" fill="#0000fe"/><rect x="933.4" y="336.5" width="11.9" height="8.2" fill="#0000f5"/><rect x="945.0" y="336.5" width="6.1" height="8.2" fill="#0000ec"/><rect x="950.7" y="336.5" width="11.9" height="8.2" fill="#0000e3"/><rect x="962.3" y="336.5" width="17.7" height="8.2" fill="#0000da"/><rect x="979.7" y="336.5" width="11.9" height="8.2" fill="#0000d1"/><rect x="991.2" y="336.5" width="17.7" height="8.2" fill="#0000c8"/><rect x="1008.6" y="336.5" width="23.4" height="8.2" fill="#0000bf"/><rect x="1031.7" y="336.5" width="29.2" height="8.2" fill="#0000b6"/><rect x="1060.7" y="336.5" width="46.6" height="8.2" fill="#0000ad"/><rect x="1106.9" y="336.5" width="75.5" height="8.2" fill="#0000a4"/><rect x="1182.1" y="336.5" width="14.8" height="8.2" fill="#00009b"/><rect x="155.3" y="344.3" width="14.8" height="8.2" fill="#00009b"/><rect x="169.8" y="344.3" width="75.5" height="8.2" fill="#0000a4"/><rect x="245.0" y="344.3" width="46.6" height="8.2" fill="#0000ad"/><rect x="291.2" y="344.3" width="29.2" height="8.2" fill="#0000b6"/><rect x="320.2" y="344.3" width="23.4" height="8.2" fill="#0000bf"/><rect x="343.3" y="344.3" width="17.7" height="8.2" fill="#0000c8"/><rect x="360.7" y="344.3" width="17.7" height="8.2" fill="#0000d1"/><rect x="378.0" y="344.3" width="11.9" height="8.2" fill="#0000da"/><rect x="389.6" y="344.3" width="11.9" height="8.2" fill="#0000e3"/><rect x="401.2" y="344.3" width="6.1" height="8.2" fill="#0000ec"/><rect x="406.9" y="344.3" width="11.9" height="8.2" fill="#0000f5"/><rect x="418.5" y="344.3" width="6.1" height="8.2" fill="#0000fe"/><rect x="424.3" y="344.3" width="11.9" height="8.2" fill="#0000ff"/><rect x="435.9" y="344.3" width="6.1" height="8.2" fill="#0000ff"/><rect x="441.7" y="344.3" width="6.1" height="8.2" fill="#0008ff"/><rect x="447.4" y="344.3" width="6.1" height="8.2" fill="#0010ff"/><rect x="453.2" y="344.3" width="6.1" height="8.2" fill="#0020ff"/><rect x="459.0" y="344.3" width="6.1" height="8.2" fill="#0028ff"/><rect x="464.8" y="344.3" width="6.1" height="8.2" fill="#0038ff"/><rect x="470.6" y="344.3" width="6.1" height="8.2" fill="#0040ff"/><rect x="476.4" y="344.3" width="6.1" height="8.2" fill="#0050ff"/><rect x="482.2" y="344.3" width="6.1" height="8.2" fill="#0060ff"/><rect x="487.9" y="344.3" width="6.1" height="8.2" fill="#0070ff"/><rect x="493.7" y="344.3" width="6.1" height="8.2" fill="#0080ff"/><rect x="499.5" y="344.3" width="6.1" height="8.2" fill="#0087ff"/><rect x="505.3" y="344.3" width="11.9" height="8.2" fill="#0068ff"/><rect x="516.9" y="344.3" width="6.1" height="8.2" fill="#0060ff"/><rect x="522.6" y="344.3" width="6.1" height="8.2" fill="#0058ff"/><rect x="528.4" y="344.3" width="11.9" height="8.2" fill="#0050ff"/><rect x="540.0" y="344.3" width="29.2" height="8.2" fill="#0048ff"/><rect x="568.9" y="344.3" width="17.7" height="8.2" fill="#0040ff"/><rect x="586.3" y="344.3" width="11.9" height="8.2" fill="#0038ff"/><rect x="597.9" y="344.3" width="6.1" height="8.2" fill="#0030ff"/><rect x="603.6" y="344.3" width="11.9" height="8.2" fill="#0028ff"/><rect x="615.2" y="344.3" width="6.1" height="8.2" fill="#0020ff"/><rect x="621.0" y="344.3" width="11.9" height="8.2" fill="#0018ff"/><rect x="632.6" y="344.3" width="6.1" height="8.2" fill="#0010ff"/><rect x="638.3" y="344.3" width="6.1" height="8.2" fill="#0038ff"/><rect x="644.1" y="344.3" width="6.1" height="8.2" fill="#e9ff0e"/><rect x="649.9" y="344.3" width="6.1" height="8.2" fill="#ff7200"/><rect x="655.7" y="344.3" width="6.1" height="8.2" fill="#ffa600"/><rect x="661.5" y="344.3" width="6.1" height="8.2" fill="#ffc300"/><rect x="667.3" y="344.3" width="6.1" height="8.2" fill="#ffda00"/><rect x="673.1" y="344.3" width="6.1" height="8.2" fill="#ffe100"/><rect x="678.8" y="344.3" width="6.1" height="8.2" fill="#ffda00"/><rect x="684.6" y="344.3" width="6.1" height="8.2" fill="#ffc300"/><rect x="690.4" y="344.3" width="6.1" height="8.2" fill="#ffa600"/><rect x="696.2" y="344.3" width="6.1" height="8.2" fill="#ff7200"/><rect x="702.0" y="344.3" width="6.1" height="8.2" fill="#e9ff0e"/><rect x="707.8" y="344.3" width="6.1" height="8.2" fill="#0038ff"/><rect x="713.6" y="344.3" width="6.1" height="8.2" fill="#0010ff"/><rect x="719.3" y="344.3" width="11.9" height="8.2" fill="#0018ff"/><rect x="730.9" y="344.3" width="6.1" height="8.2" fill="#0020ff"/><rect x="736.7" y="344.3" width="11.9" height="8.2" fill="#0028ff"/><rect x="748.3" y="344.3" width="6.1" height="8.2" fill="#0030ff"/><rect x="754.0" y="344.3" width="11.9" height="8.2" fill="#0038ff"/><rect x="765.6" y="344.3" width="17.7" height="8.2" fill="#0040ff"/><rect x="783.0" y="344.3" width="29.2" height="8.2" fill="#0048ff"/><rect x="811.9" y="344.3" width="11.9" height="8.2" fill="#0050ff"/><rect x="823.5" y="344.3" width="6.1" height="8.2" fill="#0058ff"/><rect x="829.3" y="344.3" width="6.1" height="8.2" fill="#0060ff"/><rect x="835.0" y="344.3" width="11.9" height="8.2" fill="#0068ff"/><rect x="846.6" y="344.3" width="6.1" height="8.2" fill="#0087ff"/><rect x="852.4" y="344.3" width="6.1" height="8.2" fill="#0080ff"/><rect x="858.2" y="344.3" width="6.1" height="8.2" fill="#0070ff"/><rect x="864.0" y="344.3" width="6.1" height="8.2" fill="#0060ff"/><rect x="869.7" y="344.3" width="6.1" height="8.2" fill="#0050ff"/><rect x="875.5" y="344.3" width="6.1" height="8.2" fill="#0040ff"/><rect x="881.3" y="344.3" width="6.1" height="8.2" fill="#0038ff"/><rect x="887.1" y="344.3" width="6.1" height="8.2" fill="#0028ff"/><rect x="892.9" y="344.3" width="6.1" height="8.2" fill="#0020ff"/><rect x="898.7" y="344.3" width="6.1" height="8.2" fill="#0010ff"/><rect x="904.5" y="344.3" width="6.1" height="8.2" fill="#0008ff"/><rect x="910.2" y="344.3" width="6.1" height="8.2" fill="#0000ff"/><rect x="916.0" y="344.3" width="11.9" height="8.2" fill="#0000ff"/><rect x="927.6" y="344.3" width="6.1" height="8.2" fill="#0000fe"/><rect x="933.4" y="344.3" width="11.9" height="8.2" fill="#0000f5"/><rect x="945.0" y="344.3" width="6.1" height="8.2" fill="#0000ec"/><rect x="950.7" y="344.3" width="11.9" height="8.2" fill="#0000e3"/><rect x="962.3" y="344.3" width="11.9" height="8.2" fill="#0000da"/><rect x="973.9" y="344.3" width="17.7" height="8.2" fill="#0000d1"/><rect x="991.2" y="344.3" width="17.7" height="8.2" fill="#0000c8"/><rect x="1008.6" y="344.3" width="23.4" height="8.2" fill="#0000bf"/><rect x="1031.7" y="344.3" width="29.2" height="8.2" fill="#0000b6"/><rect x="1060.7" y="344.3" width="46.6" height="8.2" fill="#0000ad"/><rect x="1106.9" y="344.3" width="75.5" height="8.2" fill="#0000a4"/><rect x="1182.1" y="344.3" width="14.8" height="8.2" fill="#00009b"/><rect x="155.3" y="352.2" width="14.8" height="8.2" fill="#00009b"/><rect x="169.8" y="352.2" width="75.5" height="8.2" fill="#0000a4"/><rect x="245.0" y="352.2" width="46.6" height="8.2" fill="#0000ad"/><rect x="291.2" y="352.2" width="29.2" height="8.2" fill="#0000b6"/><rect x="320.2" y="352.2" width="23.4" height="8.2" fill="#0000bf"/><rect x="343.3" y="352.2" width="17.7" height="8.2" fill="#0000c8"/><rect x="360.7" y="352.2" width="17.7" height="8.2" fill="#0000d1"/><rect x="378.0" y="352.2" width="11.9" height="8.2" fill="#0000da"/><rect x="389.6" y="352.2" width="11.9" height="8.2" fill="#0000e3"/><rect x="401.2" y="352.2" width="11.9" height="8.2" fill="#0000ec"/><rect x="412.7" y="352.2" width="6.1" height="8.2" fill="#0000f5"/><rect x="418.5" y="352.2" width="6.1" height="8.2" fill="#0000fe"/><rect x="424.3" y="352.2" width="11.9" height="8.2" fill="#0000ff"/><rect x="435.9" y="352.2" width="6.1" height="8.2" fill="#0000ff"/><rect x="441.7" y="352.2" width="6.1" height="8.2" fill="#0008ff"/><rect x="447.4" y="352.2" width="6.1" height="8.2" fill="#0010ff"/><rect x="453.2" y="352.2" width="6.1" height="8.2" fill="#0018ff"/><rect x="459.0" y="352.2" width="6.1" height="8.2" fill="#0028ff"/><rect x="464.8" y="352.2" width="6.1" height="8.2" fill="#0030ff"/><rect x="470.6" y="352.2" width="6.1" height="8.2" fill="#0038ff"/><rect x="476.4" y="352.2" width="6.1" height="8.2" fill="#0048ff"/><rect x="482.2" y="352.2" width="6.1" height="8.2" fill="#0058ff"/><rect x="487.9" y="352.2" width="6.1" height="8.2" fill="#0060ff"/><rect x="493.7" y="352.2" width="6.1" height="8.2" fill="#0070ff"/><rect x="499.5" y="352.2" width="6.1" height="8.2" fill="#0078ff"/><rect x="505.3" y="352.2" width="11.9" height="8.2" fill="#0058ff"/><rect x="516.9" y="352.2" width="11.9" height="8.2" fill="#0050ff"/><rect x="528.4" y="352.2" width="23.4" height="8.2" fill="#0048ff"/><rect x="551.6" y="352.2" width="29.2" height="8.2" fill="#0040ff"/><rect x="580.5" y="352.2" width="11.9" height="8.2" fill="#0038ff"/><rect x="592.1" y="352.2" width="11.9" height="8.2" fill="#0030ff"/><rect x="603.6" y="352.2" width="6.1" height="8.2" fill="#0028ff"/><rect x="609.4" y="352.2" width="11.9" height="8.2" fill="#0020ff"/><rect x="621.0" y="352.2" width="11.9" height="8.2" fill="#0018ff"/><rect x="632.6" y="352.2" width="6.1" height="8.2" fill="#0010ff"/><rect x="638.3" y="352.2" width="6.1" height="8.2" fill="#0038ff"/><rect x="644.1" y="352.2" width="6.1" height="8.2" fill="#dcff1b"/><rect x="649.9" y="352.2" width="6.1" height="8.2" fill="#ff9e00"/><rect x="655.7" y="352.2" width="6.1" height="8.2" fill="#ffd200"/><rect x="661.5" y="352.2" width="6.1" height="8.2" fill="#f5f701"/><rect x="667.3" y="352.2" width="6.1" height="8.2" fill="#e2ff15"/><rect x="673.1" y="352.2" width="6.1" height="8.2" fill="#dcff1b"/><rect x="678.8" y="352.2" width="6.1" height="8.2" fill="#e2ff15"/><rect x="684.6" y="352.2" width="6.1" height="8.2" fill="#f5f701"/><rect x="690.4" y="352.2" width="6.1" height="8.2" fill="#ffd200"/><rect x="696.2" y="352.2" width="6.1" height="8.2" fill="#ff9e00"/><rect x="702.0" y="352.2" width="6.1" height="8.2" fill="#dcff1b"/><rect x="707.8" y="352.2" width="6.1" height="8.2" fill="#0038ff"/><rect x="713.6" y="352.2" width="6.1" height="8.2" fill="#0010ff"/><rect x="719.3" y="352.2" width="11.9" height="8.2" fill="#0018ff"/><rect x="730.9" y="352.2" width="11.9" height="8.2" fill="#0020ff"/><rect x="742.5" y="352.2" width="6.1" height="8.2" fill="#0028ff"/><rect x="748.3" y="352.2" width="11.9" height="8.2" fill="#0030ff"/><rect x="759.8" y="352.2" width="11.9" height="8.2" fill="#0038ff"/><rect x="771.4" y="352.2" width="29.2" height="8.2" fill="#0040ff"/><rect x="800.3" y="352.2" width="23.4" height="8.2" fill="#0048ff"/><rect x="823.5" y="352.2" width="11.9" height="8.2" fill="#0050ff"/><rect x="835.0" y="352.2" width="11.9" height="8.2" fill="#0058ff"/><rect x="846.6" y="352.2" width="6.1" height="8.2" fill="#0078ff"/><rect x="852.4" y="352.2" width="6.1" height="8.2" fill="#0070ff"/><rect x="858.2" y="352.2" width="6.1" height="8.2" fill="#0060ff"/><rect x="864.0" y="352.2" width="6.1" height="8.2" fill="#0058ff"/><rect x="869.7" y="352.2" width="6.1" height="8.2" fill="#0048ff"/><rect x="875.5" y="352.2" width="6.1" height="8.2" fill="#0038ff"/><rect x="881.3" y="352.2" width="6.1" height="8.2" fill="#0030ff"/><rect x="887.1" y="352.2" width="6.1" height="8.2" fill="#0028ff"/><rect x="892.9" y="352.2" width="6.1" height="8.2" fill="#0018ff"/><rect x="898.7" y="352.2" width="6.1" height="8.2" fill="#0010ff"/><rect x="904.5" y="352.2" width="6.1" height="8.2" fill="#0008ff"/><rect x="910.2" y="352.2" width="6.1" height="8.2" fill="#0000ff"/><rect x="916.0" y="352.2" width="11.9" height="8.2" fill="#0000ff"/><rect x="927.6" y="352.2" width="6.1" height="8.2" fill="#0000fe"/><rect x="933.4" y="352.2" width="6.1" height="8.2" fill="#0000f5"/><rect x="939.2" y="352.2" width="11.9" height="8.2" fill="#0000ec"/><rect x="950.7" y="352.2" width="11.9" height="8.2" fill="#0000e3"/><rect x="962.3" y="352.2" width="11.9" height="8.2" fill="#0000da"/><rect x="973.9" y="352.2" width="17.7" height="8.2" fill="#0000d1"/><rect x="991.2" y="352.2" width="17.7" height="8.2" fill="#0000c8"/><rect x="1008.6" y="352.2" width="23.4" height="8.2" fill="#0000bf"/><rect x="1031.7" y="352.2" width="29.2" height="8.2" fill="#0000b6"/><rect x="1060.7" y="352.2" width="46.6" height="8.2" fill="#0000ad"/><rect x="1106.9" y="352.2" width="75.5" height="8.2" fill="#0000a4"/><rect x="1182.1" y="352.2" width="14.8" height="8.2" fill="#00009b"/><rect x="155.3" y="360.0" width="14.8" height="8.2" fill="#00009b"/><rect x="169.8" y="360.0" width="75.5" height="8.2" fill="#0000a4"/><rect x="245.0" y="360.0" width="46.6" height="8.2" fill="#0000ad"/><rect x="291.2" y="360.0" width="29.2" height="8.2" fill="#0000b6"/><rect x="320.2" y="360.0" width="23.4" height="8.2" fill="#0000bf"/><rect x="343.3" y="360.0" width="17.7" height="8.2" fill="#0000c8"/><rect x="360.7" y="360.0" width="17.7" height="8.2" fill="#0000d1"/><rect x="378.0" y="360.0" width="11.9" height="8.2" fill="#0000da"/><rect x="389.6" y="360.0" width="11.9" height="8.2" fill="#0000e3"/><rect x="401.2" y="360.0" width="11.9" height="8.2" fill="#0000ec"/><rect x="412.7" y="360.0" width="6.1" height="8.2" fill="#0000f5"/><rect x="418.5" y="360.0" width="11.9" height="8.2" fill="#0000fe"/><rect x="430.1" y="360.0" width="6.1" height="8.2" fill="#0000ff"/><rect x="435.9" y="360.0" width="6.1" height="8.2" fill="#0000ff"/><rect x="441.7" y="360.0" width="6.1" height="8.2" fill="#0008ff"/><rect x="447.4" y="360.0" width="6.1" height="8.2" fill="#0010ff"/><rect x="453.2" y="360.0" width="6.1" height="8.2" fill="#0018ff"/><rect x="459.0" y="360.0" width="6.1" height="8.2" fill="#0020ff"/><rect x="464.8" y="360.0" width="6.1" height="8.2" fill="#0028ff"/><rect x="470.6" y="360.0" width="6.1" height="8.2" fill="#0038ff"/><rect x="476.4" y="360.0" width="6.1" height="8.2" fill="#0040ff"/><rect x="482.2" y="360.0" width="6.1" height="8.2" fill="#0048ff"/><rect x="487.9" y="360.0" width="6.1" height="8.2" fill="#0058ff"/><rect x="493.7" y="360.0" width="6.1" height="8.2" fill="#0060ff"/><rect x="499.5" y="360.0" width="6.1" height="8.2" fill="#0068ff"/><rect x="505.3" y="360.0" width="23.4" height="8.2" fill="#0048ff"/><rect x="528.4" y="360.0" width="40.8" height="8.2" fill="#0040ff"/><rect x="568.9" y="360.0" width="17.7" height="8.2" fill="#0038ff"/><rect x="586.3" y="360.0" width="11.9" height="8.2" fill="#0030ff"/><rect x="597.9" y="360.0" width="11.9" height="8.2" fill="#0028ff"/><rect x="609.4" y="360.0" width="6.1" height="8.2" fill="#0020ff"/><rect x="615.2" y="360.0" width="11.9" height="8.2" fill="#0018ff"/><rect x="626.8" y="360.0" width="11.9" height="8.2" fill="#0010ff"/><rect x="638.3" y="360.0" width="6.1" height="8.2" fill="#0087ff"/><rect x="644.1" y="360.0" width="6.1" height="8.2" fill="#cfff28"/><rect x="649.9" y="360.0" width="6.1" height="8.2" fill="#ffd200"/><rect x="655.7" y="360.0" width="6.1" height="8.2" fill="#e9ff0e"/><rect x="661.5" y="360.0" width="6.1" height="8.2" fill="#c9ff2e"/><rect x="667.3" y="360.0" width="6.1" height="8.2" fill="#b5ff42"/><rect x="673.1" y="360.0" width="6.1" height="8.2" fill="#afff48"/><rect x="678.8" y="360.0" width="6.1" height="8.2" fill="#b5ff42"/><rect x="684.6" y="360.0" width="6.1" height="8.2" fill="#c9ff2e"/><rect x="690.4" y="360.0" width="6.1" height="8.2" fill="#e9ff0e"/><rect x="696.2" y="360.0" width="6.1" height="8.2" fill="#ffd200"/><rect x="702.0" y="360.0" width="6.1" height="8.2" fill="#cfff28"/><rect x="707.8" y="360.0" width="6.1" height="8.2" fill="#0087ff"/><rect x="713.6" y="360.0" width="11.9" height="8.2" fill="#0010ff"/><rect x="725.1" y="360.0" width="11.9" height="8.2" fill="#0018ff"/><rect x="736.7" y="360.0" width="6.1" height="8.2" fill="#0020ff"/><rect x="742.5" y="360.0" width="11.9" height="8.2" fill="#0028ff"/><rect x="754.0" y="360.0" width="11.9" height="8.2" fill="#0030ff"/><rect x="765.6" y="360.0" width="17.7" height="8.2" fill="#0038ff"/><rect x="783.0" y="360.0" width="40.8" height="8.2" fill="#0040ff"/><rect x="823.5" y="360.0" width="23.4" height="8.2" fill="#0048ff"/><rect x="846.6" y="360.0" width="6.1" height="8.2" fill="#0068ff"/><rect x="852.4" y="360.0" width="6.1" height="8.2" fill="#0060ff"/><rect x="858.2" y="360.0" width="6.1" height="8.2" fill="#0058ff"/><rect x="864.0" y="360.0" width="6.1" height="8.2" fill="#0048ff"/><rect x="869.7" y="360.0" width="6.1" height="8.2" fill="#0040ff"/><rect x="875.5" y="360.0" width="6.1" height="8.2" fill="#0038ff"/><rect x="881.3" y="360.0" width="6.1" height="8.2" fill="#0028ff"/><rect x="887.1" y="360.0" width="6.1" height="8.2" fill="#0020ff"/><rect x="892.9" y="360.0" width="6.1" height="8.2" fill="#0018ff"/><rect x="898.7" y="360.0" width="6.1" height="8.2" fill="#0010ff"/><rect x="904.5" y="360.0" width="6.1" height="8.2" fill="#0008ff"/><rect x="910.2" y="360.0" width="6.1" height="8.2" fill="#0000ff"/><rect x="916.0" y="360.0" width="6.1" height="8.2" fill="#0000ff"/><rect x="921.8" y="360.0" width="11.9" height="8.2" fill="#0000fe"/><rect x="933.4" y="360.0" width="6.1" height="8.2" fill="#0000f5"/><rect x="939.2" y="360.0" width="11.9" height="8.2" fill="#0000ec"/><rect x="950.7" y="360.0" width="11.9" height="8.2" fill="#0000e3"/><rect x="962.3" y="360.0" width="11.9" height="8.2" fill="#0000da"/><rect x="973.9" y="360.0" width="17.7" height="8.2" fill="#0000d1"/><rect x="991.2" y="360.0" width="17.7" height="8.2" fill="#0000c8"/><rect x="1008.6" y="360.0" width="23.4" height="8.2" fill="#0000bf"/><rect x="1031.7" y="360.0" width="29.2" height="8.2" fill="#0000b6"/><rect x="1060.7" y="360.0" width="46.6" height="8.2" fill="#0000ad"/><rect x="1106.9" y="360.0" width="75.5" height="8.2" fill="#0000a4"/><rect x="1182.1" y="360.0" width="14.8" height="8.2" fill="#00009b"/><rect x="155.3" y="367.9" width="37.9" height="8.2" fill="#00009b"/><rect x="192.9" y="367.9" width="52.4" height="8.2" fill="#0000a4"/><rect x="245.0" y="367.9" width="35.0" height="8.2" fill="#0000ad"/><rect x="279.7" y="367.9" width="23.4" height="8.2" fill="#0000b6"/><rect x="302.8" y="367.9" width="23.4" height="8.2" fill="#0000bf"/><rect x="326.0" y="367.9" width="17.7" height="8.2" fill="#0000c8"/><rect x="343.3" y="367.9" width="11.9" height="8.2" fill="#0000d1"/><rect x="354.9" y="367.9" width="17.7" height="8.2" fill="#0000da"/><rect x="372.2" y="367.9" width="11.9" height="8.2" fill="#0000e3"/><rect x="383.8" y="367.9" width="11.9" height="8.2" fill="#0000ec"/><rect x="395.4" y="367.9" width="6.1" height="8.2" fill="#0000f5"/><rect x="401.2" y="367.9" width="11.9" height="8.2" fill="#0000fe"/><rect x="412.7" y="367.9" width="11.9" height="8.2" fill="#0000ff"/><rect x="424.3" y="367.9" width="6.1" height="8.2" fill="#0000ff"/><rect x="430.1" y="367.9" width="6.1" height="8.2" fill="#0008ff"/><rect x="435.9" y="367.9" width="6.1" height="8.2" fill="#0010ff"/><rect x="441.7" y="367.9" width="11.9" height="8.2" fill="#0018ff"/><rect x="453.2" y="367.9" width="6.1" height="8.2" fill="#0020ff"/><rect x="459.0" y="367.9" width="6.1" height="8.2" fill="#0028ff"/><rect x="464.8" y="367.9" width="6.1" height="8.2" fill="#0030ff"/><rect x="470.6" y="367.9" width="6.1" height="8.2" fill="#0038ff"/><rect x="476.4" y="367.9" width="6.1" height="8.2" fill="#0040ff"/><rect x="482.2" y="367.9" width="6.1" height="8.2" fill="#0048ff"/><rect x="487.9" y="367.9" width="6.1" height="8.2" fill="#0050ff"/><rect x="493.7" y="367.9" width="11.9" height="8.2" fill="#0058ff"/><rect x="505.3" y="367.9" width="29.2" height="8.2" fill="#0048ff"/><rect x="534.2" y="367.9" width="17.7" height="8.2" fill="#0040ff"/><rect x="551.6" y="367.9" width="23.4" height="8.2" fill="#0038ff"/><rect x="574.7" y="367.9" width="11.9" height="8.2" fill="#0030ff"/><rect x="586.3" y="367.9" width="11.9" height="8.2" fill="#0028ff"/><rect x="597.9" y="367.9" width="17.7" height="8.2" fill="#0020ff"/><rect x="615.2" y="367.9" width="11.9" height="8.2" fill="#0018ff"/><rect x="626.8" y="367.9" width="6.1" height="8.2" fill="#0020ff"/><rect x="632.6" y="367.9" width="6.1" height="8.2" fill="#0040ff"/><rect x="638.3" y="367.9" width="6.1" height="8.2" fill="#00b7ff"/><rect x="644.1" y="367.9" width="6.1" height="8.2" fill="#fcf000"/><rect x="649.9" y="367.9" width="6.1" height="8.2" fill="#e2ff15"/><rect x="655.7" y="367.9" width="6.1" height="8.2" fill="#b5ff42"/><rect x="661.5" y="367.9" width="6.1" height="8.2" fill="#8fff68"/><rect x="667.3" y="367.9" width="6.1" height="8.2" fill="#7bff7b"/><rect x="673.1" y="367.9" width="6.1" height="8.2" fill="#75ff82"/><rect x="678.8" y="367.9" width="6.1" height="8.2" fill="#7bff7b"/><rect x="684.6" y="367.9" width="6.1" height="8.2" fill="#8fff68"/><rect x="690.4" y="367.9" width="6.1" height="8.2" fill="#b5ff42"/><rect x="696.2" y="367.9" width="6.1" height="8.2" fill="#e2ff15"/><rect x="702.0" y="367.9" width="6.1" height="8.2" fill="#fcf000"/><rect x="707.8" y="367.9" width="6.1" height="8.2" fill="#00b7ff"/><rect x="713.6" y="367.9" width="6.1" height="8.2" fill="#0040ff"/><rect x="719.3" y="367.9" width="6.1" height="8.2" fill="#0020ff"/><rect x="725.1" y="367.9" width="11.9" height="8.2" fill="#0018ff"/><rect x="736.7" y="367.9" width="17.7" height="8.2" fill="#0020ff"/><rect x="754.0" y="367.9" width="11.9" height="8.2" fill="#0028ff"/><rect x="765.6" y="367.9" width="11.9" height="8.2" fill="#0030ff"/><rect x="777.2" y="367.9" width="23.4" height="8.2" fill="#0038ff"/><rect x="800.3" y="367.9" width="17.7" height="8.2" fill="#0040ff"/><rect x="817.7" y="367.9" width="29.2" height="8.2" fill="#0048ff"/><rect x="846.6" y="367.9" width="11.9" height="8.2" fill="#0058ff"/><rect x="858.2" y="367.9" width="6.1" height="8.2" fill="#0050ff"/><rect x="864.0" y="367.9" width="6.1" height="8.2" fill="#0048ff"/><rect x="869.7" y="367.9" width="6.1" height="8.2" fill="#0040ff"/><rect x="875.5" y="367.9" width="6.1" height="8.2" fill="#0038ff"/><rect x="881.3" y="367.9" width="6.1" height="8.2" fill="#0030ff"/><rect x="887.1" y="367.9" width="6.1" height="8.2" fill="#0028ff"/><rect x="892.9" y="367.9" width="6.1" height="8.2" fill="#0020ff"/><rect x="898.7" y="367.9" width="11.9" height="8.2" fill="#0018ff"/><rect x="910.2" y="367.9" width="6.1" height="8.2" fill="#0010ff"/><rect x="916.0" y="367.9" width="6.1" height="8.2" fill="#0008ff"/><rect x="921.8" y="367.9" width="6.1" height="8.2" fill="#0000ff"/><rect x="927.6" y="367.9" width="11.9" height="8.2" fill="#0000ff"/><rect x="939.2" y="367.9" width="11.9" height="8.2" fill="#0000fe"/><rect x="950.7" y="367.9" width="6.1" height="8.2" fill="#0000f5"/><rect x="956.5" y="367.9" width="11.9" height="8.2" fill="#0000ec"/><rect x="968.1" y="367.9" width="11.9" height="8.2" fill="#0000e3"/><rect x="979.7" y="367.9" width="17.7" height="8.2" fill="#0000da"/><rect x="997.0" y="367.9" width="11.9" height="8.2" fill="#0000d1"/><rect x="1008.6" y="367.9" width="17.7" height="8.2" fill="#0000c8"/><rect x="1025.9" y="367.9" width="23.4" height="8.2" fill="#0000bf"/><rect x="1049.1" y="367.9" width="23.4" height="8.2" fill="#0000b6"/><rect x="1072.2" y="367.9" width="35.0" height="8.2" fill="#0000ad"/><rect x="1106.9" y="367.9" width="52.4" height="8.2" fill="#0000a4"/><rect x="1159.0" y="367.9" width="37.9" height="8.2" fill="#00009b"/><rect x="155.3" y="375.8" width="55.3" height="8.2" fill="#00009b"/><rect x="210.3" y="375.8" width="35.0" height="8.2" fill="#0000a4"/><rect x="245.0" y="375.8" width="29.2" height="8.2" fill="#0000ad"/><rect x="273.9" y="375.8" width="17.7" height="8.2" fill="#0000b6"/><rect x="291.2" y="375.8" width="17.7" height="8.2" fill="#0000bf"/><rect x="308.6" y="375.8" width="17.7" height="8.2" fill="#0000c8"/><rect x="326.0" y="375.8" width="17.7" height="8.2" fill="#0000d1"/><rect x="343.3" y="375.8" width="11.9" height="8.2" fill="#0000da"/><rect x="354.9" y="375.8" width="11.9" height="8.2" fill="#0000e3"/><rect x="366.5" y="375.8" width="11.9" height="8.2" fill="#0000ec"/><rect x="378.0" y="375.8" width="11.9" height="8.2" fill="#0000f5"/><rect x="389.6" y="375.8" width="6.1" height="8.2" fill="#0000fe"/><rect x="395.4" y="375.8" width="11.9" height="8.2" fill="#0000ff"/><rect x="406.9" y="375.8" width="6.1" height="8.2" fill="#0000ff"/><rect x="412.7" y="375.8" width="11.9" height="8.2" fill="#0008ff"/><rect x="424.3" y="375.8" width="6.1" height="8.2" fill="#0010ff"/><rect x="430.1" y="375.8" width="11.9" height="8.2" fill="#0018ff"/><rect x="441.7" y="375.8" width="6.1" height="8.2" fill="#0020ff"/><rect x="447.4" y="375.8" width="6.1" height="8.2" fill="#0028ff"/><rect x="453.2" y="375.8" width="11.9" height="8.2" fill="#0030ff"/><rect x="464.8" y="375.8" width="6.1" height="8.2" fill="#0038ff"/><rect x="470.6" y="375.8" width="17.7" height="8.2" fill="#0040ff"/><rect x="487.9" y="375.8" width="46.6" height="8.2" fill="#0048ff"/><rect x="534.2" y="375.8" width="11.9" height="8.2" fill="#0040ff"/><rect x="545.8" y="375.8" width="17.7" height="8.2" fill="#0038ff"/><rect x="563.1" y="375.8" width="11.9" height="8.2" fill="#0030ff"/><rect x="574.7" y="375.8" width="11.9" height="8.2" fill="#0028ff"/><rect x="586.3" y="375.8" width="17.7" height="8.2" fill="#0020ff"/><rect x="603.6" y="375.8" width="23.4" height="8.2" fill="#0018ff"/><rect x="626.8" y="375.8" width="6.1" height="8.2" fill="#0028ff"/><rect x="632.6" y="375.8" width="6.1" height="8.2" fill="#0068ff"/><rect x="638.3" y="375.8" width="6.1" height="8.2" fill="#00dffc"/><rect x="644.1" y="375.8" width="6.1" height="8.2" fill="#28ffcf"/><rect x="649.9" y="375.8" width="52.4" height="8.2" fill="#2effc9"/><rect x="702.0" y="375.8" width="6.1" height="8.2" fill="#28ffcf"/><rect x="707.8" y="375.8" width="6.1" height="8.2" fill="#00dffc"/><rect x="713.6" y="375.8" width="6.1" height="8.2" fill="#0068ff"/><rect x="719.3" y="375.8" width="6.1" height="8.2" fill="#0028ff"/><rect x="725.1" y="375.8" width="23.4" height="8.2" fill="#0018ff"/><rect x="748.3" y="375.8" width="17.7" height="8.2" fill="#0020ff"/><rect x="765.6" y="375.8" width="11.9" height="8.2" fill="#0028ff"/><rect x="777.2" y="375.8" width="11.9" height="8.2" fill="#0030ff"/><rect x="788.8" y="375.8" width="17.7" height="8.2" fill="#0038ff"/><rect x="806.1" y="375.8" width="11.9" height="8.2" fill="#0040ff"/><rect x="817.7" y="375.8" width="46.6" height="8.2" fill="#0048ff"/><rect x="864.0" y="375.8" width="17.7" height="8.2" fill="#0040ff"/><rect x="881.3" y="375.8" width="6.1" height="8.2" fill="#0038ff"/><rect x="887.1" y="375.8" width="11.9" height="8.2" fill="#0030ff"/><rect x="898.7" y="375.8" width="6.1" height="8.2" fill="#0028ff"/><rect x="904.5" y="375.8" width="6.1" height="8.2" fill="#0020ff"/><rect x="910.2" y="375.8" width="11.9" height="8.2" fill="#0018ff"/><rect x="921.8" y="375.8" width="6.1" height="8.2" fill="#0010ff"/><rect x="927.6" y="375.8" width="11.9" height="8.2" fill="#0008ff"/><rect x="939.2" y="375.8" width="6.1" height="8.2" fill="#0000ff"/><rect x="945.0" y="375.8" width="11.9" height="8.2" fill="#0000ff"/><rect x="956.5" y="375.8" width="6.1" height="8.2" fill="#0000fe"/><rect x="962.3" y="375.8" width="11.9" height="8.2" fill="#0000f5"/><rect x="973.9" y="375.8" width="11.9" height="8.2" fill="#0000ec"/><rect x="985.4" y="375.8" width="11.9" height="8.2" fill="#0000e3"/><rect x="997.0" y="375.8" width="11.9" height="8.2" fill="#0000da"/><rect x="1008.6" y="375.8" width="17.7" height="8.2" fill="#0000d1"/><rect x="1025.9" y="375.8" width="17.7" height="8.2" fill="#0000c8"/><rect x="1043.3" y="375.8" width="17.7" height="8.2" fill="#0000bf"/><rect x="1060.7" y="375.8" width="17.7" height="8.2" fill="#0000b6"/><rect x="1078.0" y="375.8" width="29.2" height="8.2" fill="#0000ad"/><rect x="1106.9" y="375.8" width="35.0" height="8.2" fill="#0000a4"/><rect x="1141.6" y="375.8" width="55.3" height="8.2" fill="#00009b"/><rect x="155.3" y="383.6" width="55.3" height="8.2" fill="#00009b"/><rect x="210.3" y="383.6" width="40.8" height="8.2" fill="#0000a4"/><rect x="250.8" y="383.6" width="23.4" height="8.2" fill="#0000ad"/><rect x="273.9" y="383.6" width="23.4" height="8.2" fill="#0000b6"/><rect x="297.0" y="383.6" width="17.7" height="8.2" fill="#0000bf"/><rect x="314.4" y="383.6" width="17.7" height="8.2" fill="#0000c8"/><rect x="331.7" y="383.6" width="17.7" height="8.2" fill="#0000d1"/><rect x="349.1" y="383.6" width="11.9" height="8.2" fill="#0000da"/><rect x="360.7" y="383.6" width="11.9" height="8.2" fill="#0000e3"/><rect x="372.2" y="383.6" width="11.9" height="8.2" fill="#0000ec"/><rect x="383.8" y="383.6" width="11.9" height="8.2" fill="#0000f5"/><rect x="395.4" y="383.6" width="11.9" height="8.2" fill="#0000fe"/><rect x="406.9" y="383.6" width="6.1" height="8.2" fill="#0000ff"/><rect x="412.7" y="383.6" width="11.9" height="8.2" fill="#0000ff"/><rect x="424.3" y="383.6" width="6.1" height="8.2" fill="#0008ff"/><rect x="430.1" y="383.6" width="11.9" height="8.2" fill="#0010ff"/><rect x="441.7" y="383.6" width="6.1" height="8.2" fill="#0018ff"/><rect x="447.4" y="383.6" width="11.9" height="8.2" fill="#0020ff"/><rect x="459.0" y="383.6" width="11.9" height="8.2" fill="#0028ff"/><rect x="470.6" y="383.6" width="11.9" height="8.2" fill="#0030ff"/><rect x="482.2" y="383.6" width="58.2" height="8.2" fill="#0038ff"/><rect x="540.0" y="383.6" width="11.9" height="8.2" fill="#0030ff"/><rect x="551.6" y="383.6" width="17.7" height="8.2" fill="#0028ff"/><rect x="568.9" y="383.6" width="11.9" height="8.2" fill="#0020ff"/><rect x="580.5" y="383.6" width="23.4" height="8.2" fill="#0018ff"/><rect x="603.6" y="383.6" width="17.7" height="8.2" fill="#0010ff"/><rect x="621.0" y="383.6" width="6.1" height="8.2" fill="#0018ff"/><rect x="626.8" y="383.6" width="6.1" height="8.2" fill="#0020ff"/><rect x="632.6" y="383.6" width="6.1" height="8.2" fill="#0038ff"/><rect x="638.3" y="383.6" width="6.1" height="8.2" fill="#0068ff"/><rect x="644.1" y="383.6" width="6.1" height="8.2" fill="#00a7ff"/><rect x="649.9" y="383.6" width="6.1" height="8.2" fill="#00cfff"/><rect x="655.7" y="383.6" width="6.1" height="8.2" fill="#00d7ff"/><rect x="661.5" y="383.6" width="29.2" height="8.2" fill="#00dffc"/><rect x="690.4" y="383.6" width="6.1" height="8.2" fill="#00d7ff"/><rect x="696.2" y="383.6" width="6.1" height="8.2" fill="#00cfff"/><rect x="702.0" y="383.6" width="6.1" height="8.2" fill="#00a7ff"/><rect x="707.8" y="383.6" width="6.1" height="8.2" fill="#0068ff"/><rect x="713.6" y="383.6" width="6.1" height="8.2" fill="#0038ff"/><rect x="719.3" y="383.6" width="6.1" height="8.2" fill="#0020ff"/><rect x="725.1" y="383.6" width="6.1" height="8.2" fill="#0018ff"/><rect x="730.9" y="383.6" width="17.7" height="8.2" fill="#0010ff"/><rect x="748.3" y="383.6" width="23.4" height="8.2" fill="#0018ff"/><rect x="771.4" y="383.6" width="11.9" height="8.2" fill="#0020ff"/><rect x="783.0" y="383.6" width="17.7" height="8.2" fill="#0028ff"/><rect x="800.3" y="383.6" width="11.9" height="8.2" fill="#0030ff"/><rect x="811.9" y="383.6" width="58.1" height="8.2" fill="#0038ff"/><rect x="869.7" y="383.6" width="11.9" height="8.2" fill="#0030ff"/><rect x="881.3" y="383.6" width="11.9" height="8.2" fill="#0028ff"/><rect x="892.9" y="383.6" width="11.9" height="8.2" fill="#0020ff"/><rect x="904.5" y="383.6" width="6.1" height="8.2" fill="#0018ff"/><rect x="910.2" y="383.6" width="11.9" height="8.2" fill="#0010ff"/><rect x="921.8" y="383.6" width="6.1" height="8.2" fill="#0008ff"/><rect x="927.6" y="383.6" width="11.9" height="8.2" fill="#0000ff"/><rect x="939.2" y="383.6" width="6.1" height="8.2" fill="#0000ff"/><rect x="945.0" y="383.6" width="11.9" height="8.2" fill="#0000fe"/><rect x="956.5" y="383.6" width="11.9" height="8.2" fill="#0000f5"/><rect x="968.1" y="383.6" width="11.9" height="8.2" fill="#0000ec"/><rect x="979.7" y="383.6" width="11.9" height="8.2" fill="#0000e3"/><rect x="991.2" y="383.6" width="11.9" height="8.2" fill="#0000da"/><rect x="1002.8" y="383.6" width="17.7" height="8.2" fill="#0000d1"/><rect x="1020.2" y="383.6" width="17.7" height="8.2" fill="#0000c8"/><rect x="1037.5" y="383.6" width="17.7" height="8.2" fill="#0000bf"/><rect x="1054.9" y="383.6" width="23.4" height="8.2" fill="#0000b6"/><rect x="1078.0" y="383.6" width="23.4" height="8.2" fill="#0000ad"/><rect x="1101.1" y="383.6" width="40.8" height="8.2" fill="#0000a4"/><rect x="1141.6" y="383.6" width="55.3" height="8.2" fill="#00009b"/><rect x="155.3" y="391.5" width="61.0" height="8.2" fill="#00009b"/><rect x="216.0" y="391.5" width="35.0" height="8.2" fill="#0000a4"/><rect x="250.8" y="391.5" width="29.2" height="8.2" fill="#0000ad"/><rect x="279.7" y="391.5" width="23.4" height="8.2" fill="#0000b6"/><rect x="302.8" y="391.5" width="17.7" height="8.2" fill="#0000bf"/><rect x="320.2" y="391.5" width="17.7" height="8.2" fill="#0000c8"/><rect x="337.5" y="391.5" width="17.7" height="8.2" fill="#0000d1"/><rect x="354.9" y="391.5" width="11.9" height="8.2" fill="#0000da"/><rect x="366.5" y="391.5" width="11.9" height="8.2" fill="#0000e3"/><rect x="378.0" y="391.5" width="11.9" height="8.2" fill="#0000ec"/><rect x="389.6" y="391.5" width="11.9" height="8.2" fill="#0000f5"/><rect x="401.2" y="391.5" width="11.9" height="8.2" fill="#0000fe"/><rect x="412.7" y="391.5" width="11.9" height="8.2" fill="#0000ff"/><rect x="424.3" y="391.5" width="6.1" height="8.2" fill="#0000ff"/><rect x="430.1" y="391.5" width="11.9" height="8.2" fill="#0008ff"/><rect x="441.7" y="391.5" width="11.9" height="8.2" fill="#0010ff"/><rect x="453.2" y="391.5" width="11.9" height="8.2" fill="#0018ff"/><rect x="464.8" y="391.5" width="11.9" height="8.2" fill="#0020ff"/><rect x="476.4" y="391.5" width="17.7" height="8.2" fill="#0028ff"/><rect x="493.7" y="391.5" width="29.2" height="8.2" fill="#0030ff"/><rect x="522.6" y="391.5" width="23.4" height="8.2" fill="#0028ff"/><rect x="545.8" y="391.5" width="17.7" height="8.2" fill="#0020ff"/><rect x="563.1" y="391.5" width="17.7" height="8.2" fill="#0018ff"/><rect x="580.5" y="391.5" width="46.6" height="8.2" fill="#0010ff"/><rect x="626.8" y="391.5" width="6.1" height="8.2" fill="#0020ff"/><rect x="632.6" y="391.5" width="6.1" height="8.2" fill="#0030ff"/><rect x="638.3" y="391.5" width="6.1" height="8.2" fill="#0050ff"/><rect x="644.1" y="391.5" width="6.1" height="8.2" fill="#0070ff"/><rect x="649.9" y="391.5" width="6.1" height="8.2" fill="#0087ff"/><rect x="655.7" y="391.5" width="6.1" height="8.2" fill="#008fff"/><rect x="661.5" y="391.5" width="29.2" height="8.2" fill="#0097ff"/><rect x="690.4" y="391.5" width="6.1" height="8.2" fill="#008fff"/><rect x="696.2" y="391.5" width="6.1" height="8.2" fill="#0087ff"/><rect x="702.0" y="391.5" width="6.1" height="8.2" fill="#0070ff"/><rect x="707.8" y="391.5" width="6.1" height="8.2" fill="#0050ff"/><rect x="713.6" y="391.5" width="6.1" height="8.2" fill="#0030ff"/><rect x="719.3" y="391.5" width="6.1" height="8.2" fill="#0020ff"/><rect x="725.1" y="391.5" width="46.6" height="8.2" fill="#0010ff"/><rect x="771.4" y="391.5" width="17.7" height="8.2" fill="#0018ff"/><rect x="788.8" y="391.5" width="17.7" height="8.2" fill="#0020ff"/><rect x="806.1" y="391.5" width="23.4" height="8.2" fill="#0028ff"/><rect x="829.3" y="391.5" width="29.2" height="8.2" fill="#0030ff"/><rect x="858.2" y="391.5" width="17.7" height="8.2" fill="#0028ff"/><rect x="875.5" y="391.5" width="11.9" height="8.2" fill="#0020ff"/><rect x="887.1" y="391.5" width="11.9" height="8.2" fill="#0018ff"/><rect x="898.7" y="391.5" width="11.9" height="8.2" fill="#0010ff"/><rect x="910.2" y="391.5" width="11.9" height="8.2" fill="#0008ff"/><rect x="921.8" y="391.5" width="6.1" height="8.2" fill="#0000ff"/><rect x="927.6" y="391.5" width="11.9" height="8.2" fill="#0000ff"/><rect x="939.2" y="391.5" width="11.9" height="8.2" fill="#0000fe"/><rect x="950.7" y="391.5" width="11.9" height="8.2" fill="#0000f5"/><rect x="962.3" y="391.5" width="11.9" height="8.2" fill="#0000ec"/><rect x="973.9" y="391.5" width="11.9" height="8.2" fill="#0000e3"/><rect x="985.4" y="391.5" width="11.9" height="8.2" fill="#0000da"/><rect x="997.0" y="391.5" width="17.7" height="8.2" fill="#0000d1"/><rect x="1014.4" y="391.5" width="17.7" height="8.2" fill="#0000c8"/><rect x="1031.7" y="391.5" width="17.7" height="8.2" fill="#0000bf"/><rect x="1049.1" y="391.5" width="23.4" height="8.2" fill="#0000b6"/><rect x="1072.2" y="391.5" width="29.2" height="8.2" fill="#0000ad"/><rect x="1101.1" y="391.5" width="35.0" height="8.2" fill="#0000a4"/><rect x="1135.9" y="391.5" width="61.0" height="8.2" fill="#00009b"/><rect x="155.3" y="399.3" width="61.0" height="8.2" fill="#00009b"/><rect x="216.0" y="399.3" width="40.8" height="8.2" fill="#0000a4"/><rect x="256.5" y="399.3" width="29.2" height="8.2" fill="#0000ad"/><rect x="285.5" y="399.3" width="23.4" height="8.2" fill="#0000b6"/><rect x="308.6" y="399.3" width="17.7" height="8.2" fill="#0000bf"/><rect x="326.0" y="399.3" width="17.7" height="8.2" fill="#0000c8"/><rect x="343.3" y="399.3" width="17.7" height="8.2" fill="#0000d1"/><rect x="360.7" y="399.3" width="11.9" height="8.2" fill="#0000da"/><rect x="372.2" y="399.3" width="11.9" height="8.2" fill="#0000e3"/><rect x="383.8" y="399.3" width="17.7" height="8.2" fill="#0000ec"/><rect x="401.2" y="399.3" width="11.9" height="8.2" fill="#0000f5"/><rect x="412.7" y="399.3" width="11.9" height="8.2" fill="#0000fe"/><rect x="424.3" y="399.3" width="6.1" height="8.2" fill="#0000ff"/><rect x="430.1" y="399.3" width="11.9" height="8.2" fill="#0000ff"/><rect x="441.7" y="399.3" width="11.9" height="8.2" fill="#0008ff"/><rect x="453.2" y="399.3" width="11.9" height="8.2" fill="#0010ff"/><rect x="464.8" y="399.3" width="17.7" height="8.2" fill="#0018ff"/><rect x="482.2" y="399.3" width="58.2" height="8.2" fill="#0020ff"/><rect x="540.0" y="399.3" width="23.4" height="8.2" fill="#0018ff"/><rect x="563.1" y="399.3" width="17.7" height="8.2" fill="#0010ff"/><rect x="580.5" y="399.3" width="40.8" height="8.2" fill="#0008ff"/><rect x="621.0" y="399.3" width="6.1" height="8.2" fill="#0010ff"/><rect x="626.8" y="399.3" width="6.1" height="8.2" fill="#0018ff"/><rect x="632.6" y="399.3" width="6.1" height="8.2" fill="#0028ff"/><rect x="638.3" y="399.3" width="6.1" height="8.2" fill="#0040ff"/><rect x="644.1" y="399.3" width="6.1" height="8.2" fill="#0058ff"/><rect x="649.9" y="399.3" width="11.9" height="8.2" fill="#0068ff"/><rect x="661.5" y="399.3" width="29.2" height="8.2" fill="#0070ff"/><rect x="690.4" y="399.3" width="11.9" height="8.2" fill="#0068ff"/><rect x="702.0" y="399.3" width="6.1" height="8.2" fill="#0058ff"/><rect x="707.8" y="399.3" width="6.1" height="8.2" fill="#0040ff"/><rect x="713.6" y="399.3" width="6.1" height="8.2" fill="#0028ff"/><rect x="719.3" y="399.3" width="6.1" height="8.2" fill="#0018ff"/><rect x="725.1" y="399.3" width="6.1" height="8.2" fill="#0010ff"/><rect x="730.9" y="399.3" width="40.8" height="8.2" fill="#0008ff"/><rect x="771.4" y="399.3" width="17.7" height="8.2" fill="#0010ff"/><rect x="788.8" y="399.3" width="23.4" height="8.2" fill="#0018ff"/><rect x="811.9" y="399.3" width="58.1" height="8.2" fill="#0020ff"/><rect x="869.7" y="399.3" width="17.7" height="8.2" fill="#0018ff"/><rect x="887.1" y="399.3" width="11.9" height="8.2" fill="#0010ff"/><rect x="898.7" y="399.3" width="11.9" height="8.2" fill="#0008ff"/><rect x="910.2" y="399.3" width="11.9" height="8.2" fill="#0000ff"/><rect x="921.8" y="399.3" width="6.1" height="8.2" fill="#0000ff"/><rect x="927.6" y="399.3" width="11.9" height="8.2" fill="#0000fe"/><rect x="939.2" y="399.3" width="11.9" height="8.2" fill="#0000f5"/><rect x="950.7" y="399.3" width="17.7" height="8.2" fill="#0000ec"/><rect x="968.1" y="399.3" width="11.9" height="8.2" fill="#0000e3"/><rect x="979.7" y="399.3" width="11.9" height="8.2" fill="#0000da"/><rect x="991.2" y="399.3" width="17.7" height="8.2" fill="#0000d1"/><rect x="1008.6" y="399.3" width="17.7" height="8.2" fill="#0000c8"/><rect x="1025.9" y="399.3" width="17.7" height="8.2" fill="#0000bf"/><rect x="1043.3" y="399.3" width="23.4" height="8.2" fill="#0000b6"/><rect x="1066.4" y="399.3" width="29.2" height="8.2" fill="#0000ad"/><rect x="1095.4" y="399.3" width="40.8" height="8.2" fill="#0000a4"/><rect x="1135.9" y="399.3" width="61.0" height="8.2" fill="#00009b"/><rect x="155.3" y="407.2" width="66.8" height="8.2" fill="#00009b"/><rect x="221.8" y="407.2" width="40.8" height="8.2" fill="#0000a4"/><rect x="262.3" y="407.2" width="29.2" height="8.2" fill="#0000ad"/><rect x="291.2" y="407.2" width="17.7" height="8.2" fill="#0000b6"/><rect x="308.6" y="407.2" width="23.4" height="8.2" fill="#0000bf"/><rect x="331.7" y="407.2" width="17.7" height="8.2" fill="#0000c8"/><rect x="349.1" y="407.2" width="17.7" height="8.2" fill="#0000d1"/><rect x="366.5" y="407.2" width="11.9" height="8.2" fill="#0000da"/><rect x="378.0" y="407.2" width="17.7" height="8.2" fill="#0000e3"/><rect x="395.4" y="407.2" width="11.9" height="8.2" fill="#0000ec"/><rect x="406.9" y="407.2" width="11.9" height="8.2" fill="#0000f5"/><rect x="418.5" y="407.2" width="11.9" height="8.2" fill="#0000fe"/><rect x="430.1" y="407.2" width="11.9" height="8.2" fill="#0000ff"/><rect x="441.7" y="407.2" width="11.9" height="8.2" fill="#0000ff"/><rect x="453.2" y="407.2" width="17.7" height="8.2" fill="#0008ff"/><rect x="470.6" y="407.2" width="17.7" height="8.2" fill="#0010ff"/><rect x="487.9" y="407.2" width="40.8" height="8.2" fill="#0018ff"/><rect x="528.4" y="407.2" width="29.2" height="8.2" fill="#0010ff"/><rect x="557.4" y="407.2" width="29.2" height="8.2" fill="#0008ff"/><rect x="586.3" y="407.2" width="29.2" height="8.2" fill="#0000ff"/><rect x="615.2" y="407.2" width="11.9" height="8.2" fill="#0008ff"/><rect x="626.8" y="407.2" width="6.1" height="8.2" fill="#0010ff"/><rect x="632.6" y="407.2" width="6.1" height="8.2" fill="#0020ff"/><rect x="638.3" y="407.2" width="6.1" height="8.2" fill="#0030ff"/><rect x="644.1" y="407.2" width="6.1" height="8.2" fill="#0040ff"/><rect x="649.9" y="407.2" width="6.1" height="8.2" fill="#0048ff"/><rect x="655.7" y="407.2" width="40.8" height="8.2" fill="#0050ff"/><rect x="696.2" y="407.2" width="6.1" height="8.2" fill="#0048ff"/><rect x="702.0" y="407.2" width="6.1" height="8.2" fill="#0040ff"/><rect x="707.8" y="407.2" width="6.1" height="8.2" fill="#0030ff"/><rect x="713.6" y="407.2" width="6.1" height="8.2" fill="#0020ff"/><rect x="719.3" y="407.2" width="6.1" height="8.2" fill="#0010ff"/><rect x="725.1" y="407.2" width="11.9" height="8.2" fill="#0008ff"/><rect x="736.7" y="407.2" width="29.2" height="8.2" fill="#0000ff"/><rect x="765.6" y="407.2" width="29.2" height="8.2" fill="#0008ff"/><rect x="794.5" y="407.2" width="29.2" height="8.2" fill="#0010ff"/><rect x="823.5" y="407.2" width="40.8" height="8.2" fill="#0018ff"/><rect x="864.0" y="407.2" width="17.7" height="8.2" fill="#0010ff"/><rect x="881.3" y="407.2" width="17.7" height="8.2" fill="#0008ff"/><rect x="898.7" y="407.2" width="11.9" height="8.2" fill="#0000ff"/><rect x="910.2" y="407.2" width="11.9" height="8.2" fill="#0000ff"/><rect x="921.8" y="407.2" width="11.9" height="8.2" fill="#0000fe"/><rect x="933.4" y="407.2" width="11.9" height="8.2" fill="#0000f5"/><rect x="945.0" y="407.2" width="11.9" height="8.2" fill="#0000ec"/><rect x="956.5" y="407.2" width="17.7" height="8.2" fill="#0000e3"/><rect x="973.9" y="407.2" width="11.9" height="8.2" fill="#0000da"/><rect x="985.4" y="407.2" width="17.7" height="8.2" fill="#0000d1"/><rect x="1002.8" y="407.2" width="17.7" height="8.2" fill="#0000c8"/><rect x="1020.2" y="407.2" width="23.4" height="8.2" fill="#0000bf"/><rect x="1043.3" y="407.2" width="17.7" height="8.2" fill="#0000b6"/><rect x="1060.7" y="407.2" width="29.2" height="8.2" fill="#0000ad"/><rect x="1089.6" y="407.2" width="40.8" height="8.2" fill="#0000a4"/><rect x="1130.1" y="407.2" width="66.8" height="8.2" fill="#00009b"/><rect x="155.3" y="415.1" width="66.8" height="8.2" fill="#00009b"/><rect x="221.8" y="415.1" width="40.8" height="8.2" fill="#0000a4"/><rect x="262.3" y="415.1" width="29.2" height="8.2" fill="#0000ad"/><rect x="291.2" y="415.1" width="23.4" height="8.2" fill="#0000b6"/><rect x="314.4" y="415.1" width="23.4" height="8.2" fill="#0000bf"/><rect x="337.5" y="415.1" width="17.7" height="8.2" fill="#0000c8"/><rect x="354.9" y="415.1" width="17.7" height="8.2" fill="#0000d1"/><rect x="372.2" y="415.1" width="17.7" height="8.2" fill="#0000da"/><rect x="389.6" y="415.1" width="11.9" height="8.2" fill="#0000e3"/><rect x="401.2" y="415.1" width="11.9" height="8.2" fill="#0000ec"/><rect x="412.7" y="415.1" width="17.7" height="8.2" fill="#0000f5"/><rect x="430.1" y="415.1" width="11.9" height="8.2" fill="#0000fe"/><rect x="441.7" y="415.1" width="11.9" height="8.2" fill="#0000ff"/><rect x="453.2" y="415.1" width="17.7" height="8.2" fill="#0000ff"/><rect x="470.6" y="415.1" width="23.4" height="8.2" fill="#0008ff"/><rect x="493.7" y="415.1" width="29.2" height="8.2" fill="#0010ff"/><rect x="522.6" y="415.1" width="35.0" height="8.2" fill="#0008ff"/><rect x="557.4" y="415.1" width="63.9" height="8.2" fill="#0000ff"/><rect x="621.0" y="415.1" width="6.1" height="8.2" fill="#0008ff"/><rect x="626.8" y="415.1" width="6.1" height="8.2" fill="#0010ff"/><rect x="632.6" y="415.1" width="6.1" height="8.2" fill="#0018ff"/><rect x="638.3" y="415.1" width="6.1" height="8.2" fill="#0020ff"/><rect x="644.1" y="415.1" width="6.1" height="8.2" fill="#0030ff"/><rect x="649.9" y="415.1" width="52.4" height="8.2" fill="#0038ff"/><rect x="702.0" y="415.1" width="6.1" height="8.2" fill="#0030ff"/><rect x="707.8" y="415.1" width="6.1" height="8.2" fill="#0020ff"/><rect x="713.6" y="415.1" width="6.1" height="8.2" fill="#0018ff"/><rect x="719.3" y="415.1" width="6.1" height="8.2" fill="#0010ff"/><rect x="725.1" y="415.1" width="6.1" height="8.2" fill="#0008ff"/><rect x="730.9" y="415.1" width="63.9" height="8.2" fill="#0000ff"/><rect x="794.5" y="415.1" width="35.0" height="8.2" fill="#0008ff"/><rect x="829.3" y="415.1" width="29.2" height="8.2" fill="#0010ff"/><rect x="858.2" y="415.1" width="23.4" height="8.2" fill="#0008ff"/><rect x="881.3" y="415.1" width="17.7" height="8.2" fill="#0000ff"/><rect x="898.7" y="415.1" width="11.9" height="8.2" fill="#0000ff"/><rect x="910.2" y="415.1" width="11.9" height="8.2" fill="#0000fe"/><rect x="921.8" y="415.1" width="17.7" height="8.2" fill="#0000f5"/><rect x="939.2" y="415.1" width="11.9" height="8.2" fill="#0000ec"/><rect x="950.7" y="415.1" width="11.9" height="8.2" fill="#0000e3"/><rect x="962.3" y="415.1" width="17.7" height="8.2" fill="#0000da"/><rect x="979.7" y="415.1" width="17.7" height="8.2" fill="#0000d1"/><rect x="997.0" y="415.1" width="17.7" height="8.2" fill="#0000c8"/><rect x="1014.4" y="415.1" width="23.4" height="8.2" fill="#0000bf"/><rect x="1037.5" y="415.1" width="23.4" height="8.2" fill="#0000b6"/><rect x="1060.7" y="415.1" width="29.2" height="8.2" fill="#0000ad"/><rect x="1089.6" y="415.1" width="40.8" height="8.2" fill="#0000a4"/><rect x="1130.1" y="415.1" width="66.8" height="8.2" fill="#00009b"/><rect x="155.3" y="422.9" width="72.6" height="8.2" fill="#00009b"/><rect x="227.6" y="422.9" width="40.8" height="8.2" fill="#0000a4"/><rect x="268.1" y="422.9" width="29.2" height="8.2" fill="#0000ad"/><rect x="297.0" y="422.9" width="23.4" height="8.2" fill="#0000b6"/><rect x="320.2" y="422.9" width="23.4" height="8.2" fill="#0000bf"/><rect x="343.3" y="422.9" width="17.7" height="8.2" fill="#0000c8"/><rect x="360.7" y="422.9" width="17.7" height="8.2" fill="#0000d1"/><rect x="378.0" y="422.9" width="17.7" height="8.2" fill="#0000da"/><rect x="395.4" y="422.9" width="11.9" height="8.2" fill="#0000e3"/><rect x="406.9" y="422.9" width="17.7" height="8.2" fill="#0000ec"/><rect x="424.3" y="422.9" width="11.9" height="8.2" fill="#0000f5"/><rect x="435.9" y="422.9" width="17.7" height="8.2" fill="#0000fe"/><rect x="453.2" y="422.9" width="17.7" height="8.2" fill="#0000ff"/><rect x="470.6" y="422.9" width="92.9" height="8.2" fill="#0000ff"/><rect x="563.1" y="422.9" width="52.4" height="8.2" fill="#0000ff"/><rect x="615.2" y="422.9" width="11.9" height="8.2" fill="#0000ff"/><rect x="626.8" y="422.9" width="6.1" height="8.2" fill="#0008ff"/><rect x="632.6" y="422.9" width="6.1" height="8.2" fill="#0010ff"/><rect x="638.3" y="422.9" width="6.1" height="8.2" fill="#0018ff"/><rect x="644.1" y="422.9" width="6.1" height="8.2" fill="#0020ff"/><rect x="649.9" y="422.9" width="17.7" height="8.2" fill="#0028ff"/><rect x="667.3" y="422.9" width="17.7" height="8.2" fill="#0030ff"/><rect x="684.6" y="422.9" width="17.7" height="8.2" fill="#0028ff"/><rect x="702.0" y="422.9" width="6.1" height="8.2" fill="#0020ff"/><rect x="707.8" y="422.9" width="6.1" height="8.2" fill="#0018ff"/><rect x="713.6" y="422.9" width="6.1" height="8.2" fill="#0010ff"/><rect x="719.3" y="422.9" width="6.1" height="8.2" fill="#0008ff"/><rect x="725.1" y="422.9" width="11.9" height="8.2" fill="#0000ff"/><rect x="736.7" y="422.9" width="52.4" height="8.2" fill="#0000ff"/><rect x="788.8" y="422.9" width="92.9" height="8.2" fill="#0000ff"/><rect x="881.3" y="422.9" width="17.7" height="8.2" fill="#0000ff"/><rect x="898.7" y="422.9" width="17.7" height="8.2" fill="#0000fe"/><rect x="916.0" y="422.9" width="11.9" height="8.2" fill="#0000f5"/><rect x="927.6" y="422.9" width="17.7" height="8.2" fill="#0000ec"/><rect x="945.0" y="422.9" width="11.9" height="8.2" fill="#0000e3"/><rect x="956.5" y="422.9" width="17.7" height="8.2" fill="#0000da"/><rect x="973.9" y="422.9" width="17.7" height="8.2" fill="#0000d1"/><rect x="991.2" y="422.9" width="17.7" height="8.2" fill="#0000c8"/><rect x="1008.6" y="422.9" width="23.4" height="8.2" fill="#0000bf"/><rect x="1031.7" y="422.9" width="23.4" height="8.2" fill="#0000b6"/><rect x="1054.9" y="422.9" width="29.2" height="8.2" fill="#0000ad"/><rect x="1083.8" y="422.9" width="40.8" height="8.2" fill="#0000a4"/><rect x="1124.3" y="422.9" width="72.6" height="8.2" fill="#00009b"/><rect x="155.3" y="430.8" width="78.4" height="8.2" fill="#00009b"/><rect x="233.4" y="430.8" width="40.8" height="8.2" fill="#0000a4"/><rect x="273.9" y="430.8" width="29.2" height="8.2" fill="#0000ad"/><rect x="302.8" y="430.8" width="23.4" height="8.2" fill="#0000b6"/><rect x="326.0" y="430.8" width="23.4" height="8.2" fill="#0000bf"/><rect x="349.1" y="430.8" width="17.7" height="8.2" fill="#0000c8"/><rect x="366.5" y="430.8" width="17.7" height="8.2" fill="#0000d1"/><rect x="383.8" y="430.8" width="17.7" height="8.2" fill="#0000da"/><rect x="401.2" y="430.8" width="17.7" height="8.2" fill="#0000e3"/><rect x="418.5" y="430.8" width="17.7" height="8.2" fill="#0000ec"/><rect x="435.9" y="430.8" width="11.9" height="8.2" fill="#0000f5"/><rect x="447.4" y="430.8" width="23.4" height="8.2" fill="#0000fe"/><rect x="470.6" y="430.8" width="98.6" height="8.2" fill="#0000ff"/><rect x="568.9" y="430.8" width="40.8" height="8.2" fill="#0000fe"/><rect x="609.4" y="430.8" width="17.7" height="8.2" fill="#0000ff"/><rect x="626.8" y="430.8" width="6.1" height="8.2" fill="#0000ff"/><rect x="632.6" y="430.8" width="6.1" height="8.2" fill="#0008ff"/><rect x="638.3" y="430.8" width="11.9" height="8.2" fill="#0010ff"/><rect x="649.9" y="430.8" width="11.9" height="8.2" fill="#0018ff"/><rect x="661.5" y="430.8" width="29.2" height="8.2" fill="#0020ff"/><rect x="690.4" y="430.8" width="11.9" height="8.2" fill="#0018ff"/><rect x="702.0" y="430.8" width="11.9" height="8.2" fill="#0010ff"/><rect x="713.6" y="430.8" width="6.1" height="8.2" fill="#0008ff"/><rect x="719.3" y="430.8" width="6.1" height="8.2" fill="#0000ff"/><rect x="725.1" y="430.8" width="17.7" height="8.2" fill="#0000ff"/><rect x="742.5" y="430.8" width="40.8" height="8.2" fill="#0000fe"/><rect x="783.0" y="430.8" width="98.6" height="8.2" fill="#0000ff"/><rect x="881.3" y="430.8" width="23.4" height="8.2" fill="#0000fe"/><rect x="904.5" y="430.8" width="11.9" height="8.2" fill="#0000f5"/><rect x="916.0" y="430.8" width="17.7" height="8.2" fill="#0000ec"/><rect x="933.4" y="430.8" width="17.7" height="8.2" fill="#0000e3"/><rect x="950.7" y="430.8" width="17.7" height="8.2" fill="#0000da"/><rect x="968.1" y="430.8" width="17.7" height="8.2" fill="#0000d1"/><rect x="985.4" y="430.8" width="17.7" height="8.2" fill="#0000c8"/><rect x="1002.8" y="430.8" width="23.4" height="8.2" fill="#0000bf"/><rect x="1025.9" y="430.8" width="23.4" height="8.2" fill="#0000b6"/><rect x="1049.1" y="430.8" width="29.2" height="8.2" fill="#0000ad"/><rect x="1078.0" y="430.8" width="40.8" height="8.2" fill="#0000a4"/><rect x="1118.5" y="430.8" width="78.4" height="8.2" fill="#00009b"/><rect x="155.3" y="438.6" width="78.4" height="8.2" fill="#00009b"/><rect x="233.4" y="438.6" width="40.8" height="8.2" fill="#0000a4"/><rect x="273.9" y="438.6" width="35.0" height="8.2" fill="#0000ad"/><rect x="308.6" y="438.6" width="23.4" height="8.2" fill="#0000b6"/><rect x="331.7" y="438.6" width="23.4" height="8.2" fill="#0000bf"/><rect x="354.9" y="438.6" width="17.7" height="8.2" fill="#0000c8"/><rect x="372.2" y="438.6" width="23.4" height="8.2" fill="#0000d1"/><rect x="395.4" y="438.6" width="17.7" height="8.2" fill="#0000da"/><rect x="412.7" y="438.6" width="17.7" height="8.2" fill="#0000e3"/><rect x="430.1" y="438.6" width="17.7" height="8.2" fill="#0000ec"/><rect x="447.4" y="438.6" width="17.7" height="8.2" fill="#0000f5"/><rect x="464.8" y="438.6" width="35.0" height="8.2" fill="#0000fe"/><rect x="499.5" y="438.6" width="23.4" height="8.2" fill="#0000ff"/><rect x="522.6" y="438.6" width="98.6" height="8.2" fill="#0000fe"/><rect x="621.0" y="438.6" width="11.9" height="8.2" fill="#0000ff"/><rect x="632.6" y="438.6" width="6.1" height="8.2" fill="#0000ff"/><rect x="638.3" y="438.6" width="11.9" height="8.2" fill="#0008ff"/><rect x="649.9" y="438.6" width="52.4" height="8.2" fill="#0010ff"/><rect x="702.0" y="438.6" width="11.9" height="8.2" fill="#0008ff"/><rect x="713.6" y="438.6" width="6.1" height="8.2" fill="#0000ff"/><rect x="719.3" y="438.6" width="11.9" height="8.2" fill="#0000ff"/><rect x="730.9" y="438.6" width="98.6" height="8.2" fill="#0000fe"/><rect x="829.3" y="438.6" width="23.4" height="8.2" fill="#0000ff"/><rect x="852.4" y="438.6" width="35.0" height="8.2" fill="#0000fe"/><rect x="887.1" y="438.6" width="17.7" height="8.2" fill="#0000f5"/><rect x="904.5" y="438.6" width="17.7" height="8.2" fill="#0000ec"/><rect x="921.8" y="438.6" width="17.7" height="8.2" fill="#0000e3"/><rect x="939.2" y="438.6" width="17.7" height="8.2" fill="#0000da"/><rect x="956.5" y="438.6" width="23.4" height="8.2" fill="#0000d1"/><rect x="979.7" y="438.6" width="17.7" height="8.2" fill="#0000c8"/><rect x="997.0" y="438.6" width="23.4" height="8.2" fill="#0000bf"/><rect x="1020.2" y="438.6" width="23.4" height="8.2" fill="#0000b6"/><rect x="1043.3" y="438.6" width="35.0" height="8.2" fill="#0000ad"/><rect x="1078.0" y="438.6" width="40.8" height="8.2" fill="#0000a4"/><rect x="1118.5" y="438.6" width="78.4" height="8.2" fill="#00009b"/><rect x="155.3" y="446.5" width="84.2" height="8.2" fill="#00009b"/><rect x="239.2" y="446.5" width="40.8" height="8.2" fill="#0000a4"/><rect x="279.7" y="446.5" width="35.0" height="8.2" fill="#0000ad"/><rect x="314.4" y="446.5" width="23.4" height="8.2" fill="#0000b6"/><rect x="337.5" y="446.5" width="23.4" height="8.2" fill="#0000bf"/><rect x="360.7" y="446.5" width="23.4" height="8.2" fill="#0000c8"/><rect x="383.8" y="446.5" width="17.7" height="8.2" fill="#0000d1"/><rect x="401.2" y="446.5" width="17.7" height="8.2" fill="#0000da"/><rect x="418.5" y="446.5" width="17.7" height="8.2" fill="#0000e3"/><rect x="435.9" y="446.5" width="23.4" height="8.2" fill="#0000ec"/><rect x="459.0" y="446.5" width="29.2" height="8.2" fill="#0000f5"/><rect x="487.9" y="446.5" width="52.4" height="8.2" fill="#0000fe"/><rect x="540.0" y="446.5" width="75.5" height="8.2" fill="#0000f5"/><rect x="615.2" y="446.5" width="11.9" height="8.2" fill="#0000fe"/><rect x="626.8" y="446.5" width="11.9" height="8.2" fill="#0000ff"/><rect x="638.3" y="446.5" width="11.9" height="8.2" fill="#0000ff"/><rect x="649.9" y="446.5" width="52.4" height="8.2" fill="#0008ff"/><rect x="702.0" y="446.5" width="11.9" height="8.2" fill="#0000ff"/><rect x="713.6" y="446.5" width="11.9" height="8.2" fill="#0000ff"/><rect x="725.1" y="446.5" width="11.9" height="8.2" fill="#0000fe"/><rect x="736.7" y="446.5" width="75.5" height="8.2" fill="#0000f5"/><rect x="811.9" y="446.5" width="52.4" height="8.2" fill="#0000fe"/><rect x="864.0" y="446.5" width="29.2" height="8.2" fill="#0000f5"/><rect x="892.9" y="446.5" width="23.4" height="8.2" fill="#0000ec"/><rect x="916.0" y="446.5" width="17.7" height="8.2" fill="#0000e3"/><rect x="933.4" y="446.5" width="17.7" height="8.2" fill="#0000da"/><rect x="950.7" y="446.5" width="17.7" height="8.2" fill="#0000d1"/><rect x="968.1" y="446.5" width="23.4" height="8.2" fill="#0000c8"/><rect x="991.2" y="446.5" width="23.4" height="8.2" fill="#0000bf"/><rect x="1014.4" y="446.5" width="23.4" height="8.2" fill="#0000b6"/><rect x="1037.5" y="446.5" width="35.0" height="8.2" fill="#0000ad"/><rect x="1072.2" y="446.5" width="40.8" height="8.2" fill="#0000a4"/><rect x="1112.7" y="446.5" width="84.2" height="8.2" fill="#00009b"/><rect x="155.3" y="454.3" width="84.2" height="8.2" fill="#00009b"/><rect x="239.2" y="454.3" width="46.6" height="8.2" fill="#0000a4"/><rect x="285.5" y="454.3" width="29.2" height="8.2" fill="#0000ad"/><rect x="314.4" y="454.3" width="29.2" height="8.2" fill="#0000b6"/><rect x="343.3" y="454.3" width="23.4" height="8.2" fill="#0000bf"/><rect x="366.5" y="454.3" width="23.4" height="8.2" fill="#0000c8"/><rect x="389.6" y="454.3" width="17.7" height="8.2" fill="#0000d1"/><rect x="406.9" y="454.3" width="23.4" height="8.2" fill="#0000da"/><rect x="430.1" y="454.3" width="23.4" height="8.2" fill="#0000e3"/><rect x="453.2" y="454.3" width="23.4" height="8.2" fill="#0000ec"/><rect x="476.4" y="454.3" width="81.3" height="8.2" fill="#0000f5"/><rect x="557.4" y="454.3" width="46.6" height="8.2" fill="#0000ec"/><rect x="603.6" y="454.3" width="23.4" height="8.2" fill="#0000f5"/><rect x="626.8" y="454.3" width="11.9" height="8.2" fill="#0000fe"/><rect x="638.3" y="454.3" width="23.4" height="8.2" fill="#0000ff"/><rect x="661.5" y="454.3" width="29.2" height="8.2" fill="#0000ff"/><rect x="690.4" y="454.3" width="23.4" height="8.2" fill="#0000ff"/><rect x="713.6" y="454.3" width="11.9" height="8.2" fill="#0000fe"/><rect x="725.1" y="454.3" width="23.4" height="8.2" fill="#0000f5"/><rect x="748.3" y="454.3" width="46.6" height="8.2" fill="#0000ec"/><rect x="794.5" y="454.3" width="81.3" height="8.2" fill="#0000f5"/><rect x="875.5" y="454.3" width="23.4" height="8.2" fill="#0000ec"/><rect x="898.7" y="454.3" width="23.4" height="8.2" fill="#0000e3"/><rect x="921.8" y="454.3" width="23.4" height="8.2" fill="#0000da"/><rect x="945.0" y="454.3" width="17.7" height="8.2" fill="#0000d1"/><rect x="962.3" y="454.3" width="23.4" height="8.2" fill="#0000c8"/><rect x="985.4" y="454.3" width="23.4" height="8.2" fill="#0000bf"/><rect x="1008.6" y="454.3" width="29.2" height="8.2" fill="#0000b6"/><rect x="1037.5" y="454.3" width="29.2" height="8.2" fill="#0000ad"/><rect x="1066.4" y="454.3" width="46.6" height="8.2" fill="#0000a4"/><rect x="1112.7" y="454.3" width="84.2" height="8.2" fill="#00009b"/><rect x="155.3" y="462.2" width="90.0" height="8.2" fill="#00009b"/><rect x="245.0" y="462.2" width="46.6" height="8.2" fill="#0000a4"/><rect x="291.2" y="462.2" width="29.2" height="8.2" fill="#0000ad"/><rect x="320.2" y="462.2" width="29.2" height="8.2" fill="#0000b6"/><rect x="349.1" y="462.2" width="23.4" height="8.2" fill="#0000bf"/><rect x="372.2" y="462.2" width="23.4" height="8.2" fill="#0000c8"/><rect x="395.4" y="462.2" width="23.4" height="8.2" fill="#0000d1"/><rect x="418.5" y="462.2" width="23.4" height="8.2" fill="#0000da"/><rect x="441.7" y="462.2" width="23.4" height="8.2" fill="#0000e3"/><rect x="464.8" y="462.2" width="162.3" height="8.2" fill="#0000ec"/><rect x="626.8" y="462.2" width="23.4" height="8.2" fill="#0000f5"/><rect x="649.9" y="462.2" width="52.4" height="8.2" fill="#0000fe"/><rect x="702.0" y="462.2" width="23.4" height="8.2" fill="#0000f5"/><rect x="725.1" y="462.2" width="162.3" height="8.2" fill="#0000ec"/><rect x="887.1" y="462.2" width="23.4" height="8.2" fill="#0000e3"/><rect x="910.2" y="462.2" width="23.4" height="8.2" fill="#0000da"/><rect x="933.4" y="462.2" width="23.4" height="8.2" fill="#0000d1"/><rect x="956.5" y="462.2" width="23.4" height="8.2" fill="#0000c8"/><rect x="979.7" y="462.2" width="23.4" height="8.2" fill="#0000bf"/><rect x="1002.8" y="462.2" width="29.2" height="8.2" fill="#0000b6"/><rect x="1031.7" y="462.2" width="29.2" height="8.2" fill="#0000ad"/><rect x="1060.7" y="462.2" width="46.6" height="8.2" fill="#0000a4"/><rect x="1106.9" y="462.2" width="90.0" height="8.2" fill="#00009b"/><rect x="155.3" y="470.1" width="95.8" height="8.2" fill="#00009b"/><rect x="250.8" y="470.1" width="40.8" height="8.2" fill="#0000a4"/><rect x="291.2" y="470.1" width="35.0" height="8.2" fill="#0000ad"/><rect x="326.0" y="470.1" width="29.2" height="8.2" fill="#0000b6"/><rect x="354.9" y="470.1" width="29.2" height="8.2" fill="#0000bf"/><rect x="383.8" y="470.1" width="23.4" height="8.2" fill="#0000c8"/><rect x="406.9" y="470.1" width="23.4" height="8.2" fill="#0000d1"/><rect x="430.1" y="470.1" width="23.4" height="8.2" fill="#0000da"/><rect x="453.2" y="470.1" width="40.8" height="8.2" fill="#0000e3"/><rect x="493.7" y="470.1" width="35.0" height="8.2" fill="#0000ec"/><rect x="528.4" y="470.1" width="87.1" height="8.2" fill="#0000e3"/><rect x="615.2" y="470.1" width="29.2" height="8.2" fill="#0000ec"/><rect x="644.1" y="470.1" width="63.9" height="8.2" fill="#0000f5"/><rect x="707.8" y="470.1" width="29.2" height="8.2" fill="#0000ec"/><rect x="736.7" y="470.1" width="87.1" height="8.2" fill="#0000e3"/><rect x="823.5" y="470.1" width="35.0" height="8.2" fill="#0000ec"/><rect x="858.2" y="470.1" width="40.8" height="8.2" fill="#0000e3"/><rect x="898.7" y="470.1" width="23.4" height="8.2" fill="#0000da"/><rect x="921.8" y="470.1" width="23.4" height="8.2" fill="#0000d1"/><rect x="945.0" y="470.1" width="23.4" height="8.2" fill="#0000c8"/><rect x="968.1" y="470.1" width="29.2" height="8.2" fill="#0000bf"/><rect x="997.0" y="470.1" width="29.2" height="8.2" fill="#0000b6"/><rect x="1025.9" y="470.1" width="35.0" height="8.2" fill="#0000ad"/><rect x="1060.7" y="470.1" width="40.8" height="8.2" fill="#0000a4"/><rect x="1101.1" y="470.1" width="95.8" height="8.2" fill="#00009b"/><rect x="155.3" y="477.9" width="95.8" height="8.2" fill="#00009b"/><rect x="250.8" y="477.9" width="46.6" height="8.2" fill="#0000a4"/><rect x="297.0" y="477.9" width="35.0" height="8.2" fill="#0000ad"/><rect x="331.7" y="477.9" width="29.2" height="8.2" fill="#0000b6"/><rect x="360.7" y="477.9" width="29.2" height="8.2" fill="#0000bf"/><rect x="389.6" y="477.9" width="23.4" height="8.2" fill="#0000c8"/><rect x="412.7" y="477.9" width="29.2" height="8.2" fill="#0000d1"/><rect x="441.7" y="477.9" width="29.2" height="8.2" fill="#0000da"/><rect x="470.6" y="477.9" width="168.1" height="8.2" fill="#0000e3"/><rect x="638.3" y="477.9" width="75.5" height="8.2" fill="#0000ec"/><rect x="713.6" y="477.9" width="168.1" height="8.2" fill="#0000e3"/><rect x="881.3" y="477.9" width="29.2" height="8.2" fill="#0000da"/><rect x="910.2" y="477.9" width="29.2" height="8.2" fill="#0000d1"/><rect x="939.2" y="477.9" width="23.4" height="8.2" fill="#0000c8"/><rect x="962.3" y="477.9" width="29.2" height="8.2" fill="#0000bf"/><rect x="991.2" y="477.9" width="29.2" height="8.2" fill="#0000b6"/><rect x="1020.2" y="477.9" width="35.0" height="8.2" fill="#0000ad"/><rect x="1054.9" y="477.9" width="46.6" height="8.2" fill="#0000a4"/><rect x="1101.1" y="477.9" width="95.8" height="8.2" fill="#00009b"/><rect x="155.3" y="485.8" width="101.5" height="8.2" fill="#00009b"/><rect x="256.5" y="485.8" width="46.6" height="8.2" fill="#0000a4"/><rect x="302.8" y="485.8" width="35.0" height="8.2" fill="#0000ad"/><rect x="337.5" y="485.8" width="29.2" height="8.2" fill="#0000b6"/><rect x="366.5" y="485.8" width="29.2" height="8.2" fill="#0000bf"/><rect x="395.4" y="485.8" width="29.2" height="8.2" fill="#0000c8"/><rect x="424.3" y="485.8" width="29.2" height="8.2" fill="#0000d1"/><rect x="453.2" y="485.8" width="173.9" height="8.2" fill="#0000da"/><rect x="626.8" y="485.8" width="98.6" height="8.2" fill="#0000e3"/><rect x="725.1" y="485.8" width="173.9" height="8.2" fill="#0000da"/><rect x="898.7" y="485.8" width="29.2" height="8.2" fill="#0000d1"/><rect x="927.6" y="485.8" width="29.2" height="8.2" fill="#0000c8"/><rect x="956.5" y="485.8" width="29.2" height="8.2" fill="#0000bf"/><rect x="985.4" y="485.8" width="29.2" height="8.2" fill="#0000b6"/><rect x="1014.4" y="485.8" width="35.0" height="8.2" fill="#0000ad"/><rect x="1049.1" y="485.8" width="46.6" height="8.2" fill="#0000a4"/><rect x="1095.4" y="485.8" width="101.5" height="8.2" fill="#00009b"/><rect x="155.3" y="493.6" width="107.3" height="8.2" fill="#00009b"/><rect x="262.3" y="493.6" width="46.6" height="8.2" fill="#0000a4"/><rect x="308.6" y="493.6" width="35.0" height="8.2" fill="#0000ad"/><rect x="343.3" y="493.6" width="35.0" height="8.2" fill="#0000b6"/><rect x="378.0" y="493.6" width="29.2" height="8.2" fill="#0000bf"/><rect x="406.9" y="493.6" width="29.2" height="8.2" fill="#0000c8"/><rect x="435.9" y="493.6" width="35.0" height="8.2" fill="#0000d1"/><rect x="470.6" y="493.6" width="411.0" height="8.2" fill="#0000da"/><rect x="881.3" y="493.6" width="35.0" height="8.2" fill="#0000d1"/><rect x="916.0" y="493.6" width="29.2" height="8.2" fill="#0000c8"/><rect x="945.0" y="493.6" width="29.2" height="8.2" fill="#0000bf"/><rect x="973.9" y="493.6" width="35.0" height="8.2" fill="#0000b6"/><rect x="1008.6" y="493.6" width="35.0" height="8.2" fill="#0000ad"/><rect x="1043.3" y="493.6" width="46.6" height="8.2" fill="#0000a4"/><rect x="1089.6" y="493.6" width="107.3" height="8.2" fill="#00009b"/><rect x="155.3" y="501.5" width="3.2" height="8.2" fill="#000092"/><rect x="158.2" y="501.5" width="104.4" height="8.2" fill="#00009b"/><rect x="262.3" y="501.5" width="52.4" height="8.2" fill="#0000a4"/><rect x="314.4" y="501.5" width="35.0" height="8.2" fill="#0000ad"/><rect x="349.1" y="501.5" width="35.0" height="8.2" fill="#0000b6"/><rect x="383.8" y="501.5" width="29.2" height="8.2" fill="#0000bf"/><rect x="412.7" y="501.5" width="35.0" height="8.2" fill="#0000c8"/><rect x="447.4" y="501.5" width="457.3" height="8.2" fill="#0000d1"/><rect x="904.5" y="501.5" width="35.0" height="8.2" fill="#0000c8"/><rect x="939.2" y="501.5" width="29.2" height="8.2" fill="#0000bf"/><rect x="968.1" y="501.5" width="35.0" height="8.2" fill="#0000b6"/><rect x="1002.8" y="501.5" width="35.0" height="8.2" fill="#0000ad"/><rect x="1037.5" y="501.5" width="52.4" height="8.2" fill="#0000a4"/><rect x="1089.6" y="501.5" width="104.4" height="8.2" fill="#00009b"/><rect x="1193.7" y="501.5" width="3.2" height="8.2" fill="#000092"/><rect x="155.3" y="509.4" width="3.2" height="8.2" fill="#000092"/><rect x="158.2" y="509.4" width="110.2" height="8.2" fill="#00009b"/><rect x="268.1" y="509.4" width="52.4" height="8.2" fill="#0000a4"/><rect x="320.2" y="509.4" width="35.0" height="8.2" fill="#0000ad"/><rect x="354.9" y="509.4" width="35.0" height="8.2" fill="#0000b6"/><rect x="389.6" y="509.4" width="35.0" height="8.2" fill="#0000bf"/><rect x="424.3" y="509.4" width="40.8" height="8.2" fill="#0000c8"/><rect x="464.8" y="509.4" width="422.6" height="8.2" fill="#0000d1"/><rect x="887.1" y="509.4" width="40.8" height="8.2" fill="#0000c8"/><rect x="927.6" y="509.4" width="35.0" height="8.2" fill="#0000bf"/><rect x="962.3" y="509.4" width="35.0" height="8.2" fill="#0000b6"/><rect x="997.0" y="509.4" width="35.0" height="8.2" fill="#0000ad"/><rect x="1031.7" y="509.4" width="52.4" height="8.2" fill="#0000a4"/><rect x="1083.8" y="509.4" width="110.2" height="8.2" fill="#00009b"/><rect x="1193.7" y="509.4" width="3.2" height="8.2" fill="#000092"/><rect x="155.3" y="517.2" width="9.0" height="8.2" fill="#000092"/><rect x="164.0" y="517.2" width="110.2" height="8.2" fill="#00009b"/><rect x="273.9" y="517.2" width="52.4" height="8.2" fill="#0000a4"/><rect x="326.0" y="517.2" width="35.0" height="8.2" fill="#0000ad"/><rect x="360.7" y="517.2" width="40.8" height="8.2" fill="#0000b6"/><rect x="401.2" y="517.2" width="35.0" height="8.2" fill="#0000bf"/><rect x="435.9" y="517.2" width="480.5" height="8.2" fill="#0000c8"/><rect x="916.0" y="517.2" width="35.0" height="8.2" fill="#0000bf"/><rect x="950.7" y="517.2" width="40.8" height="8.2" fill="#0000b6"/><rect x="991.2" y="517.2" width="35.0" height="8.2" fill="#0000ad"/><rect x="1025.9" y="517.2" width="52.4" height="8.2" fill="#0000a4"/><rect x="1078.0" y="517.2" width="110.2" height="8.2" fill="#00009b"/><rect x="1187.9" y="517.2" width="9.0" height="8.2" fill="#000092"/><rect x="155.3" y="525.1" width="9.0" height="4.2" fill="#000092"/><rect x="164.0" y="525.1" width="116.0" height="4.2" fill="#00009b"/><rect x="279.7" y="525.1" width="52.4" height="4.2" fill="#0000a4"/><rect x="331.7" y="525.1" width="40.8" height="4.2" fill="#0000ad"/><rect x="372.2" y="525.1" width="35.0" height="4.2" fill="#0000b6"/><rect x="406.9" y="525.1" width="46.6" height="4.2" fill="#0000bf"/><rect x="453.2" y="525.1" width="445.7" height="4.2" fill="#0000c8"/><rect x="898.7" y="525.1" width="46.6" height="4.2" fill="#0000bf"/><rect x="945.0" y="525.1" width="35.0" height="4.2" fill="#0000b6"/><rect x="979.7" y="525.1" width="40.8" height="4.2" fill="#0000ad"/><rect x="1020.2" y="525.1" width="52.4" height="4.2" fill="#0000a4"/><rect x="1072.2" y="525.1" width="116.0" height="4.2" fill="#00009b"/><rect x="1187.9" y="525.1" width="9.0" height="4.2" fill="#000092"/>
</g>
<path d="M155.3 324.7 L505.3 324.7 L505.3 183.2 L644.1 183.2 L644.1 371.8 L155.3 371.8" fill="none" stroke="#000" stroke-width="3.8" stroke-linejoin="miter"/>
<path d="M1196.6 324.7 L846.6 324.7 L846.6 183.2 L707.8 183.2 L707.8 371.8 L1196.6 371.8" fill="none" stroke="#000" stroke-width="3.8" stroke-linejoin="miter"/>
<rect x="155.3" y="57.5" width="1041.3" height="471.5" fill="none" stroke="#000" stroke-width="2.1"/>
<line x1="145.0" x2="155.3" y1="57.5" y2="57.5" stroke="#000" stroke-width="2.1"/>
<text transform="translate(133.60 69.10) scale(0.8700 1)" font-size="33.8" text-anchor="end" stroke="#000" stroke-width="0.4">0.4</text>
<line x1="145.0" x2="155.3" y1="136.1" y2="136.1" stroke="#000" stroke-width="2.1"/>
<text transform="translate(133.60 147.68) scale(0.8700 1)" font-size="33.8" text-anchor="end" stroke="#000" stroke-width="0.4">0.3</text>
<line x1="145.0" x2="155.3" y1="214.7" y2="214.7" stroke="#000" stroke-width="2.1"/>
<text transform="translate(133.60 226.27) scale(0.8700 1)" font-size="33.8" text-anchor="end" stroke="#000" stroke-width="0.4">0.2</text>
<line x1="145.0" x2="155.3" y1="293.3" y2="293.3" stroke="#000" stroke-width="2.1"/>
<text transform="translate(133.60 304.85) scale(0.8700 1)" font-size="33.8" text-anchor="end" stroke="#000" stroke-width="0.4">0.1</text>
<line x1="145.0" x2="155.3" y1="371.8" y2="371.8" stroke="#000" stroke-width="2.1"/>
<text transform="translate(133.60 383.43) scale(0.8700 1)" font-size="33.8" text-anchor="end" stroke="#000" stroke-width="0.4">0.0</text>
<line x1="145.0" x2="155.3" y1="450.4" y2="450.4" stroke="#000" stroke-width="2.1"/>
<text transform="translate(133.60 462.02) scale(0.8700 1)" font-size="33.8" text-anchor="end" stroke="#000" stroke-width="0.4">−0.1</text>
<line x1="145.0" x2="155.3" y1="529.0" y2="529.0" stroke="#000" stroke-width="2.1"/>
<text transform="translate(133.60 540.60) scale(0.8700 1)" font-size="33.8" text-anchor="end" stroke="#000" stroke-width="0.4">−0.2</text>
<line x1="213.2" x2="213.2" y1="529.0" y2="540.0" stroke="#000" stroke-width="2.1"/>
<text transform="translate(213.65 574.20) scale(0.8700 1)" font-size="33.8" text-anchor="middle" stroke="#000" stroke-width="0.4">−0.8</text>
<line x1="328.9" x2="328.9" y1="529.0" y2="540.0" stroke="#000" stroke-width="2.1"/>
<text transform="translate(329.35 574.20) scale(0.8700 1)" font-size="33.8" text-anchor="middle" stroke="#000" stroke-width="0.4">−0.6</text>
<line x1="444.6" x2="444.6" y1="529.0" y2="540.0" stroke="#000" stroke-width="2.1"/>
<text transform="translate(445.05 574.20) scale(0.8700 1)" font-size="33.8" text-anchor="middle" stroke="#000" stroke-width="0.4">−0.4</text>
<line x1="560.2" x2="560.2" y1="529.0" y2="540.0" stroke="#000" stroke-width="2.1"/>
<text transform="translate(560.75 574.20) scale(0.8700 1)" font-size="33.8" text-anchor="middle" stroke="#000" stroke-width="0.4">−0.2</text>
<line x1="676.0" x2="676.0" y1="529.0" y2="540.0" stroke="#000" stroke-width="2.1"/>
<text transform="translate(676.45 574.20) scale(0.8700 1)" font-size="33.8" text-anchor="middle" stroke="#000" stroke-width="0.4">0.0</text>
<line x1="791.7" x2="791.7" y1="529.0" y2="540.0" stroke="#000" stroke-width="2.1"/>
<text transform="translate(792.15 574.20) scale(0.8700 1)" font-size="33.8" text-anchor="middle" stroke="#000" stroke-width="0.4">0.2</text>
<line x1="907.4" x2="907.4" y1="529.0" y2="540.0" stroke="#000" stroke-width="2.1"/>
<text transform="translate(907.85 574.20) scale(0.8700 1)" font-size="33.8" text-anchor="middle" stroke="#000" stroke-width="0.4">0.4</text>
<line x1="1023.0" x2="1023.0" y1="529.0" y2="540.0" stroke="#000" stroke-width="2.1"/>
<text transform="translate(1023.55 574.20) scale(0.8700 1)" font-size="33.8" text-anchor="middle" stroke="#000" stroke-width="0.4">0.6</text>
<line x1="1138.8" x2="1138.8" y1="529.0" y2="540.0" stroke="#000" stroke-width="2.1"/>
<text transform="translate(1139.25 574.20) scale(0.8700 1)" font-size="33.8" text-anchor="middle" stroke="#000" stroke-width="0.4">0.8</text>
<text transform="translate(603.20 634.80) scale(1.0800 1)" font-size="54.5" class="it" stroke="#000" stroke-width="0.5">x</text>
<text transform="translate(646.00 634.40) scale(0.9700 1)" font-size="55" stroke="#000" stroke-width="0.6">[</text>
<text transform="translate(663.80 634.80) scale(1.1000 1)" font-size="54.5" class="it" stroke="#000" stroke-width="0.6">μ</text>
<text transform="translate(694.20 634.40) scale(0.9850 1)" font-size="55" stroke="#000" stroke-width="0.6">m]</text>
<text transform="translate(50.00 363.90) rotate(-90) scale(0.9460 1)" font-size="51.3" class="it" stroke="#000" stroke-width="0.5">y</text>
<text transform="translate(50.00 326.20) rotate(-90) scale(1.0700 1)" font-size="52" stroke="#000" stroke-width="0.6">[</text>
<text transform="translate(50.00 307.20) rotate(-90) scale(1.1800 1)" font-size="51.3" class="it" stroke="#000" stroke-width="0.6">μ</text>
<text transform="translate(50.00 275.80) rotate(-90) scale(1.0780 1)" font-size="52" stroke="#000" stroke-width="0.6">m</text>
<text transform="translate(50.00 227.70) rotate(-90) scale(1.0700 1)" font-size="52" stroke="#000" stroke-width="0.6">]</text>
<text transform="translate(-1.70 24.80) scale(1.0200 1)" font-size="32.3" stroke="#000" stroke-width="0.3">(a)</text>
<text transform="translate(0.95 679.00)" font-size="32.8" stroke="#000" stroke-width="0.3">(b)</text>
<defs><linearGradient id="jet" x1="0" y1="1" x2="0" y2="0">
<stop offset="0.0000" stop-color="#000080"/>
<stop offset="0.0156" stop-color="#000092"/>
<stop offset="0.0312" stop-color="#0000a4"/>
<stop offset="0.0469" stop-color="#0000b6"/>
<stop offset="0.0625" stop-color="#0000c8"/>
<stop offset="0.0781" stop-color="#0000da"/>
<stop offset="0.0938" stop-color="#0000ec"/>
<stop offset="0.1094" stop-color="#0000fe"/>
<stop offset="0.1250" stop-color="#0000ff"/>
<stop offset="0.1406" stop-color="#0010ff"/>
<stop offset="0.1562" stop-color="#0020ff"/>
<stop offset="0.1719" stop-color="#0030ff"/>
<stop offset="0.1875" stop-color="#0040ff"/>
<stop offset="0.2031" stop-color="#0050ff"/>
<stop offset="0.2188" stop-color="#0060ff"/>
<stop offset="0.2344" stop-color="#0070ff"/>
<stop offset="0.2500" stop-color="#0080ff"/>
<stop offset="0.2656" stop-color="#008fff"/>
<stop offset="0.2812" stop-color="#009fff"/>
<stop offset="0.2969" stop-color="#00afff"/>
<stop offset="0.3125" stop-color="#00bfff"/>
<stop offset="0.3281" stop-color="#00cfff"/>
<stop offset="0.3438" stop-color="#00dffc"/>
<stop offset="0.3594" stop-color="#08efef"/>
<stop offset="0.3750" stop-color="#15ffe2"/>
<stop offset="0.3906" stop-color="#21ffd5"/>
<stop offset="0.4062" stop-color="#2effc9"/>
<stop offset="0.4219" stop-color="#3bffbc"/>
<stop offset="0.4375" stop-color="#48ffaf"/>
<stop offset="0.4531" stop-color="#55ffa2"/>
<stop offset="0.4688" stop-color="#62ff95"/>
<stop offset="0.4844" stop-color="#6fff88"/>
<stop offset="0.5000" stop-color="#7bff7b"/>
<stop offset="0.5156" stop-color="#88ff6f"/>
<stop offset="0.5312" stop-color="#95ff62"/>
<stop offset="0.5469" stop-color="#a2ff55"/>
<stop offset="0.5625" stop-color="#afff48"/>
<stop offset="0.5781" stop-color="#bcff3b"/>
<stop offset="0.5938" stop-color="#c9ff2e"/>
<stop offset="0.6094" stop-color="#d5ff21"/>
<stop offset="0.6250" stop-color="#e2ff15"/>
<stop offset="0.6406" stop-color="#effe08"/>
<stop offset="0.6562" stop-color="#fcf000"/>
<stop offset="0.6719" stop-color="#ffe100"/>
<stop offset="0.6875" stop-color="#ffd200"/>
<stop offset="0.7031" stop-color="#ffc300"/>
<stop offset="0.7188" stop-color="#ffb500"/>
<stop offset="0.7344" stop-color="#ffa600"/>
<stop offset="0.7500" stop-color="#ff9700"/>
<stop offset="0.7656" stop-color="#ff8800"/>
<stop offset="0.7812" stop-color="#ff7a00"/>
<stop offset="0.7969" stop-color="#ff6b00"/>
<stop offset="0.8125" stop-color="#ff5c00"/>
<stop offset="0.8281" stop-color="#ff4d00"/>
<stop offset="0.8438" stop-color="#ff3f00"/>
<stop offset="0.8594" stop-color="#ff3000"/>
<stop offset="0.8750" stop-color="#ff2100"/>
<stop offset="0.8906" stop-color="#fe1200"/>
<stop offset="0.9062" stop-color="#ec0400"/>
<stop offset="0.9219" stop-color="#da0000"/>
<stop offset="0.9375" stop-color="#c80000"/>
<stop offset="0.9531" stop-color="#b60000"/>
<stop offset="0.9688" stop-color="#a40000"/>
<stop offset="0.9844" stop-color="#920000"/>
<stop offset="1.0000" stop-color="#800000"/>
</linearGradient></defs>
<rect x="1261.5" y="57.5" width="21.9" height="471.5" fill="url(#jet)" stroke="#000" stroke-width="2.2"/>
<line x1="1283.4" x2="1293.7" y1="529.0" y2="529.0" stroke="#000" stroke-width="2.2"/>
<text transform="translate(1304.80 540.60) scale(0.8700 1)" font-size="33.8" stroke="#000" stroke-width="0.4">0.0</text>
<line x1="1283.4" x2="1293.7" y1="434.7" y2="434.7" stroke="#000" stroke-width="2.2"/>
<text transform="translate(1304.80 446.30) scale(0.8700 1)" font-size="33.8" stroke="#000" stroke-width="0.4">0.2</text>
<line x1="1283.4" x2="1293.7" y1="340.4" y2="340.4" stroke="#000" stroke-width="2.2"/>
<text transform="translate(1304.80 352.00) scale(0.8700 1)" font-size="33.8" stroke="#000" stroke-width="0.4">0.4</text>
<line x1="1283.4" x2="1293.7" y1="246.1" y2="246.1" stroke="#000" stroke-width="2.2"/>
<text transform="translate(1304.80 257.70) scale(0.8700 1)" font-size="33.8" stroke="#000" stroke-width="0.4">0.6</text>
<line x1="1283.4" x2="1293.7" y1="151.8" y2="151.8" stroke="#000" stroke-width="2.2"/>
<text transform="translate(1304.80 163.40) scale(0.8700 1)" font-size="33.8" stroke="#000" stroke-width="0.4">0.8</text>
<line x1="1283.4" x2="1293.7" y1="57.5" y2="57.5" stroke="#000" stroke-width="2.2"/>
<text transform="translate(1304.80 69.10) scale(0.8700 1)" font-size="33.8" stroke="#000" stroke-width="0.4">1.0</text>
<defs><clipPath id="cb"><rect x="260.0" y="712.9" width="880.85" height="644.90"/></clipPath></defs>
<g clip-path="url(#cb)">
<polyline fill="none" stroke="#f00" stroke-width="3.6" stroke-linejoin="round" points="260.0,1182.4 282.0,1202.9 304.0,1227.4 326.1,1254.8 348.1,1282.9 370.1,1308.4 392.1,1320.0 414.1,1329.0 436.2,1335.7 458.2,1341.1 480.2,1344.8 502.2,1347.6 524.3,1349.8 546.3,1351.5 568.3,1352.7 590.3,1353.6 612.3,1354.2 634.4,1354.7 656.4,1355.0 678.4,1355.2 700.4,1355.4 722.4,1355.5 744.5,1355.6 766.5,1355.7 788.5,1355.7 810.5,1356.0 832.6,1356.0 854.6,1356.0 876.6,1356.0 898.6,1356.0 920.6,1356.0 942.7,1356.0 964.7,1356.0 986.7,1356.0 1008.7,1356.0 1030.7,1356.0 1052.8,1356.0 1074.8,1356.0 1096.8,1356.0 1118.8,1356.0"/>
<circle cx="260.0" cy="1182.4" r="7.1" fill="#f00"/>
<circle cx="282.0" cy="1202.9" r="7.1" fill="#f00"/>
<circle cx="304.0" cy="1227.4" r="7.1" fill="#f00"/>
<circle cx="326.1" cy="1254.8" r="7.1" fill="#f00"/>
<circle cx="348.1" cy="1282.9" r="7.1" fill="#f00"/>
<circle cx="370.1" cy="1308.4" r="7.1" fill="#f00"/>
<circle cx="392.1" cy="1320.0" r="7.1" fill="#f00"/>
<circle cx="414.1" cy="1329.0" r="7.1" fill="#f00"/>
<circle cx="436.2" cy="1335.7" r="7.1" fill="#f00"/>
<circle cx="458.2" cy="1341.1" r="7.1" fill="#f00"/>
<circle cx="480.2" cy="1344.8" r="7.1" fill="#f00"/>
<circle cx="502.2" cy="1347.6" r="7.1" fill="#f00"/>
<circle cx="524.3" cy="1349.8" r="7.1" fill="#f00"/>
<circle cx="546.3" cy="1351.5" r="7.1" fill="#f00"/>
<circle cx="568.3" cy="1352.7" r="7.1" fill="#f00"/>
<circle cx="590.3" cy="1353.6" r="7.1" fill="#f00"/>
<circle cx="612.3" cy="1354.2" r="7.1" fill="#f00"/>
<circle cx="634.4" cy="1354.7" r="7.1" fill="#f00"/>
<circle cx="656.4" cy="1355.0" r="7.1" fill="#f00"/>
<circle cx="678.4" cy="1355.2" r="7.1" fill="#f00"/>
<circle cx="700.4" cy="1355.4" r="7.1" fill="#f00"/>
<circle cx="722.4" cy="1355.5" r="7.1" fill="#f00"/>
<circle cx="744.5" cy="1355.6" r="7.1" fill="#f00"/>
<circle cx="766.5" cy="1355.7" r="7.1" fill="#f00"/>
<circle cx="788.5" cy="1355.7" r="7.1" fill="#f00"/>
<circle cx="810.5" cy="1356.0" r="7.1" fill="#f00"/>
<circle cx="832.6" cy="1356.0" r="7.1" fill="#f00"/>
<circle cx="854.6" cy="1356.0" r="7.1" fill="#f00"/>
<circle cx="876.6" cy="1356.0" r="7.1" fill="#f00"/>
<circle cx="898.6" cy="1356.0" r="7.1" fill="#f00"/>
<circle cx="920.6" cy="1356.0" r="7.1" fill="#f00"/>
<circle cx="942.7" cy="1356.0" r="7.1" fill="#f00"/>
<circle cx="964.7" cy="1356.0" r="7.1" fill="#f00"/>
<circle cx="986.7" cy="1356.0" r="7.1" fill="#f00"/>
<circle cx="1008.7" cy="1356.0" r="7.1" fill="#f00"/>
<circle cx="1030.7" cy="1356.0" r="7.1" fill="#f00"/>
<circle cx="1052.8" cy="1356.0" r="7.1" fill="#f00"/>
<circle cx="1074.8" cy="1356.0" r="7.1" fill="#f00"/>
<circle cx="1096.8" cy="1356.0" r="7.1" fill="#f00"/>
<circle cx="1118.8" cy="1356.0" r="7.1" fill="#f00"/>
<polyline fill="none" stroke="#00f" stroke-width="3.6" stroke-linejoin="round" points="414.1,646.0 436.2,869.8 458.2,1024.2 480.2,1119.3 502.2,1196.5 524.3,1246.7 546.3,1280.1 568.3,1300.7 590.3,1318.7 612.3,1329.0 634.4,1338.0 656.4,1343.5 678.4,1346.7 700.4,1349.6 722.4,1351.1 744.5,1352.1 766.5,1352.9 788.5,1353.4 810.5,1353.9 832.6,1354.3 854.6,1354.6 876.6,1354.7 898.6,1354.8 920.6,1355.2 942.7,1355.2 964.7,1355.2 986.7,1355.2 1008.7,1355.2 1030.7,1355.2 1052.8,1355.2 1074.8,1355.2 1096.8,1355.2 1118.8,1355.2"/>
<circle cx="414.1" cy="646.0" r="7.1" fill="#00f"/>
<circle cx="436.2" cy="869.8" r="7.1" fill="#00f"/>
<circle cx="458.2" cy="1024.2" r="7.1" fill="#00f"/>
<circle cx="480.2" cy="1119.3" r="7.1" fill="#00f"/>
<circle cx="502.2" cy="1196.5" r="7.1" fill="#00f"/>
<circle cx="524.3" cy="1246.7" r="7.1" fill="#00f"/>
<circle cx="546.3" cy="1280.1" r="7.1" fill="#00f"/>
<circle cx="568.3" cy="1300.7" r="7.1" fill="#00f"/>
<circle cx="590.3" cy="1318.7" r="7.1" fill="#00f"/>
<circle cx="612.3" cy="1329.0" r="7.1" fill="#00f"/>
<circle cx="634.4" cy="1338.0" r="7.1" fill="#00f"/>
<circle cx="656.4" cy="1343.5" r="7.1" fill="#00f"/>
<circle cx="678.4" cy="1346.7" r="7.1" fill="#00f"/>
<circle cx="700.4" cy="1349.6" r="7.1" fill="#00f"/>
<circle cx="722.4" cy="1351.1" r="7.1" fill="#00f"/>
<circle cx="744.5" cy="1352.1" r="7.1" fill="#00f"/>
<circle cx="766.5" cy="1352.9" r="7.1" fill="#00f"/>
<circle cx="788.5" cy="1353.4" r="7.1" fill="#00f"/>
<circle cx="810.5" cy="1353.9" r="7.1" fill="#00f"/>
<circle cx="832.6" cy="1354.3" r="7.1" fill="#00f"/>
<circle cx="854.6" cy="1354.6" r="7.1" fill="#00f"/>
<circle cx="876.6" cy="1354.7" r="7.1" fill="#00f"/>
<circle cx="898.6" cy="1354.8" r="7.1" fill="#00f"/>
<circle cx="920.6" cy="1355.2" r="7.1" fill="#00f"/>
<circle cx="942.7" cy="1355.2" r="7.1" fill="#00f"/>
<circle cx="964.7" cy="1355.2" r="7.1" fill="#00f"/>
<circle cx="986.7" cy="1355.2" r="7.1" fill="#00f"/>
<circle cx="1008.7" cy="1355.2" r="7.1" fill="#00f"/>
<circle cx="1030.7" cy="1355.2" r="7.1" fill="#00f"/>
<circle cx="1052.8" cy="1355.2" r="7.1" fill="#00f"/>
<circle cx="1074.8" cy="1355.2" r="7.1" fill="#00f"/>
<circle cx="1096.8" cy="1355.2" r="7.1" fill="#00f"/>
<circle cx="1118.8" cy="1355.2" r="7.1" fill="#00f"/>
</g>
<rect x="260.0" y="712.9" width="880.85" height="643.10" fill="none" stroke="#000" stroke-width="1.8"/>
<line x1="252.7" x2="260.0" y1="1356.0" y2="1356.0" stroke="#000" stroke-width="1.8"/>
<text transform="translate(245.70 1368.90) scale(0.9250 1)" font-size="36.9" text-anchor="end" stroke="#000" stroke-width="0.4">0</text>
<line x1="252.7" x2="260.0" y1="1227.4" y2="1227.4" stroke="#000" stroke-width="1.8"/>
<text transform="translate(245.70 1240.28) scale(0.9250 1)" font-size="36.9" text-anchor="end" stroke="#000" stroke-width="0.4">10</text>
<line x1="252.7" x2="260.0" y1="1098.8" y2="1098.8" stroke="#000" stroke-width="1.8"/>
<text transform="translate(245.70 1111.66) scale(0.9250 1)" font-size="36.9" text-anchor="end" stroke="#000" stroke-width="0.4">20</text>
<line x1="252.7" x2="260.0" y1="970.1" y2="970.1" stroke="#000" stroke-width="1.8"/>
<text transform="translate(245.70 983.04) scale(0.9250 1)" font-size="36.9" text-anchor="end" stroke="#000" stroke-width="0.4">30</text>
<line x1="252.7" x2="260.0" y1="841.5" y2="841.5" stroke="#000" stroke-width="1.8"/>
<text transform="translate(245.70 854.42) scale(0.9250 1)" font-size="36.9" text-anchor="end" stroke="#000" stroke-width="0.4">40</text>
<line x1="252.7" x2="260.0" y1="712.9" y2="712.9" stroke="#000" stroke-width="1.8"/>
<text transform="translate(245.70 725.80) scale(0.9250 1)" font-size="36.9" text-anchor="end" stroke="#000" stroke-width="0.4">50</text>
<line x1="260.0" x2="260.0" y1="1356.0" y2="1363.3" stroke="#000" stroke-width="1.8"/>
<text transform="translate(260.00 1395.60) scale(0.9250 1)" font-size="36.9" text-anchor="middle" stroke="#000" stroke-width="0.4">0</text>
<line x1="370.1" x2="370.1" y1="1356.0" y2="1363.3" stroke="#000" stroke-width="1.8"/>
<text transform="translate(370.11 1395.60) scale(0.9250 1)" font-size="36.9" text-anchor="middle" stroke="#000" stroke-width="0.4">250</text>
<line x1="480.2" x2="480.2" y1="1356.0" y2="1363.3" stroke="#000" stroke-width="1.8"/>
<text transform="translate(480.21 1395.60) scale(0.9250 1)" font-size="36.9" text-anchor="middle" stroke="#000" stroke-width="0.4">500</text>
<line x1="590.3" x2="590.3" y1="1356.0" y2="1363.3" stroke="#000" stroke-width="1.8"/>
<text transform="translate(590.32 1395.60) scale(0.9250 1)" font-size="36.9" text-anchor="middle" stroke="#000" stroke-width="0.4">750</text>
<line x1="700.4" x2="700.4" y1="1356.0" y2="1363.3" stroke="#000" stroke-width="1.8"/>
<text transform="translate(700.42 1395.60) scale(0.9250 1)" font-size="36.9" text-anchor="middle" stroke="#000" stroke-width="0.4">1000</text>
<line x1="810.5" x2="810.5" y1="1356.0" y2="1363.3" stroke="#000" stroke-width="1.8"/>
<text transform="translate(810.53 1395.60) scale(0.9250 1)" font-size="36.9" text-anchor="middle" stroke="#000" stroke-width="0.4">1250</text>
<line x1="920.6" x2="920.6" y1="1356.0" y2="1363.3" stroke="#000" stroke-width="1.8"/>
<text transform="translate(920.64 1395.60) scale(0.9250 1)" font-size="36.9" text-anchor="middle" stroke="#000" stroke-width="0.4">1500</text>
<line x1="1030.7" x2="1030.7" y1="1356.0" y2="1363.3" stroke="#000" stroke-width="1.8"/>
<text transform="translate(1030.74 1395.60) scale(0.9250 1)" font-size="36.9" text-anchor="middle" stroke="#000" stroke-width="0.4">1750</text>
<line x1="1140.8" x2="1140.8" y1="1356.0" y2="1363.3" stroke="#000" stroke-width="1.8"/>
<text transform="translate(1140.85 1395.60) scale(0.9250 1)" font-size="36.9" text-anchor="middle" stroke="#000" stroke-width="0.4">2000</text>
<text transform="translate(641.40 1436.80) scale(1.1500 1)" font-size="37.6" class="it" stroke="#000" stroke-width="0.4">W</text>
<text transform="translate(687.30 1436.90)" font-size="36.5" stroke="#000" stroke-width="0.4">[nm]</text>
<text transform="translate(191.00 1245.40) rotate(-90) scale(0.9970 1)" font-size="36.8" stroke="#000" stroke-width="0.3">Propagation loss [dB/mm]</text>
<rect x="935" y="730.5" width="188.5" height="115.5" rx="4.5" fill="#fff" fill-opacity="0.8" stroke="#ccc" stroke-width="1.7"/>
<line x1="948.2" x2="1024.8" y1="759" y2="759" stroke="#f00" stroke-width="3.6"/><circle cx="986.5" cy="759" r="7.1" fill="#f00"/>
<text transform="translate(1052.50 772.20)" font-size="36.3" stroke="#000" stroke-width="0.4">InP</text>
<line x1="948.2" x2="1024.8" y1="811" y2="811" stroke="#00f" stroke-width="3.6"/><circle cx="986.5" cy="811" r="7.1" fill="#00f"/>
<text transform="translate(1052.50 824.20)" font-size="36.3" stroke="#000" stroke-width="0.4">Si</text>
</svg></body></html>
